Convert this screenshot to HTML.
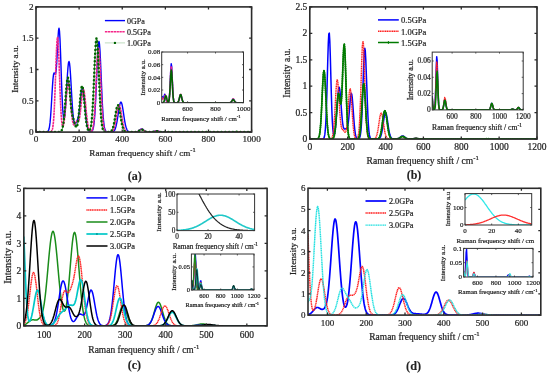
<!DOCTYPE html>
<html><head><meta charset="utf-8"><style>
html,body{margin:0;padding:0;background:#fff;}
svg{display:block;filter:blur(0.3px);}
svg text{font-family:"Liberation Serif", "Times New Roman", serif;stroke:#333;stroke-width:0.22px;paint-order:stroke;}
svg text[font-weight="bold"]{stroke-width:0.12px;}
</style></head><body>
<svg width="550" height="376" viewBox="0 0 550 376">
<rect width="550" height="376" fill="#fff"/>
<clipPath id="c1"><rect x="36.00" y="6.90" width="215.60" height="125.20"/></clipPath>
<g clip-path="url(#c1)">
<path d="M36.0 132.1 L36.5 132.1 L37.0 132.1 L37.5 132.1 L38.0 132.1 L38.5 132.1 L39.0 132.1 L39.5 132.1 L40.0 132.1 L40.5 132.1 L41.0 132.1 L41.5 132.1 L42.0 132.1 L42.5 132.1 L43.0 132.1 L43.5 132.1 L44.0 132.1 L44.5 132.1 L45.0 132.1 L45.5 132.1 L46.0 132.1 L46.5 132.0 L47.0 132.0 L47.5 131.8 L48.0 131.3 L48.5 130.5 L49.0 129.1 L49.5 126.6 L50.0 122.9 L50.5 117.6 L51.0 110.7 L51.5 102.5 L52.0 93.8 L52.5 85.6 L53.0 78.9 L53.5 74.7 L54.0 72.9 L54.5 73.2 L55.0 74.1 L55.5 74.1 L56.0 71.7 L56.5 66.1 L57.0 57.5 L57.5 47.4 L58.0 37.7 L58.5 30.7 L59.0 28.2 L59.5 31.2 L60.0 39.4 L60.5 51.7 L61.0 66.3 L61.5 81.2 L62.0 94.6 L62.5 105.4 L63.0 113.0 L63.5 117.4 L64.0 118.7 L64.5 117.2 L65.0 113.2 L65.5 107.2 L66.0 99.5 L66.5 90.9 L67.0 82.0 L67.5 73.7 L68.0 67.1 L68.5 62.7 L69.0 61.4 L69.5 63.1 L70.0 67.7 L70.5 74.6 L71.0 83.0 L71.5 91.9 L72.0 100.5 L72.5 108.1 L73.0 114.4 L73.5 119.0 L74.0 122.0 L74.5 123.6 L75.0 124.1 L75.5 123.8 L76.0 123.0 L76.5 122.0 L77.0 120.9 L77.5 119.6 L78.0 118.1 L78.5 116.0 L79.0 113.2 L79.5 109.5 L80.0 105.2 L80.5 100.4 L81.0 95.8 L81.5 91.8 L82.0 89.2 L82.5 88.2 L83.0 89.0 L83.5 91.6 L84.0 95.8 L84.5 100.9 L85.0 106.4 L85.5 111.9 L86.0 116.9 L86.5 121.2 L87.0 124.6 L87.5 127.2 L88.0 129.0 L88.5 130.2 L89.0 131.0 L89.5 131.5 L90.0 131.7 L90.5 131.9 L91.0 131.8 L91.5 131.6 L92.0 131.2 L92.5 130.5 L93.0 129.2 L93.5 127.0 L94.0 123.6 L94.5 118.7 L95.0 112.0 L95.5 103.3 L96.0 92.8 L96.5 81.0 L97.0 68.9 L97.5 57.7 L98.0 48.6 L98.5 42.9 L99.0 41.4 L99.5 44.2 L100.0 51.0 L100.5 60.8 L101.0 72.5 L101.5 84.6 L102.0 96.0 L102.5 106.0 L103.0 114.2 L103.5 120.3 L104.0 124.8 L104.5 127.7 L105.0 129.6 L105.5 130.8 L106.0 131.4 L106.5 131.8 L107.0 131.9 L107.5 132.0 L108.0 132.1 L108.5 132.1 L109.0 132.1 L109.5 132.1 L110.0 132.1 L110.5 132.1 L111.0 132.1 L111.5 132.0 L112.0 132.0 L112.5 131.9 L113.0 131.7 L113.5 131.4 L114.0 131.0 L114.5 130.3 L115.0 129.4 L115.5 128.1 L116.0 126.4 L116.5 124.2 L117.0 121.6 L117.5 118.6 L118.0 115.3 L118.5 111.9 L119.0 108.7 L119.5 105.9 L120.0 103.7 L120.5 102.4 L121.0 102.1 L121.5 102.8 L122.0 104.4 L122.5 106.9 L123.0 109.9 L123.5 113.2 L124.0 116.6 L124.5 119.8 L125.0 122.6 L125.5 125.1 L126.0 127.1 L126.5 128.6 L127.0 129.8 L127.5 130.6 L128.0 131.2 L128.5 131.5 L129.0 131.8 L129.5 131.9 L130.0 132.0 L130.5 132.0 L131.0 132.1 L131.5 132.1 L132.0 132.1 L132.5 132.1 L133.0 132.1 L133.5 132.1 L134.0 132.1 L134.5 132.1 L135.0 132.1 L135.5 132.0 L136.0 132.0 L136.5 131.9 L137.0 131.8 L137.5 131.6 L138.0 131.3 L138.5 131.0 L139.0 130.6 L139.5 130.1 L140.0 129.7 L140.5 129.3 L141.0 129.1 L141.5 129.0 L142.0 129.0 L142.5 129.2 L143.0 129.6 L143.5 130.0 L144.1 130.4 L144.6 130.8 L145.1 131.2 L145.6 131.5 L146.1 131.7 L146.6 131.9 L147.1 132.0 L147.6 132.0 L148.1 132.1 L148.6 132.1 L149.1 132.1 L149.6 132.1 L150.1 132.1 L150.6 132.1 L151.1 132.1 L151.6 132.0 L152.1 132.0 L152.6 131.9 L153.1 131.8 L153.6 131.7 L154.1 131.5 L154.6 131.3 L155.1 131.2 L155.6 131.0 L156.1 130.9 L156.6 130.9 L157.1 130.9 L157.6 130.9 L158.1 131.1 L158.6 131.2 L159.1 131.4 L159.6 131.6 L160.1 131.7 L160.6 131.8 L161.1 131.9 L161.6 132.0 L162.1 132.0 L162.6 132.1 L163.1 132.1 L163.6 132.1 L164.1 132.1 L164.6 132.1 L165.1 132.1 L165.6 132.1 L166.1 132.1 L166.6 132.1 L167.1 132.1 L167.6 132.1 L168.1 132.1 L168.6 132.1 L169.1 132.1 L169.6 132.1 L170.1 132.1 L170.6 132.1 L171.1 132.1 L171.6 132.1 L172.1 132.1 L172.6 132.1 L173.1 132.1 L173.6 132.1 L174.1 132.1 L174.6 132.1 L175.1 132.1 L175.6 132.1 L176.1 132.1 L176.6 132.1 L177.1 132.1 L177.6 132.1 L178.1 132.1 L178.6 132.1 L179.1 132.1 L179.6 132.1 L180.1 132.1 L180.6 132.1 L181.1 132.1 L181.6 132.1 L182.1 132.1 L182.6 132.1 L183.1 132.1 L183.6 132.1 L184.1 132.1 L184.6 132.1 L185.1 132.1 L185.6 132.1 L186.1 132.1 L186.6 132.1 L187.1 132.1 L187.6 132.1 L188.1 132.1 L188.6 132.1 L189.1 132.1 L189.6 132.1 L190.1 132.1 L190.6 132.1 L191.1 132.1 L191.6 132.1 L192.1 132.1 L192.6 132.1 L193.1 132.1 L193.6 132.1 L194.1 132.1 L194.6 132.1 L195.1 132.1 L195.6 132.1 L196.1 132.1 L196.6 132.1 L197.1 132.1 L197.6 132.1 L198.1 132.1 L198.6 132.1 L199.1 132.1 L199.6 132.1 L200.1 132.1 L200.6 132.1 L201.1 132.1 L201.6 132.1 L202.1 132.1 L202.6 132.1 L203.1 132.1 L203.6 132.1 L204.1 132.1 L204.6 132.1 L205.1 132.1 L205.6 132.1 L206.1 132.1 L206.6 132.1 L207.1 132.1 L207.6 132.1 L208.1 132.1 L208.6 132.1 L209.1 132.1 L209.6 132.1 L210.1 132.1 L210.6 132.1 L211.1 132.1 L211.6 132.1 L212.1 132.1 L212.6 132.1 L213.1 132.1 L213.6 132.1 L214.1 132.1 L214.6 132.1 L215.1 132.1 L215.6 132.1 L216.1 132.1 L216.6 132.1 L217.1 132.1 L217.6 132.1 L218.1 132.1 L218.6 132.1 L219.1 132.1 L219.6 132.1 L220.1 132.1 L220.6 132.1 L221.1 132.1 L221.6 132.1 L222.1 132.1 L222.6 132.1 L223.1 132.1 L223.6 132.1 L224.1 132.1 L224.6 132.1 L225.1 132.1 L225.6 132.1 L226.1 132.1 L226.6 132.1 L227.1 132.1 L227.6 132.1 L228.1 132.1 L228.6 132.1 L229.1 132.1 L229.6 132.1 L230.1 132.1 L230.6 132.1 L231.1 132.1 L231.6 132.1 L232.1 132.0 L232.6 132.0 L233.1 132.0 L233.6 131.9 L234.1 131.8 L234.6 131.8 L235.1 131.7 L235.6 131.6 L236.1 131.6 L236.6 131.6 L237.1 131.6 L237.6 131.7 L238.1 131.7 L238.6 131.8 L239.1 131.9 L239.6 131.9 L240.1 132.0 L240.6 132.0 L241.1 132.0 L241.6 132.1 L242.1 132.1 L242.6 132.1 L243.1 132.1 L243.6 132.1 L244.1 132.1 L244.6 132.1 L245.1 132.1 L245.6 132.1 L246.1 132.1 L246.6 132.1 L247.1 132.1 L247.6 132.1 L248.1 132.1 L248.6 132.1 L249.1 132.1 L249.6 132.1 L250.1 132.1 L250.6 132.1 L251.1 132.1 L251.6 132.1" fill="none" stroke="#0000ff" stroke-width="1.40" stroke-linejoin="round"/>
<path d="M36.0 132.1 L36.5 132.1 L37.0 132.1 L37.5 132.1 L38.0 132.1 L38.5 132.1 L39.0 132.1 L39.5 132.1 L40.0 132.1 L40.5 132.1 L41.0 132.1 L41.5 132.1 L42.0 132.1 L42.5 132.1 L43.0 132.1 L43.5 132.1 L44.0 132.1 L44.5 132.1 L45.0 132.1 L45.5 132.1 L46.0 132.1 L46.5 132.1 L47.0 132.1 L47.5 132.1 L48.0 132.1 L48.5 132.1 L49.0 132.1 L49.5 132.1 L50.0 132.1 L50.5 132.0 L51.0 131.8 L51.5 131.4 L52.0 130.5 L52.5 128.9 L53.0 126.0 L53.5 121.3 L54.0 114.3 L54.5 104.5 L55.0 92.0 L55.5 77.7 L56.0 63.0 L56.5 49.9 L57.0 40.7 L57.5 37.0 L58.0 39.5 L58.5 47.7 L59.0 60.1 L59.5 74.7 L60.0 89.2 L60.5 102.0 L61.0 112.1 L61.5 119.4 L62.0 123.9 L62.5 126.1 L63.0 126.3 L63.5 125.1 L64.0 122.5 L64.5 118.7 L65.0 113.8 L65.5 108.1 L66.0 101.9 L66.5 95.8 L67.0 90.3 L67.5 86.1 L68.0 83.7 L68.5 83.4 L69.0 85.2 L69.5 88.9 L70.0 94.0 L70.5 100.0 L71.0 106.1 L71.5 111.8 L72.0 116.8 L72.5 120.6 L73.0 123.2 L73.5 124.6 L74.0 125.0 L74.5 124.6 L75.0 123.7 L75.5 122.7 L76.0 121.8 L76.5 121.3 L77.0 121.2 L77.5 121.4 L78.0 121.5 L78.5 121.2 L79.0 120.2 L79.5 118.1 L80.0 115.0 L80.5 110.9 L81.0 106.0 L81.5 101.0 L82.0 96.3 L82.5 92.5 L83.0 90.1 L83.5 89.5 L84.0 90.8 L84.5 93.8 L85.0 98.1 L85.5 103.2 L86.0 108.7 L86.5 113.9 L87.0 118.6 L87.5 122.5 L88.0 125.6 L88.5 127.8 L89.0 129.4 L89.5 130.5 L90.0 131.1 L90.5 131.4 L91.0 131.5 L91.5 131.3 L92.0 130.7 L92.5 129.5 L93.0 127.7 L93.5 124.7 L94.0 120.3 L94.5 114.3 L95.0 106.5 L95.5 96.9 L96.0 86.1 L96.5 74.8 L97.0 64.2 L97.5 55.4 L98.0 49.6 L98.5 47.6 L99.0 49.7 L99.5 55.5 L100.0 64.4 L100.5 75.0 L101.0 86.3 L101.5 97.1 L102.0 106.6 L102.5 114.5 L103.0 120.5 L103.5 124.8 L104.0 127.7 L104.5 129.6 L105.0 130.7 L105.5 131.4 L106.0 131.8 L106.5 131.9 L107.0 132.0 L107.5 132.1 L108.0 132.1 L108.5 132.1 L109.0 132.1 L109.5 132.1 L110.0 132.1 L110.5 132.0 L111.0 131.9 L111.5 131.8 L112.0 131.5 L112.5 131.1 L113.0 130.6 L113.5 129.7 L114.0 128.5 L114.5 126.9 L115.0 124.8 L115.5 122.3 L116.0 119.5 L116.5 116.4 L117.0 113.3 L117.5 110.3 L118.0 107.9 L118.5 106.1 L119.0 105.2 L119.5 105.4 L120.0 106.5 L120.5 108.5 L121.0 111.1 L121.5 114.1 L122.0 117.2 L122.5 120.3 L123.0 123.0 L123.5 125.4 L124.0 127.4 L124.5 128.8 L125.0 130.0 L125.5 130.7 L126.0 131.3 L126.5 131.6 L127.0 131.8 L127.5 131.9 L128.0 132.0 L128.5 132.1 L129.0 132.1 L129.5 132.1 L130.0 132.1 L130.5 132.1 L131.0 132.1 L131.5 132.1 L132.0 132.1 L132.5 132.1 L133.0 132.1 L133.5 132.1 L134.0 132.1 L134.5 132.1 L135.0 132.1 L135.5 132.0 L136.0 132.0 L136.5 131.9 L137.0 131.8 L137.5 131.6 L138.0 131.4 L138.5 131.1 L139.0 130.7 L139.5 130.3 L140.0 130.0 L140.5 129.6 L141.0 129.4 L141.5 129.3 L142.0 129.3 L142.5 129.5 L143.0 129.8 L143.5 130.2 L144.1 130.6 L144.6 131.0 L145.1 131.3 L145.6 131.6 L146.1 131.8 L146.6 131.9 L147.1 132.0 L147.6 132.0 L148.1 132.1 L148.6 132.1 L149.1 132.1 L149.6 132.1 L150.1 132.1 L150.6 132.1 L151.1 132.1 L151.6 132.0 L152.1 132.0 L152.6 131.9 L153.1 131.8 L153.6 131.7 L154.1 131.6 L154.6 131.4 L155.1 131.3 L155.6 131.1 L156.1 131.0 L156.6 131.0 L157.1 131.0 L157.6 131.1 L158.1 131.2 L158.6 131.3 L159.1 131.5 L159.6 131.6 L160.1 131.8 L160.6 131.9 L161.1 131.9 L161.6 132.0 L162.1 132.0 L162.6 132.1 L163.1 132.1 L163.6 132.1 L164.1 132.1 L164.6 132.1 L165.1 132.1 L165.6 132.1 L166.1 132.1 L166.6 132.1 L167.1 132.1 L167.6 132.1 L168.1 132.1 L168.6 132.1 L169.1 132.1 L169.6 132.1 L170.1 132.1 L170.6 132.1 L171.1 132.1 L171.6 132.1 L172.1 132.1 L172.6 132.1 L173.1 132.1 L173.6 132.1 L174.1 132.1 L174.6 132.1 L175.1 132.1 L175.6 132.1 L176.1 132.1 L176.6 132.1 L177.1 132.1 L177.6 132.1 L178.1 132.1 L178.6 132.1 L179.1 132.1 L179.6 132.1 L180.1 132.1 L180.6 132.1 L181.1 132.1 L181.6 132.1 L182.1 132.1 L182.6 132.1 L183.1 132.1 L183.6 132.1 L184.1 132.1 L184.6 132.1 L185.1 132.1 L185.6 132.1 L186.1 132.1 L186.6 132.1 L187.1 132.1 L187.6 132.1 L188.1 132.1 L188.6 132.1 L189.1 132.1 L189.6 132.1 L190.1 132.1 L190.6 132.1 L191.1 132.1 L191.6 132.1 L192.1 132.1 L192.6 132.1 L193.1 132.1 L193.6 132.1 L194.1 132.1 L194.6 132.1 L195.1 132.1 L195.6 132.1 L196.1 132.1 L196.6 132.1 L197.1 132.1 L197.6 132.1 L198.1 132.1 L198.6 132.1 L199.1 132.1 L199.6 132.1 L200.1 132.1 L200.6 132.1 L201.1 132.1 L201.6 132.1 L202.1 132.1 L202.6 132.1 L203.1 132.1 L203.6 132.1 L204.1 132.1 L204.6 132.1 L205.1 132.1 L205.6 132.1 L206.1 132.1 L206.6 132.1 L207.1 132.1 L207.6 132.1 L208.1 132.1 L208.6 132.1 L209.1 132.1 L209.6 132.1 L210.1 132.1 L210.6 132.1 L211.1 132.1 L211.6 132.1 L212.1 132.1 L212.6 132.1 L213.1 132.1 L213.6 132.1 L214.1 132.1 L214.6 132.1 L215.1 132.1 L215.6 132.1 L216.1 132.1 L216.6 132.1 L217.1 132.1 L217.6 132.1 L218.1 132.1 L218.6 132.1 L219.1 132.1 L219.6 132.1 L220.1 132.1 L220.6 132.1 L221.1 132.1 L221.6 132.1 L222.1 132.1 L222.6 132.1 L223.1 132.1 L223.6 132.1 L224.1 132.1 L224.6 132.1 L225.1 132.1 L225.6 132.1 L226.1 132.1 L226.6 132.1 L227.1 132.1 L227.6 132.1 L228.1 132.1 L228.6 132.1 L229.1 132.1 L229.6 132.1 L230.1 132.1 L230.6 132.1 L231.1 132.1 L231.6 132.1 L232.1 132.0 L232.6 132.0 L233.1 132.0 L233.6 131.9 L234.1 131.9 L234.6 131.8 L235.1 131.7 L235.6 131.7 L236.1 131.7 L236.6 131.7 L237.1 131.7 L237.6 131.7 L238.1 131.8 L238.6 131.8 L239.1 131.9 L239.6 131.9 L240.1 132.0 L240.6 132.0 L241.1 132.1 L241.6 132.1 L242.1 132.1 L242.6 132.1 L243.1 132.1 L243.6 132.1 L244.1 132.1 L244.6 132.1 L245.1 132.1 L245.6 132.1 L246.1 132.1 L246.6 132.1 L247.1 132.1 L247.6 132.1 L248.1 132.1 L248.6 132.1 L249.1 132.1 L249.6 132.1 L250.1 132.1 L250.6 132.1 L251.1 132.1 L251.6 132.1" fill="none" stroke="#f5288a" stroke-width="1.60" stroke-dasharray="2.4 0.5"/>
<path d="M36.0 132.1 L36.5 132.1 L37.0 132.1 L37.5 132.1 L38.0 132.1 L38.5 132.1 L39.0 132.1 L39.5 132.1 L40.0 132.1 L40.5 132.1 L41.0 132.1 L41.5 132.1 L42.0 132.1 L42.5 132.1 L43.0 132.1 L43.5 132.1 L44.0 132.1 L44.5 132.1 L45.0 132.1 L45.5 132.1 L46.0 132.1 L46.5 132.1 L47.0 132.1 L47.5 132.1 L48.0 132.1 L48.5 132.1 L49.0 132.1 L49.5 132.1 L50.0 132.1 L50.5 132.1 L51.0 132.1 L51.5 132.1 L52.0 132.1 L52.5 132.1 L53.0 132.1 L53.5 132.1 L54.0 132.1 L54.5 132.1 L55.0 132.1 L55.5 132.1 L56.0 132.1 L56.5 132.1 L57.0 132.1 L57.5 132.1 L58.0 132.1 L58.5 132.1 L59.0 132.1 L59.5 132.0 L60.0 131.9 L60.5 131.7 L61.0 131.3 L61.5 130.7 L62.0 129.6 L62.5 128.0 L63.0 125.6 L63.5 122.3 L64.0 118.0 L64.5 112.6 L65.0 106.3 L65.5 99.4 L66.0 92.5 L66.5 86.3 L67.0 81.4 L67.5 78.4 L68.0 77.6 L68.5 79.2 L69.0 82.9 L69.5 88.2 L70.0 94.2 L70.5 100.3 L71.0 105.7 L71.5 110.2 L72.0 113.5 L72.5 115.9 L73.0 117.7 L73.5 119.3 L74.0 121.0 L74.5 122.8 L75.0 124.6 L75.5 126.1 L76.0 127.0 L76.5 127.2 L77.0 126.4 L77.5 124.5 L78.0 121.5 L78.5 117.5 L79.0 112.5 L79.5 106.9 L80.0 101.0 L80.5 95.4 L81.0 90.6 L81.5 87.3 L82.0 85.8 L82.5 86.4 L83.0 88.9 L83.5 93.0 L84.0 98.3 L84.5 104.2 L85.0 110.0 L85.5 115.4 L86.0 120.0 L86.5 123.7 L87.0 126.5 L87.5 128.5 L88.0 129.8 L88.5 130.6 L89.0 130.8 L89.5 130.6 L90.0 129.9 L90.5 128.4 L91.0 126.0 L91.5 122.4 L92.0 117.3 L92.5 110.4 L93.0 101.6 L93.5 91.2 L94.0 79.6 L94.5 67.6 L95.0 56.4 L95.5 47.1 L96.0 40.7 L96.5 38.2 L97.0 39.8 L97.5 45.4 L98.0 54.1 L98.5 65.0 L99.0 76.9 L99.5 88.7 L100.0 99.4 L100.5 108.6 L101.0 115.9 L101.5 121.4 L102.0 125.4 L102.5 128.1 L103.0 129.8 L103.5 130.8 L104.0 131.4 L104.5 131.8 L105.0 131.9 L105.5 132.0 L106.0 132.1 L106.5 132.1 L107.0 132.1 L107.5 132.1 L108.0 132.1 L108.5 132.1 L109.0 132.0 L109.5 132.0 L110.0 131.8 L110.5 131.6 L111.0 131.3 L111.5 130.8 L112.0 130.1 L112.5 129.0 L113.0 127.6 L113.5 125.7 L114.0 123.4 L114.5 120.7 L115.0 117.7 L115.5 114.5 L116.0 111.5 L116.5 108.8 L117.0 106.7 L117.5 105.5 L118.0 105.2 L118.5 105.9 L119.0 107.6 L119.5 109.9 L120.0 112.8 L120.5 115.9 L121.0 119.0 L121.5 121.9 L122.0 124.5 L122.5 126.6 L123.0 128.3 L123.5 129.5 L124.0 130.4 L124.5 131.1 L125.0 131.5 L125.5 131.7 L126.0 131.9 L126.5 132.0 L127.0 132.0 L127.5 132.1 L128.0 132.1 L128.5 132.1 L129.0 132.1 L129.5 132.1 L130.0 132.1 L130.5 132.1 L131.0 132.1 L131.5 132.1 L132.0 132.1 L132.5 132.1 L133.0 132.1 L133.5 132.1 L134.0 132.1 L134.5 132.1 L135.0 132.1 L135.5 132.1 L136.0 132.0 L136.5 131.9 L137.0 131.8 L137.5 131.7 L138.0 131.5 L138.5 131.2 L139.0 130.9 L139.5 130.5 L140.0 130.2 L140.5 129.9 L141.0 129.7 L141.5 129.6 L142.0 129.6 L142.5 129.8 L143.0 130.1 L143.5 130.4 L144.1 130.8 L144.6 131.1 L145.1 131.4 L145.6 131.6 L146.1 131.8 L146.6 131.9 L147.1 132.0 L147.6 132.0 L148.1 132.1 L148.6 132.1 L149.1 132.1 L149.6 132.1 L150.1 132.1 L150.6 132.1 L151.1 132.1 L151.6 132.0 L152.1 132.0 L152.6 132.0 L153.1 131.9 L153.6 131.8 L154.1 131.7 L154.6 131.5 L155.1 131.4 L155.6 131.3 L156.1 131.2 L156.6 131.2 L157.1 131.2 L157.6 131.2 L158.1 131.3 L158.6 131.4 L159.1 131.6 L159.6 131.7 L160.1 131.8 L160.6 131.9 L161.1 132.0 L161.6 132.0 L162.1 132.1 L162.6 132.1 L163.1 132.1 L163.6 132.1 L164.1 132.1 L164.6 132.1 L165.1 132.1 L165.6 132.1 L166.1 132.1 L166.6 132.1 L167.1 132.1 L167.6 132.1 L168.1 132.1 L168.6 132.1 L169.1 132.1 L169.6 132.1 L170.1 132.1 L170.6 132.1 L171.1 132.1 L171.6 132.1 L172.1 132.1 L172.6 132.1 L173.1 132.1 L173.6 132.1 L174.1 132.1 L174.6 132.1 L175.1 132.1 L175.6 132.1 L176.1 132.1 L176.6 132.1 L177.1 132.1 L177.6 132.1 L178.1 132.1 L178.6 132.1 L179.1 132.1 L179.6 132.1 L180.1 132.1 L180.6 132.1 L181.1 132.1 L181.6 132.1 L182.1 132.1 L182.6 132.1 L183.1 132.1 L183.6 132.1 L184.1 132.1 L184.6 132.1 L185.1 132.1 L185.6 132.1 L186.1 132.1 L186.6 132.1 L187.1 132.1 L187.6 132.1 L188.1 132.1 L188.6 132.1 L189.1 132.1 L189.6 132.1 L190.1 132.1 L190.6 132.1 L191.1 132.1 L191.6 132.1 L192.1 132.1 L192.6 132.1 L193.1 132.1 L193.6 132.1 L194.1 132.1 L194.6 132.1 L195.1 132.1 L195.6 132.1 L196.1 132.1 L196.6 132.1 L197.1 132.1 L197.6 132.1 L198.1 132.1 L198.6 132.1 L199.1 132.1 L199.6 132.1 L200.1 132.1 L200.6 132.1 L201.1 132.1 L201.6 132.1 L202.1 132.1 L202.6 132.1 L203.1 132.1 L203.6 132.1 L204.1 132.1 L204.6 132.1 L205.1 132.1 L205.6 132.1 L206.1 132.1 L206.6 132.1 L207.1 132.1 L207.6 132.1 L208.1 132.1 L208.6 132.1 L209.1 132.1 L209.6 132.1 L210.1 132.1 L210.6 132.1 L211.1 132.1 L211.6 132.1 L212.1 132.1 L212.6 132.1 L213.1 132.1 L213.6 132.1 L214.1 132.1 L214.6 132.1 L215.1 132.1 L215.6 132.1 L216.1 132.1 L216.6 132.1 L217.1 132.1 L217.6 132.1 L218.1 132.1 L218.6 132.1 L219.1 132.1 L219.6 132.1 L220.1 132.1 L220.6 132.1 L221.1 132.1 L221.6 132.1 L222.1 132.1 L222.6 132.1 L223.1 132.1 L223.6 132.1 L224.1 132.1 L224.6 132.1 L225.1 132.1 L225.6 132.1 L226.1 132.1 L226.6 132.1 L227.1 132.1 L227.6 132.1 L228.1 132.1 L228.6 132.1 L229.1 132.1 L229.6 132.1 L230.1 132.1 L230.6 132.1 L231.1 132.1 L231.6 132.1 L232.1 132.1 L232.6 132.0 L233.1 132.0 L233.6 131.9 L234.1 131.9 L234.6 131.8 L235.1 131.8 L235.6 131.8 L236.1 131.7 L236.6 131.7 L237.1 131.7 L237.6 131.8 L238.1 131.8 L238.6 131.9 L239.1 131.9 L239.6 132.0 L240.1 132.0 L240.6 132.0 L241.1 132.1 L241.6 132.1 L242.1 132.1 L242.6 132.1 L243.1 132.1 L243.6 132.1 L244.1 132.1 L244.6 132.1 L245.1 132.1 L245.6 132.1 L246.1 132.1 L246.6 132.1 L247.1 132.1 L247.6 132.1 L248.1 132.1 L248.6 132.1 L249.1 132.1 L249.6 132.1 L250.1 132.1 L250.6 132.1 L251.1 132.1 L251.6 132.1" fill="none" stroke="#007000" stroke-width="0.70" stroke-linejoin="round"/>
<path d="M36.0 132.1 L36.5 132.1 L37.0 132.1 L37.5 132.1 L38.0 132.1 L38.5 132.1 L39.0 132.1 L39.5 132.1 L40.0 132.1 L40.5 132.1 L41.0 132.1 L41.5 132.1 L42.0 132.1 L42.5 132.1 L43.0 132.1 L43.5 132.1 L44.0 132.1 L44.5 132.1 L45.0 132.1 L45.5 132.1 L46.0 132.1 L46.5 132.1 L47.0 132.1 L47.5 132.1 L48.0 132.1 L48.5 132.1 L49.0 132.1 L49.5 132.1 L50.0 132.1 L50.5 132.1 L51.0 132.1 L51.5 132.1 L52.0 132.1 L52.5 132.1 L53.0 132.1 L53.5 132.1 L54.0 132.1 L54.5 132.1 L55.0 132.1 L55.5 132.1 L56.0 132.1 L56.5 132.1 L57.0 132.1 L57.5 132.1 L58.0 132.1 L58.5 132.1 L59.0 132.1 L59.5 132.0 L60.0 131.9 L60.5 131.7 L61.0 131.3 L61.5 130.7 L62.0 129.6 L62.5 128.0 L63.0 125.6 L63.5 122.3 L64.0 118.0 L64.5 112.6 L65.0 106.3 L65.5 99.4 L66.0 92.5 L66.5 86.3 L67.0 81.4 L67.5 78.4 L68.0 77.6 L68.5 79.2 L69.0 82.9 L69.5 88.2 L70.0 94.2 L70.5 100.3 L71.0 105.7 L71.5 110.2 L72.0 113.5 L72.5 115.9 L73.0 117.7 L73.5 119.3 L74.0 121.0 L74.5 122.8 L75.0 124.6 L75.5 126.1 L76.0 127.0 L76.5 127.2 L77.0 126.4 L77.5 124.5 L78.0 121.5 L78.5 117.5 L79.0 112.5 L79.5 106.9 L80.0 101.0 L80.5 95.4 L81.0 90.6 L81.5 87.3 L82.0 85.8 L82.5 86.4 L83.0 88.9 L83.5 93.0 L84.0 98.3 L84.5 104.2 L85.0 110.0 L85.5 115.4 L86.0 120.0 L86.5 123.7 L87.0 126.5 L87.5 128.5 L88.0 129.8 L88.5 130.6 L89.0 130.8 L89.5 130.6 L90.0 129.9 L90.5 128.4 L91.0 126.0 L91.5 122.4 L92.0 117.3 L92.5 110.4 L93.0 101.6 L93.5 91.2 L94.0 79.6 L94.5 67.6 L95.0 56.4 L95.5 47.1 L96.0 40.7 L96.5 38.2 L97.0 39.8 L97.5 45.4 L98.0 54.1 L98.5 65.0 L99.0 76.9 L99.5 88.7 L100.0 99.4 L100.5 108.6 L101.0 115.9 L101.5 121.4 L102.0 125.4 L102.5 128.1 L103.0 129.8 L103.5 130.8 L104.0 131.4 L104.5 131.8 L105.0 131.9 L105.5 132.0 L106.0 132.1 L106.5 132.1 L107.0 132.1 L107.5 132.1 L108.0 132.1 L108.5 132.1 L109.0 132.0 L109.5 132.0 L110.0 131.8 L110.5 131.6 L111.0 131.3 L111.5 130.8 L112.0 130.1 L112.5 129.0 L113.0 127.6 L113.5 125.7 L114.0 123.4 L114.5 120.7 L115.0 117.7 L115.5 114.5 L116.0 111.5 L116.5 108.8 L117.0 106.7 L117.5 105.5 L118.0 105.2 L118.5 105.9 L119.0 107.6 L119.5 109.9 L120.0 112.8 L120.5 115.9 L121.0 119.0 L121.5 121.9 L122.0 124.5 L122.5 126.6 L123.0 128.3 L123.5 129.5 L124.0 130.4 L124.5 131.1 L125.0 131.5 L125.5 131.7 L126.0 131.9 L126.5 132.0 L127.0 132.0 L127.5 132.1 L128.0 132.1 L128.5 132.1 L129.0 132.1 L129.5 132.1 L130.0 132.1 L130.5 132.1 L131.0 132.1 L131.5 132.1 L132.0 132.1 L132.5 132.1 L133.0 132.1 L133.5 132.1 L134.0 132.1 L134.5 132.1 L135.0 132.1 L135.5 132.1 L136.0 132.0 L136.5 131.9 L137.0 131.8 L137.5 131.7 L138.0 131.5 L138.5 131.2 L139.0 130.9 L139.5 130.5 L140.0 130.2 L140.5 129.9 L141.0 129.7 L141.5 129.6 L142.0 129.6 L142.5 129.8 L143.0 130.1 L143.5 130.4 L144.1 130.8 L144.6 131.1 L145.1 131.4 L145.6 131.6 L146.1 131.8 L146.6 131.9 L147.1 132.0 L147.6 132.0 L148.1 132.1 L148.6 132.1 L149.1 132.1 L149.6 132.1 L150.1 132.1 L150.6 132.1 L151.1 132.1 L151.6 132.0 L152.1 132.0 L152.6 132.0 L153.1 131.9 L153.6 131.8 L154.1 131.7 L154.6 131.5 L155.1 131.4 L155.6 131.3 L156.1 131.2 L156.6 131.2 L157.1 131.2 L157.6 131.2 L158.1 131.3 L158.6 131.4 L159.1 131.6 L159.6 131.7 L160.1 131.8 L160.6 131.9 L161.1 132.0 L161.6 132.0 L162.1 132.1 L162.6 132.1 L163.1 132.1 L163.6 132.1 L164.1 132.1 L164.6 132.1 L165.1 132.1 L165.6 132.1 L166.1 132.1 L166.6 132.1 L167.1 132.1 L167.6 132.1 L168.1 132.1 L168.6 132.1 L169.1 132.1 L169.6 132.1 L170.1 132.1 L170.6 132.1 L171.1 132.1 L171.6 132.1 L172.1 132.1 L172.6 132.1 L173.1 132.1 L173.6 132.1 L174.1 132.1 L174.6 132.1 L175.1 132.1 L175.6 132.1 L176.1 132.1 L176.6 132.1 L177.1 132.1 L177.6 132.1 L178.1 132.1 L178.6 132.1 L179.1 132.1 L179.6 132.1 L180.1 132.1 L180.6 132.1 L181.1 132.1 L181.6 132.1 L182.1 132.1 L182.6 132.1 L183.1 132.1 L183.6 132.1 L184.1 132.1 L184.6 132.1 L185.1 132.1 L185.6 132.1 L186.1 132.1 L186.6 132.1 L187.1 132.1 L187.6 132.1 L188.1 132.1 L188.6 132.1 L189.1 132.1 L189.6 132.1 L190.1 132.1 L190.6 132.1 L191.1 132.1 L191.6 132.1 L192.1 132.1 L192.6 132.1 L193.1 132.1 L193.6 132.1 L194.1 132.1 L194.6 132.1 L195.1 132.1 L195.6 132.1 L196.1 132.1 L196.6 132.1 L197.1 132.1 L197.6 132.1 L198.1 132.1 L198.6 132.1 L199.1 132.1 L199.6 132.1 L200.1 132.1 L200.6 132.1 L201.1 132.1 L201.6 132.1 L202.1 132.1 L202.6 132.1 L203.1 132.1 L203.6 132.1 L204.1 132.1 L204.6 132.1 L205.1 132.1 L205.6 132.1 L206.1 132.1 L206.6 132.1 L207.1 132.1 L207.6 132.1 L208.1 132.1 L208.6 132.1 L209.1 132.1 L209.6 132.1 L210.1 132.1 L210.6 132.1 L211.1 132.1 L211.6 132.1 L212.1 132.1 L212.6 132.1 L213.1 132.1 L213.6 132.1 L214.1 132.1 L214.6 132.1 L215.1 132.1 L215.6 132.1 L216.1 132.1 L216.6 132.1 L217.1 132.1 L217.6 132.1 L218.1 132.1 L218.6 132.1 L219.1 132.1 L219.6 132.1 L220.1 132.1 L220.6 132.1 L221.1 132.1 L221.6 132.1 L222.1 132.1 L222.6 132.1 L223.1 132.1 L223.6 132.1 L224.1 132.1 L224.6 132.1 L225.1 132.1 L225.6 132.1 L226.1 132.1 L226.6 132.1 L227.1 132.1 L227.6 132.1 L228.1 132.1 L228.6 132.1 L229.1 132.1 L229.6 132.1 L230.1 132.1 L230.6 132.1 L231.1 132.1 L231.6 132.1 L232.1 132.1 L232.6 132.0 L233.1 132.0 L233.6 131.9 L234.1 131.9 L234.6 131.8 L235.1 131.8 L235.6 131.8 L236.1 131.7 L236.6 131.7 L237.1 131.7 L237.6 131.8 L238.1 131.8 L238.6 131.9 L239.1 131.9 L239.6 132.0 L240.1 132.0 L240.6 132.0 L241.1 132.1 L241.6 132.1 L242.1 132.1 L242.6 132.1 L243.1 132.1 L243.6 132.1 L244.1 132.1 L244.6 132.1 L245.1 132.1 L245.6 132.1 L246.1 132.1 L246.6 132.1 L247.1 132.1 L247.6 132.1 L248.1 132.1 L248.6 132.1 L249.1 132.1 L249.6 132.1 L250.1 132.1 L250.6 132.1 L251.1 132.1 L251.6 132.1" fill="none" stroke="#006400" stroke-width="2.50" stroke-linecap="round" stroke-dasharray="0 3.8"/>
</g>
<rect x="36.00" y="6.90" width="215.60" height="125.20" fill="none" stroke="#2b2b2b" stroke-width="1.60"/>
<path d="M36.00 132.10 V129.60 M36.00 6.90 V9.40 M79.12 132.10 V129.60 M79.12 6.90 V9.40 M122.24 132.10 V129.60 M122.24 6.90 V9.40 M165.36 132.10 V129.60 M165.36 6.90 V9.40 M208.48 132.10 V129.60 M208.48 6.90 V9.40 M251.60 132.10 V129.60 M251.60 6.90 V9.40 M36.00 132.10 H38.50 M251.60 132.10 H249.10 M36.00 100.80 H38.50 M251.60 100.80 H249.10 M36.00 69.50 H38.50 M251.60 69.50 H249.10 M36.00 38.20 H38.50 M251.60 38.20 H249.10 M36.00 6.90 H38.50 M251.60 6.90 H249.10" stroke="#2b2b2b" stroke-width="1.28" fill="none"/>
<text x="36.00" y="142.30" font-size="9.20" text-anchor="middle" font-weight="normal" fill="#222">0</text>
<text x="79.12" y="142.30" font-size="9.20" text-anchor="middle" font-weight="normal" fill="#222">200</text>
<text x="122.24" y="142.30" font-size="9.20" text-anchor="middle" font-weight="normal" fill="#222">400</text>
<text x="165.36" y="142.30" font-size="9.20" text-anchor="middle" font-weight="normal" fill="#222">600</text>
<text x="208.48" y="142.30" font-size="9.20" text-anchor="middle" font-weight="normal" fill="#222">800</text>
<text x="251.60" y="142.30" font-size="9.20" text-anchor="middle" font-weight="normal" fill="#222">1000</text>
<text x="33.50" y="135.14" font-size="9.20" text-anchor="end" font-weight="normal" fill="#222">0</text>
<text x="33.50" y="103.84" font-size="9.20" text-anchor="end" font-weight="normal" fill="#222">0.5</text>
<text x="33.50" y="72.54" font-size="9.20" text-anchor="end" font-weight="normal" fill="#222">1</text>
<text x="33.50" y="41.24" font-size="9.20" text-anchor="end" font-weight="normal" fill="#222">1.5</text>
<text x="33.50" y="9.94" font-size="9.20" text-anchor="end" font-weight="normal" fill="#222">2</text>
<path d="M104.90 20.60 H125.00" stroke="#0000ff" stroke-width="1.40"/>
<text x="127.00" y="23.72" font-size="8.00" text-anchor="start" font-weight="normal" fill="#222">0GPa</text>
<path d="M104.90 31.80 H125.00" stroke="#f5288a" stroke-width="1.60" stroke-dasharray="2.4 0.5"/>
<text x="127.00" y="34.92" font-size="8.00" text-anchor="start" font-weight="normal" fill="#222">0.5GPa</text>
<path d="M104.90 42.90 H125.00" stroke="#b8d8b8" stroke-width="0.90"/>
<circle cx="114.95" cy="42.90" r="1.2" fill="#006400"/>
<text x="127.00" y="46.02" font-size="8.00" text-anchor="start" font-weight="normal" fill="#222">1.0GPa</text>
<rect x="161.70" y="52.00" width="81.80" height="50.70" fill="#fff"/>
<clipPath id="c2"><rect x="161.70" y="52.00" width="81.80" height="50.70"/></clipPath>
<g clip-path="url(#c2)">
<path d="M161.7 96.4 L162.2 96.7 L162.7 97.5 L163.2 98.1 L163.7 97.5 L164.2 95.7 L164.7 94.1 L165.2 94.7 L165.7 97.4 L166.2 100.2 L166.7 101.9 L167.2 102.5 L167.7 102.6 L168.2 102.5 L168.7 101.6 L169.2 98.9 L169.7 92.7 L170.2 82.2 L170.7 70.4 L171.2 63.7 L171.7 66.4 L172.2 76.7 L172.7 88.4 L173.2 96.7 L173.7 100.7 L174.2 102.2 L174.7 102.6 L175.2 102.7 L175.8 102.7 L176.3 102.7 L176.8 102.7 L177.3 102.6 L177.8 102.4 L178.3 101.7 L178.8 100.5 L179.3 98.6 L179.8 96.4 L180.3 94.8 L180.8 94.6 L181.3 95.9 L181.8 98.1 L182.3 100.1 L182.8 101.5 L183.3 102.3 L183.8 102.6 L184.3 102.7 L184.8 102.7 L185.3 102.7 L185.8 102.7 L186.3 102.7 L186.8 102.7 L187.3 102.7 L187.8 102.7 L188.3 102.7 L188.8 102.7 L189.3 102.7 L189.8 102.7 L190.3 102.7 L190.8 102.7 L191.3 102.7 L191.8 102.7 L192.3 102.7 L192.8 102.7 L193.3 102.7 L193.8 102.7 L194.3 102.7 L194.8 102.7 L195.3 102.7 L195.8 102.7 L196.3 102.7 L196.8 102.7 L197.3 102.7 L197.8 102.7 L198.3 102.7 L198.8 102.7 L199.3 102.7 L199.8 102.7 L200.3 102.7 L200.8 102.7 L201.3 102.7 L201.8 102.7 L202.3 102.7 L202.9 102.7 L203.4 102.7 L203.9 102.7 L204.4 102.7 L204.9 102.7 L205.4 102.7 L205.9 102.7 L206.4 102.7 L206.9 102.7 L207.4 102.7 L207.9 102.7 L208.4 102.7 L208.9 102.7 L209.4 102.7 L209.9 102.7 L210.4 102.7 L210.9 102.7 L211.4 102.7 L211.9 102.7 L212.4 102.7 L212.9 102.7 L213.4 102.7 L213.9 102.7 L214.4 102.7 L214.9 102.7 L215.4 102.7 L215.9 102.7 L216.4 102.7 L216.9 102.7 L217.4 102.7 L217.9 102.7 L218.4 102.7 L218.9 102.7 L219.4 102.7 L219.9 102.7 L220.4 102.7 L220.9 102.7 L221.4 102.7 L221.9 102.7 L222.4 102.7 L222.9 102.7 L223.4 102.7 L223.9 102.7 L224.4 102.7 L224.9 102.7 L225.4 102.7 L225.9 102.7 L226.4 102.7 L226.9 102.7 L227.4 102.7 L227.9 102.7 L228.4 102.7 L228.9 102.7 L229.4 102.7 L230.0 102.6 L230.5 102.5 L231.0 102.1 L231.5 101.5 L232.0 100.6 L232.5 99.6 L233.0 99.0 L233.5 99.0 L234.0 99.8 L234.5 100.8 L235.0 101.7 L235.5 102.3 L236.0 102.5 L236.5 102.7 L237.0 102.7 L237.5 102.7 L238.0 102.7 L238.5 102.7 L239.0 102.7 L239.5 102.7 L240.0 102.7 L240.5 102.7 L241.0 102.7 L241.5 102.7 L242.0 102.7 L242.5 102.7 L243.0 102.7 L243.5 102.7" fill="none" stroke="#0000ff" stroke-width="1.40" stroke-linejoin="round"/>
<path d="M161.7 97.6 L162.2 97.9 L162.7 98.7 L163.2 99.4 L163.7 99.4 L164.2 98.2 L164.7 96.3 L165.2 95.5 L165.7 96.9 L166.2 99.3 L166.7 101.3 L167.2 102.3 L167.7 102.6 L168.2 102.5 L168.7 101.7 L169.2 99.2 L169.7 93.3 L170.2 83.5 L170.7 72.5 L171.2 66.2 L171.7 68.7 L172.2 78.4 L172.7 89.3 L173.2 97.0 L173.7 100.9 L174.2 102.2 L174.7 102.6 L175.2 102.7 L175.8 102.7 L176.3 102.7 L176.8 102.7 L177.3 102.6 L177.8 102.4 L178.3 101.7 L178.8 100.5 L179.3 98.6 L179.8 96.4 L180.3 94.8 L180.8 94.6 L181.3 95.9 L181.8 98.1 L182.3 100.1 L182.8 101.5 L183.3 102.3 L183.8 102.6 L184.3 102.7 L184.8 102.7 L185.3 102.7 L185.8 102.7 L186.3 102.7 L186.8 102.7 L187.3 102.7 L187.8 102.7 L188.3 102.7 L188.8 102.7 L189.3 102.7 L189.8 102.7 L190.3 102.7 L190.8 102.7 L191.3 102.7 L191.8 102.7 L192.3 102.7 L192.8 102.7 L193.3 102.7 L193.8 102.7 L194.3 102.7 L194.8 102.7 L195.3 102.7 L195.8 102.7 L196.3 102.7 L196.8 102.7 L197.3 102.7 L197.8 102.7 L198.3 102.7 L198.8 102.7 L199.3 102.7 L199.8 102.7 L200.3 102.7 L200.8 102.7 L201.3 102.7 L201.8 102.7 L202.3 102.7 L202.9 102.7 L203.4 102.7 L203.9 102.7 L204.4 102.7 L204.9 102.7 L205.4 102.7 L205.9 102.7 L206.4 102.7 L206.9 102.7 L207.4 102.7 L207.9 102.7 L208.4 102.7 L208.9 102.7 L209.4 102.7 L209.9 102.7 L210.4 102.7 L210.9 102.7 L211.4 102.7 L211.9 102.7 L212.4 102.7 L212.9 102.7 L213.4 102.7 L213.9 102.7 L214.4 102.7 L214.9 102.7 L215.4 102.7 L215.9 102.7 L216.4 102.7 L216.9 102.7 L217.4 102.7 L217.9 102.7 L218.4 102.7 L218.9 102.7 L219.4 102.7 L219.9 102.7 L220.4 102.7 L220.9 102.7 L221.4 102.7 L221.9 102.7 L222.4 102.7 L222.9 102.7 L223.4 102.7 L223.9 102.7 L224.4 102.7 L224.9 102.7 L225.4 102.7 L225.9 102.7 L226.4 102.7 L226.9 102.7 L227.4 102.7 L227.9 102.7 L228.4 102.7 L228.9 102.7 L229.4 102.7 L230.0 102.6 L230.5 102.5 L231.0 102.1 L231.5 101.5 L232.0 100.6 L232.5 99.6 L233.0 99.0 L233.5 99.0 L234.0 99.8 L234.5 100.8 L235.0 101.7 L235.5 102.3 L236.0 102.5 L236.5 102.7 L237.0 102.7 L237.5 102.7 L238.0 102.7 L238.5 102.7 L239.0 102.7 L239.5 102.7 L240.0 102.7 L240.5 102.7 L241.0 102.7 L241.5 102.7 L242.0 102.7 L242.5 102.7 L243.0 102.7 L243.5 102.7" fill="none" stroke="#f5288a" stroke-width="1.60" stroke-dasharray="2.4 0.5"/>
<path d="M161.7 102.7 L162.2 102.7 L162.7 102.7 L163.2 102.5 L163.7 102.1 L164.2 101.1 L164.7 99.3 L165.2 97.2 L165.7 95.8 L166.2 96.1 L166.7 97.8 L167.2 99.9 L167.7 101.4 L168.2 102.1 L168.7 101.7 L169.2 99.5 L169.7 94.3 L170.2 85.5 L170.7 75.6 L171.2 70.0 L171.7 72.2 L172.2 80.9 L172.7 90.7 L173.2 97.6 L173.7 101.1 L174.2 102.3 L174.7 102.6 L175.2 102.7 L175.8 102.7 L176.3 102.7 L176.8 102.7 L177.3 102.6 L177.8 102.4 L178.3 101.7 L178.8 100.5 L179.3 98.6 L179.8 96.4 L180.3 94.8 L180.8 94.6 L181.3 95.9 L181.8 98.1 L182.3 100.1 L182.8 101.5 L183.3 102.3 L183.8 102.6 L184.3 102.7 L184.8 102.7 L185.3 102.7 L185.8 102.7 L186.3 102.7 L186.8 102.7 L187.3 102.7 L187.8 102.7 L188.3 102.7 L188.8 102.7 L189.3 102.7 L189.8 102.7 L190.3 102.7 L190.8 102.7 L191.3 102.7 L191.8 102.7 L192.3 102.7 L192.8 102.7 L193.3 102.7 L193.8 102.7 L194.3 102.7 L194.8 102.7 L195.3 102.7 L195.8 102.7 L196.3 102.7 L196.8 102.7 L197.3 102.7 L197.8 102.7 L198.3 102.7 L198.8 102.7 L199.3 102.7 L199.8 102.7 L200.3 102.7 L200.8 102.7 L201.3 102.7 L201.8 102.7 L202.3 102.7 L202.9 102.7 L203.4 102.7 L203.9 102.7 L204.4 102.7 L204.9 102.7 L205.4 102.7 L205.9 102.7 L206.4 102.7 L206.9 102.7 L207.4 102.7 L207.9 102.7 L208.4 102.7 L208.9 102.7 L209.4 102.7 L209.9 102.7 L210.4 102.7 L210.9 102.7 L211.4 102.7 L211.9 102.7 L212.4 102.7 L212.9 102.7 L213.4 102.7 L213.9 102.7 L214.4 102.7 L214.9 102.7 L215.4 102.7 L215.9 102.7 L216.4 102.7 L216.9 102.7 L217.4 102.7 L217.9 102.7 L218.4 102.7 L218.9 102.7 L219.4 102.7 L219.9 102.7 L220.4 102.7 L220.9 102.7 L221.4 102.7 L221.9 102.7 L222.4 102.7 L222.9 102.7 L223.4 102.7 L223.9 102.7 L224.4 102.7 L224.9 102.7 L225.4 102.7 L225.9 102.7 L226.4 102.7 L226.9 102.7 L227.4 102.7 L227.9 102.7 L228.4 102.7 L228.9 102.7 L229.4 102.7 L230.0 102.6 L230.5 102.5 L231.0 102.2 L231.5 101.7 L232.0 100.9 L232.5 100.1 L233.0 99.6 L233.5 99.7 L234.0 100.3 L234.5 101.1 L235.0 101.9 L235.5 102.3 L236.0 102.6 L236.5 102.7 L237.0 102.7 L237.5 102.7 L238.0 102.7 L238.5 102.7 L239.0 102.7 L239.5 102.7 L240.0 102.7 L240.5 102.7 L241.0 102.7 L241.5 102.7 L242.0 102.7 L242.5 102.7 L243.0 102.7 L243.5 102.7" fill="none" stroke="#006400" stroke-width="1.60" stroke-linejoin="round"/>
</g>
<rect x="161.70" y="52.00" width="81.80" height="50.70" fill="none" stroke="#333" stroke-width="1.00"/>
<path d="M187.57 102.70 V101.20 M187.57 52.00 V53.50 M215.53 102.70 V101.20 M215.53 52.00 V53.50 M243.50 102.70 V101.20 M243.50 52.00 V53.50 M161.70 102.70 H163.20 M243.50 102.70 H242.00 M161.70 90.03 H163.20 M243.50 90.03 H242.00 M161.70 77.35 H163.20 M243.50 77.35 H242.00 M161.70 64.67 H163.20 M243.50 64.67 H242.00 M161.70 52.00 H163.20 M243.50 52.00 H242.00" stroke="#333" stroke-width="0.80" fill="none"/>
<text x="187.57" y="110.90" font-size="7.00" text-anchor="middle" font-weight="normal" fill="#222">600</text>
<text x="215.53" y="110.90" font-size="7.00" text-anchor="middle" font-weight="normal" fill="#222">800</text>
<text x="243.50" y="110.90" font-size="7.00" text-anchor="middle" font-weight="normal" fill="#222">1000</text>
<text x="160.20" y="105.01" font-size="7.00" text-anchor="end" font-weight="normal" fill="#222">0</text>
<text x="160.20" y="92.34" font-size="7.00" text-anchor="end" font-weight="normal" fill="#222">0.02</text>
<text x="160.20" y="79.66" font-size="7.00" text-anchor="end" font-weight="normal" fill="#222">0.04</text>
<text x="160.20" y="66.98" font-size="7.00" text-anchor="end" font-weight="normal" fill="#222">0.06</text>
<text x="160.20" y="54.31" font-size="7.00" text-anchor="end" font-weight="normal" fill="#222">0.08</text>
<text x="201.00" y="120.90" font-size="6.80" text-anchor="middle" fill="#222">Raman frequency shift / cm<tspan font-size="4.76" dy="-2.72">-1</tspan></text>
<text x="144.70" y="77.30" font-size="7.00" text-anchor="middle" font-weight="normal" fill="#222" transform="rotate(-90 144.70 77.30)">Intensity a.u.</text>
<text x="142.50" y="156.00" font-size="9.10" text-anchor="middle" fill="#222">Raman frequency shift / cm<tspan font-size="6.37" dy="-3.64">-1</tspan></text>
<text x="17.60" y="69.00" font-size="9.20" text-anchor="middle" font-weight="normal" fill="#222" transform="rotate(-90 17.60 69.00)">Intensity a.u.</text>
<text x="134.70" y="179.80" font-size="12.00" text-anchor="middle" font-weight="bold" fill="#222">(a)</text>
<clipPath id="c3"><rect x="309.80" y="6.90" width="227.20" height="132.20"/></clipPath>
<g clip-path="url(#c3)">
<path d="M309.8 139.1 L310.3 139.1 L310.8 139.1 L311.3 139.1 L311.8 139.1 L312.3 139.1 L312.8 139.1 L313.3 139.1 L313.8 139.1 L314.3 139.1 L314.8 139.1 L315.3 139.1 L315.8 139.1 L316.3 139.1 L316.8 139.1 L317.3 139.1 L317.8 139.1 L318.3 139.1 L318.8 139.1 L319.3 139.1 L319.8 139.1 L320.3 139.1 L320.8 139.1 L321.3 139.1 L321.8 139.1 L322.3 139.1 L322.8 139.0 L323.3 138.8 L323.8 138.3 L324.3 137.1 L324.8 134.7 L325.3 130.2 L325.8 122.7 L326.3 111.3 L326.8 96.0 L327.3 77.8 L327.8 59.1 L328.3 43.3 L328.8 33.9 L329.3 33.1 L329.8 41.1 L330.3 55.9 L330.8 74.4 L331.3 92.9 L331.8 108.8 L332.3 120.7 L332.8 128.6 L333.3 133.0 L333.8 134.8 L334.3 134.6 L334.8 132.7 L335.3 129.4 L335.8 124.6 L336.3 118.4 L336.8 111.3 L337.3 103.8 L337.8 96.7 L338.3 91.1 L338.8 87.8 L339.3 87.3 L339.8 89.7 L340.3 94.4 L340.8 100.8 L341.3 107.7 L341.8 114.4 L342.3 120.0 L342.8 124.1 L343.3 126.9 L343.8 128.3 L344.3 128.9 L344.8 129.0 L345.3 128.9 L345.8 128.7 L346.3 128.6 L346.8 128.2 L347.3 127.3 L347.8 125.5 L348.3 122.3 L348.8 117.8 L349.3 112.0 L349.8 105.6 L350.3 99.6 L350.8 95.2 L351.3 93.2 L351.8 94.3 L352.3 98.2 L352.8 104.2 L353.3 111.4 L353.8 118.5 L354.3 124.9 L354.8 129.9 L355.3 133.6 L355.8 136.0 L356.3 137.5 L356.8 138.3 L357.3 138.7 L357.8 138.9 L358.3 138.9 L358.8 138.8 L359.3 138.3 L359.8 137.3 L360.3 135.4 L360.8 131.9 L361.3 126.1 L361.8 117.5 L362.3 105.8 L362.8 91.6 L363.3 76.3 L363.8 62.4 L364.3 52.3 L364.8 48.2 L365.3 51.0 L365.8 60.1 L366.3 73.5 L366.9 88.7 L367.4 103.3 L367.9 115.5 L368.4 124.7 L368.9 131.0 L369.4 134.9 L369.9 137.1 L370.4 138.2 L370.9 138.7 L371.4 139.0 L371.9 139.0 L372.4 139.1 L372.9 139.1 L373.4 139.1 L373.9 139.1 L374.4 139.1 L374.9 139.1 L375.4 139.1 L375.9 139.1 L376.4 139.1 L376.9 139.1 L377.4 139.1 L377.9 139.0 L378.4 138.9 L378.9 138.7 L379.4 138.4 L379.9 137.9 L380.4 137.1 L380.9 135.9 L381.4 134.2 L381.9 131.9 L382.4 129.1 L382.9 125.8 L383.4 122.3 L383.9 118.9 L384.4 115.9 L384.9 113.8 L385.4 112.7 L385.9 112.9 L386.4 114.4 L386.9 116.8 L387.4 120.0 L387.9 123.5 L388.4 127.0 L388.9 130.1 L389.4 132.7 L389.9 134.8 L390.4 136.4 L390.9 137.4 L391.4 138.1 L391.9 138.6 L392.4 138.8 L392.9 139.0 L393.4 139.0 L393.9 139.1 L394.4 139.1 L394.9 139.1 L395.4 139.1 L395.9 139.1 L396.4 139.0 L396.9 139.0 L397.4 138.9 L397.9 138.7 L398.4 138.5 L398.9 138.3 L399.4 137.9 L399.9 137.5 L400.4 137.1 L400.9 136.7 L401.4 136.3 L401.9 136.1 L402.4 135.9 L402.9 136.0 L403.4 136.1 L403.9 136.4 L404.4 136.8 L404.9 137.2 L405.4 137.6 L405.9 138.0 L406.4 138.3 L406.9 138.6 L407.4 138.8 L407.9 138.9 L408.4 139.0 L408.9 139.0 L409.4 139.1 L409.9 139.1 L410.4 139.1 L410.9 139.1 L411.4 139.0 L411.9 139.0 L412.4 138.9 L412.9 138.9 L413.4 138.8 L413.9 138.6 L414.4 138.5 L414.9 138.4 L415.4 138.3 L415.9 138.3 L416.4 138.3 L416.9 138.4 L417.4 138.5 L417.9 138.7 L418.4 138.8 L418.9 138.9 L419.4 139.0 L419.9 139.0 L420.4 139.1 L420.9 139.1 L421.4 139.1 L421.9 139.1 L422.4 139.1 L422.9 139.1 L423.4 139.1 L423.9 139.1 L424.4 139.1 L424.9 139.1 L425.4 139.1 L425.9 139.1 L426.4 139.1 L426.9 139.1 L427.4 139.1 L427.9 139.1 L428.4 139.1 L428.9 139.1 L429.4 139.1 L429.9 139.1 L430.4 139.1 L430.9 139.1 L431.4 139.1 L431.9 139.1 L432.4 139.1 L432.9 139.1 L433.4 139.1 L433.9 139.1 L434.4 139.1 L434.9 139.1 L435.4 139.1 L435.9 139.1 L436.4 139.1 L436.9 139.1 L437.4 139.1 L437.9 139.1 L438.4 139.1 L438.9 139.1 L439.4 139.1 L439.9 139.1 L440.4 139.1 L440.9 139.1 L441.4 139.1 L441.9 139.1 L442.4 139.1 L442.9 139.1 L443.4 139.1 L443.9 139.1 L444.4 139.1 L444.9 139.1 L445.4 139.1 L445.9 139.1 L446.4 139.1 L446.9 139.1 L447.4 139.1 L447.9 139.1 L448.4 139.1 L448.9 139.1 L449.4 139.1 L449.9 139.1 L450.4 139.1 L450.9 139.1 L451.4 139.1 L451.9 139.1 L452.4 139.1 L452.9 139.1 L453.4 139.1 L453.9 139.1 L454.4 139.1 L454.9 139.1 L455.4 139.1 L455.9 139.1 L456.4 139.1 L456.9 139.1 L457.4 139.1 L457.9 139.1 L458.4 139.1 L458.9 139.1 L459.4 139.1 L459.9 139.1 L460.4 139.1 L460.9 139.1 L461.4 139.1 L461.9 139.1 L462.4 139.1 L462.9 139.1 L463.4 139.1 L463.9 139.1 L464.4 139.1 L464.9 139.1 L465.4 139.1 L465.9 139.1 L466.4 139.1 L466.9 139.1 L467.4 139.1 L467.9 139.1 L468.4 139.1 L468.9 139.1 L469.4 139.1 L469.9 139.1 L470.4 139.1 L470.9 139.1 L471.4 139.1 L471.9 139.1 L472.4 139.1 L472.9 139.1 L473.4 139.1 L473.9 139.1 L474.4 139.1 L474.9 139.1 L475.4 139.1 L475.9 139.1 L476.4 139.1 L476.9 139.1 L477.4 139.1 L477.9 139.1 L478.4 139.1 L478.9 139.1 L479.4 139.1 L479.9 139.1 L480.5 139.1 L481.0 139.1 L481.5 139.1 L482.0 139.1 L482.5 139.1 L483.0 139.0 L483.5 139.0 L484.0 139.0 L484.5 138.9 L485.0 138.8 L485.5 138.8 L486.0 138.7 L486.5 138.7 L487.0 138.7 L487.5 138.7 L488.0 138.7 L488.5 138.8 L489.0 138.9 L489.5 138.9 L490.0 139.0 L490.5 139.0 L491.0 139.1 L491.5 139.1 L492.0 139.1 L492.5 139.1 L493.0 139.1 L493.5 139.1 L494.0 139.1 L494.5 139.1 L495.0 139.1 L495.5 139.1 L496.0 139.1 L496.5 139.1 L497.0 139.1 L497.5 139.1 L498.0 139.1 L498.5 139.1 L499.0 139.1 L499.5 139.1 L500.0 139.1 L500.5 139.1 L501.0 139.1 L501.5 139.1 L502.0 139.1 L502.5 139.1 L503.0 139.1 L503.5 139.1 L504.0 139.1 L504.5 139.1 L505.0 139.1 L505.5 139.1 L506.0 139.1 L506.5 139.1 L507.0 139.1 L507.5 139.1 L508.0 139.1 L508.5 139.1 L509.0 139.1 L509.5 139.1 L510.0 139.1 L510.5 139.1 L511.0 139.1 L511.5 139.1 L512.0 139.1 L512.5 139.1 L513.0 139.1 L513.5 139.1 L514.0 139.1 L514.5 139.1 L515.0 139.1 L515.5 139.1 L516.0 139.1 L516.5 139.1 L517.0 139.1 L517.5 139.1 L518.0 139.1 L518.5 139.1 L519.0 139.1 L519.5 139.1 L520.0 139.1 L520.5 139.1 L521.0 139.1 L521.5 139.1 L522.0 139.1 L522.5 139.1 L523.0 139.1 L523.5 139.1 L524.0 139.1 L524.5 139.1 L525.0 139.1 L525.5 139.1 L526.0 139.1 L526.5 139.1 L527.0 139.1 L527.5 139.1 L528.0 139.1 L528.5 139.1 L529.0 139.1 L529.5 139.1 L530.0 139.1 L530.5 139.1 L531.0 139.1 L531.5 139.1 L532.0 139.1 L532.5 139.1 L533.0 139.1 L533.5 139.1 L534.0 139.1 L534.5 139.1 L535.0 139.1 L535.5 139.1 L536.0 139.1 L536.5 139.1 L537.0 139.1" fill="none" stroke="#0000ff" stroke-width="1.50" stroke-linejoin="round"/>
<path d="M309.8 139.1 L310.3 139.1 L310.8 139.1 L311.3 139.1 L311.8 139.1 L312.3 139.1 L312.8 139.1 L313.3 139.1 L313.8 139.1 L314.3 139.1 L314.8 139.1 L315.3 139.1 L315.8 139.1 L316.3 139.1 L316.8 139.1 L317.3 139.1 L317.8 139.1 L318.3 139.1 L318.8 139.1 L319.3 139.1 L319.8 139.1 L320.3 139.1 L320.8 139.1 L321.3 139.1 L321.8 139.1 L322.3 139.1 L322.8 139.1 L323.3 139.1 L323.8 139.1 L324.3 139.1 L324.8 139.1 L325.3 139.1 L325.8 139.1 L326.3 139.1 L326.8 139.1 L327.3 139.1 L327.8 139.1 L328.3 139.1 L328.8 139.1 L329.3 139.1 L329.8 139.1 L330.3 139.0 L330.8 138.9 L331.3 138.7 L331.8 138.1 L332.3 137.1 L332.8 135.3 L333.3 132.2 L333.8 127.6 L334.3 121.2 L334.8 113.1 L335.3 103.9 L335.8 94.5 L336.3 86.5 L336.8 81.2 L337.3 79.5 L337.8 81.8 L338.3 87.6 L338.8 95.5 L339.3 104.2 L339.8 112.3 L340.3 118.9 L340.8 123.6 L341.3 126.7 L341.8 128.4 L342.3 129.3 L342.8 129.8 L343.3 130.3 L343.8 130.9 L344.3 131.6 L344.8 132.1 L345.3 132.2 L345.8 131.5 L346.3 129.6 L346.8 126.1 L347.3 120.9 L347.8 114.2 L348.3 106.5 L348.8 99.0 L349.3 92.9 L349.8 89.4 L350.3 89.1 L350.8 92.2 L351.3 98.1 L351.8 105.7 L352.3 113.7 L352.8 121.1 L353.3 127.2 L353.8 131.7 L354.3 134.9 L354.8 136.8 L355.3 138.0 L355.8 138.5 L356.3 138.8 L356.8 138.7 L357.3 138.4 L357.8 137.5 L358.3 135.7 L358.8 132.3 L359.3 126.7 L359.8 118.1 L360.3 106.1 L360.8 91.2 L361.3 74.8 L361.8 59.1 L362.3 47.1 L362.8 41.1 L363.3 42.5 L363.8 51.0 L364.3 64.7 L364.8 81.0 L365.3 97.1 L365.8 111.0 L366.3 121.7 L366.9 129.1 L367.4 133.8 L367.9 136.5 L368.4 137.9 L368.9 138.6 L369.4 138.9 L369.9 139.0 L370.4 139.1 L370.9 139.1 L371.4 139.1 L371.9 139.1 L372.4 139.1 L372.9 139.1 L373.4 139.0 L373.9 139.0 L374.4 138.8 L374.9 138.6 L375.4 138.1 L375.9 137.4 L376.4 136.4 L376.9 134.8 L377.4 132.8 L377.9 130.2 L378.4 127.1 L378.9 123.7 L379.4 120.3 L379.9 117.2 L380.4 114.8 L380.9 113.4 L381.4 113.3 L381.9 114.3 L382.4 116.5 L382.9 119.4 L383.4 122.8 L383.9 126.2 L384.4 129.4 L384.9 132.2 L385.4 134.4 L385.9 136.0 L386.4 137.2 L386.9 138.0 L387.4 138.5 L387.9 138.8 L388.4 138.9 L388.9 139.0 L389.4 139.1 L389.9 139.1 L390.4 139.1 L390.9 139.1 L391.4 139.1 L391.9 139.1 L392.4 139.1 L392.9 139.1 L393.4 139.1 L393.9 139.1 L394.4 139.1 L394.9 139.1 L395.4 139.1 L395.9 139.1 L396.4 139.0 L396.9 139.0 L397.4 138.9 L397.9 138.8 L398.4 138.6 L398.9 138.4 L399.4 138.1 L399.9 137.8 L400.4 137.4 L400.9 137.1 L401.4 136.8 L401.9 136.6 L402.4 136.5 L402.9 136.5 L403.4 136.6 L403.9 136.9 L404.4 137.2 L404.9 137.5 L405.4 137.9 L405.9 138.2 L406.4 138.5 L406.9 138.7 L407.4 138.8 L407.9 138.9 L408.4 139.0 L408.9 139.0 L409.4 139.1 L409.9 139.1 L410.4 139.1 L410.9 139.1 L411.4 139.0 L411.9 139.0 L412.4 138.9 L412.9 138.9 L413.4 138.8 L413.9 138.6 L414.4 138.5 L414.9 138.4 L415.4 138.3 L415.9 138.3 L416.4 138.3 L416.9 138.4 L417.4 138.5 L417.9 138.7 L418.4 138.8 L418.9 138.9 L419.4 139.0 L419.9 139.0 L420.4 139.1 L420.9 139.1 L421.4 139.1 L421.9 139.1 L422.4 139.1 L422.9 139.1 L423.4 139.1 L423.9 139.1 L424.4 139.1 L424.9 139.1 L425.4 139.1 L425.9 139.1 L426.4 139.1 L426.9 139.1 L427.4 139.1 L427.9 139.1 L428.4 139.1 L428.9 139.1 L429.4 139.1 L429.9 139.1 L430.4 139.1 L430.9 139.1 L431.4 139.1 L431.9 139.1 L432.4 139.1 L432.9 139.1 L433.4 139.1 L433.9 139.1 L434.4 139.1 L434.9 139.1 L435.4 139.1 L435.9 139.1 L436.4 139.1 L436.9 139.1 L437.4 139.1 L437.9 139.1 L438.4 139.1 L438.9 139.1 L439.4 139.1 L439.9 139.1 L440.4 139.1 L440.9 139.1 L441.4 139.1 L441.9 139.1 L442.4 139.1 L442.9 139.1 L443.4 139.1 L443.9 139.1 L444.4 139.1 L444.9 139.1 L445.4 139.1 L445.9 139.1 L446.4 139.1 L446.9 139.1 L447.4 139.1 L447.9 139.1 L448.4 139.1 L448.9 139.1 L449.4 139.1 L449.9 139.1 L450.4 139.1 L450.9 139.1 L451.4 139.1 L451.9 139.1 L452.4 139.1 L452.9 139.1 L453.4 139.1 L453.9 139.1 L454.4 139.1 L454.9 139.1 L455.4 139.1 L455.9 139.1 L456.4 139.1 L456.9 139.1 L457.4 139.1 L457.9 139.1 L458.4 139.1 L458.9 139.1 L459.4 139.1 L459.9 139.1 L460.4 139.1 L460.9 139.1 L461.4 139.1 L461.9 139.1 L462.4 139.1 L462.9 139.1 L463.4 139.1 L463.9 139.1 L464.4 139.1 L464.9 139.1 L465.4 139.1 L465.9 139.1 L466.4 139.1 L466.9 139.1 L467.4 139.1 L467.9 139.1 L468.4 139.1 L468.9 139.1 L469.4 139.1 L469.9 139.1 L470.4 139.1 L470.9 139.1 L471.4 139.1 L471.9 139.1 L472.4 139.1 L472.9 139.1 L473.4 139.1 L473.9 139.1 L474.4 139.1 L474.9 139.1 L475.4 139.1 L475.9 139.1 L476.4 139.1 L476.9 139.1 L477.4 139.1 L477.9 139.1 L478.4 139.1 L478.9 139.1 L479.4 139.1 L479.9 139.1 L480.5 139.1 L481.0 139.1 L481.5 139.1 L482.0 139.1 L482.5 139.1 L483.0 139.0 L483.5 139.0 L484.0 139.0 L484.5 138.9 L485.0 138.8 L485.5 138.8 L486.0 138.7 L486.5 138.7 L487.0 138.7 L487.5 138.7 L488.0 138.7 L488.5 138.8 L489.0 138.9 L489.5 138.9 L490.0 139.0 L490.5 139.0 L491.0 139.1 L491.5 139.1 L492.0 139.1 L492.5 139.1 L493.0 139.1 L493.5 139.1 L494.0 139.1 L494.5 139.1 L495.0 139.1 L495.5 139.1 L496.0 139.1 L496.5 139.1 L497.0 139.1 L497.5 139.1 L498.0 139.1 L498.5 139.1 L499.0 139.1 L499.5 139.1 L500.0 139.1 L500.5 139.1 L501.0 139.1 L501.5 139.1 L502.0 139.1 L502.5 139.1 L503.0 139.1 L503.5 139.1 L504.0 139.1 L504.5 139.1 L505.0 139.1 L505.5 139.1 L506.0 139.1 L506.5 139.1 L507.0 139.1 L507.5 139.1 L508.0 139.1 L508.5 139.1 L509.0 139.1 L509.5 139.1 L510.0 139.1 L510.5 139.1 L511.0 139.1 L511.5 139.1 L512.0 139.1 L512.5 139.1 L513.0 139.1 L513.5 139.1 L514.0 139.1 L514.5 139.1 L515.0 139.1 L515.5 139.1 L516.0 139.1 L516.5 139.1 L517.0 139.1 L517.5 139.1 L518.0 139.1 L518.5 139.1 L519.0 139.1 L519.5 139.1 L520.0 139.1 L520.5 139.1 L521.0 139.1 L521.5 139.1 L522.0 139.1 L522.5 139.1 L523.0 139.1 L523.5 139.1 L524.0 139.1 L524.5 139.1 L525.0 139.1 L525.5 139.1 L526.0 139.1 L526.5 139.1 L527.0 139.1 L527.5 139.1 L528.0 139.1 L528.5 139.1 L529.0 139.1 L529.5 139.1 L530.0 139.1 L530.5 139.1 L531.0 139.1 L531.5 139.1 L532.0 139.1 L532.5 139.1 L533.0 139.1 L533.5 139.1 L534.0 139.1 L534.5 139.1 L535.0 139.1 L535.5 139.1 L536.0 139.1 L536.5 139.1 L537.0 139.1" fill="none" stroke="#ff2020" stroke-width="1.45" stroke-dasharray="1.3 0.45"/>
<path d="M309.8 139.1 L310.3 139.1 L310.8 139.1 L311.3 139.1 L311.8 139.1 L312.3 139.1 L312.8 139.1 L313.3 139.1 L313.8 139.1 L314.3 139.1 L314.8 139.1 L315.3 139.1 L315.8 139.1 L316.3 139.1 L316.8 139.0 L317.3 139.0 L317.8 138.8 L318.3 138.4 L318.8 137.5 L319.3 135.9 L319.8 133.2 L320.3 128.8 L320.8 122.5 L321.3 114.0 L321.8 103.9 L322.3 92.9 L322.8 82.7 L323.3 74.7 L323.8 70.7 L324.3 71.3 L324.8 76.4 L325.3 85.1 L325.8 95.7 L326.3 106.5 L326.8 116.3 L327.3 124.3 L327.8 130.1 L328.3 134.0 L328.8 136.4 L329.3 137.8 L329.8 138.5 L330.3 138.8 L330.8 139.0 L331.3 139.0 L331.8 139.0 L332.3 138.9 L332.8 138.7 L333.3 138.1 L333.8 137.2 L334.3 135.5 L334.8 132.7 L335.3 128.7 L335.8 123.3 L336.3 116.7 L336.8 109.5 L337.3 102.6 L337.8 97.0 L338.3 93.8 L338.8 93.4 L339.3 95.6 L339.8 99.3 L340.3 102.8 L340.8 104.2 L341.3 101.7 L341.8 94.4 L342.3 82.9 L342.8 68.9 L343.3 55.6 L343.8 46.4 L344.3 44.1 L344.8 49.4 L345.3 61.4 L345.8 77.3 L346.3 93.9 L346.8 108.8 L347.3 120.5 L347.8 128.6 L348.3 133.7 L348.8 136.5 L349.3 138.0 L349.8 138.7 L350.3 138.9 L350.8 139.0 L351.3 139.1 L351.8 139.1 L352.3 139.1 L352.8 139.1 L353.3 139.1 L353.8 139.1 L354.3 139.1 L354.8 139.1 L355.3 139.1 L355.8 139.1 L356.3 139.1 L356.8 139.1 L357.3 139.0 L357.8 138.9 L358.3 138.5 L358.8 137.8 L359.3 136.4 L359.8 133.9 L360.3 129.9 L360.8 124.2 L361.3 116.6 L361.8 107.6 L362.3 98.3 L362.8 90.3 L363.3 85.0 L363.8 83.6 L364.3 86.5 L364.8 92.9 L365.3 101.5 L365.8 110.8 L366.3 119.4 L366.9 126.4 L367.4 131.5 L367.9 134.9 L368.4 137.0 L368.9 138.1 L369.4 138.7 L369.9 138.9 L370.4 139.0 L370.9 139.1 L371.4 139.1 L371.9 139.1 L372.4 139.1 L372.9 139.1 L373.4 139.1 L373.9 139.1 L374.4 139.1 L374.9 139.1 L375.4 139.1 L375.9 139.1 L376.4 139.1 L376.9 139.0 L377.4 139.0 L377.9 138.8 L378.4 138.6 L378.9 138.1 L379.4 137.4 L379.9 136.3 L380.4 134.8 L380.9 132.6 L381.4 129.9 L381.9 126.5 L382.4 122.8 L382.9 119.1 L383.4 115.6 L383.9 112.7 L384.4 111.0 L384.9 110.6 L385.4 111.5 L385.9 113.7 L386.4 116.8 L386.9 120.4 L387.4 124.2 L387.9 127.8 L388.4 130.9 L388.9 133.5 L389.4 135.4 L389.9 136.8 L390.4 137.7 L390.9 138.3 L391.4 138.7 L391.9 138.9 L392.4 139.0 L392.9 139.0 L393.4 139.1 L393.9 139.1 L394.4 139.1 L394.9 139.1 L395.4 139.1 L395.9 139.1 L396.4 139.0 L396.9 139.0 L397.4 138.9 L397.9 138.8 L398.4 138.6 L398.9 138.4 L399.4 138.1 L399.9 137.8 L400.4 137.4 L400.9 137.1 L401.4 136.8 L401.9 136.6 L402.4 136.5 L402.9 136.5 L403.4 136.6 L403.9 136.9 L404.4 137.2 L404.9 137.5 L405.4 137.9 L405.9 138.2 L406.4 138.5 L406.9 138.7 L407.4 138.8 L407.9 138.9 L408.4 139.0 L408.9 139.0 L409.4 139.1 L409.9 139.1 L410.4 139.1 L410.9 139.1 L411.4 139.1 L411.9 139.0 L412.4 139.0 L412.9 138.9 L413.4 138.8 L413.9 138.7 L414.4 138.6 L414.9 138.5 L415.4 138.4 L415.9 138.4 L416.4 138.4 L416.9 138.5 L417.4 138.6 L417.9 138.7 L418.4 138.8 L418.9 138.9 L419.4 139.0 L419.9 139.0 L420.4 139.1 L420.9 139.1 L421.4 139.1 L421.9 139.1 L422.4 139.1 L422.9 139.1 L423.4 139.1 L423.9 139.1 L424.4 139.1 L424.9 139.1 L425.4 139.1 L425.9 139.1 L426.4 139.1 L426.9 139.1 L427.4 139.1 L427.9 139.1 L428.4 139.1 L428.9 139.1 L429.4 139.1 L429.9 139.1 L430.4 139.1 L430.9 139.1 L431.4 139.1 L431.9 139.1 L432.4 139.1 L432.9 139.1 L433.4 139.1 L433.9 139.1 L434.4 139.1 L434.9 139.1 L435.4 139.1 L435.9 139.1 L436.4 139.1 L436.9 139.1 L437.4 139.1 L437.9 139.1 L438.4 139.1 L438.9 139.1 L439.4 139.1 L439.9 139.1 L440.4 139.1 L440.9 139.1 L441.4 139.1 L441.9 139.1 L442.4 139.1 L442.9 139.1 L443.4 139.1 L443.9 139.1 L444.4 139.1 L444.9 139.1 L445.4 139.1 L445.9 139.1 L446.4 139.1 L446.9 139.1 L447.4 139.1 L447.9 139.1 L448.4 139.1 L448.9 139.1 L449.4 139.1 L449.9 139.1 L450.4 139.1 L450.9 139.1 L451.4 139.1 L451.9 139.1 L452.4 139.1 L452.9 139.1 L453.4 139.1 L453.9 139.1 L454.4 139.1 L454.9 139.1 L455.4 139.1 L455.9 139.1 L456.4 139.1 L456.9 139.1 L457.4 139.1 L457.9 139.1 L458.4 139.1 L458.9 139.1 L459.4 139.1 L459.9 139.1 L460.4 139.1 L460.9 139.1 L461.4 139.1 L461.9 139.1 L462.4 139.1 L462.9 139.1 L463.4 139.1 L463.9 139.1 L464.4 139.1 L464.9 139.1 L465.4 139.1 L465.9 139.1 L466.4 139.1 L466.9 139.1 L467.4 139.1 L467.9 139.1 L468.4 139.1 L468.9 139.1 L469.4 139.1 L469.9 139.1 L470.4 139.1 L470.9 139.1 L471.4 139.1 L471.9 139.1 L472.4 139.1 L472.9 139.1 L473.4 139.1 L473.9 139.1 L474.4 139.1 L474.9 139.1 L475.4 139.1 L475.9 139.1 L476.4 139.1 L476.9 139.1 L477.4 139.1 L477.9 139.1 L478.4 139.1 L478.9 139.1 L479.4 139.1 L479.9 139.1 L480.5 139.1 L481.0 139.1 L481.5 139.1 L482.0 139.1 L482.5 139.1 L483.0 139.0 L483.5 139.0 L484.0 139.0 L484.5 138.9 L485.0 138.8 L485.5 138.8 L486.0 138.7 L486.5 138.7 L487.0 138.7 L487.5 138.7 L488.0 138.7 L488.5 138.8 L489.0 138.9 L489.5 138.9 L490.0 139.0 L490.5 139.0 L491.0 139.1 L491.5 139.1 L492.0 139.1 L492.5 139.1 L493.0 139.1 L493.5 139.1 L494.0 139.1 L494.5 139.1 L495.0 139.1 L495.5 139.1 L496.0 139.1 L496.5 139.1 L497.0 139.1 L497.5 139.1 L498.0 139.1 L498.5 139.1 L499.0 139.1 L499.5 139.1 L500.0 139.1 L500.5 139.1 L501.0 139.1 L501.5 139.1 L502.0 139.1 L502.5 139.1 L503.0 139.1 L503.5 139.1 L504.0 139.1 L504.5 139.1 L505.0 139.1 L505.5 139.1 L506.0 139.1 L506.5 139.1 L507.0 139.1 L507.5 139.1 L508.0 139.1 L508.5 139.1 L509.0 139.1 L509.5 139.1 L510.0 139.1 L510.5 139.1 L511.0 139.1 L511.5 139.1 L512.0 139.1 L512.5 139.1 L513.0 139.1 L513.5 139.1 L514.0 139.1 L514.5 139.1 L515.0 139.1 L515.5 139.1 L516.0 139.1 L516.5 139.1 L517.0 139.1 L517.5 139.1 L518.0 139.1 L518.5 139.1 L519.0 139.1 L519.5 139.1 L520.0 139.1 L520.5 139.1 L521.0 139.1 L521.5 139.1 L522.0 139.1 L522.5 139.1 L523.0 139.1 L523.5 139.1 L524.0 139.1 L524.5 139.1 L525.0 139.1 L525.5 139.1 L526.0 139.1 L526.5 139.1 L527.0 139.1 L527.5 139.1 L528.0 139.1 L528.5 139.1 L529.0 139.1 L529.5 139.1 L530.0 139.1 L530.5 139.1 L531.0 139.1 L531.5 139.1 L532.0 139.1 L532.5 139.1 L533.0 139.1 L533.5 139.1 L534.0 139.1 L534.5 139.1 L535.0 139.1 L535.5 139.1 L536.0 139.1 L536.5 139.1 L537.0 139.1" fill="none" stroke="#007a00" stroke-width="1.50" stroke-linejoin="round"/>
<path d="M309.8 139.1 L310.3 139.1 L310.8 139.1 L311.3 139.1 L311.8 139.1 L312.3 139.1 L312.8 139.1 L313.3 139.1 L313.8 139.1 L314.3 139.1 L314.8 139.1 L315.3 139.1 L315.8 139.1 L316.3 139.1 L316.8 139.0 L317.3 139.0 L317.8 138.8 L318.3 138.4 L318.8 137.5 L319.3 135.9 L319.8 133.2 L320.3 128.8 L320.8 122.5 L321.3 114.0 L321.8 103.9 L322.3 92.9 L322.8 82.7 L323.3 74.7 L323.8 70.7 L324.3 71.3 L324.8 76.4 L325.3 85.1 L325.8 95.7 L326.3 106.5 L326.8 116.3 L327.3 124.3 L327.8 130.1 L328.3 134.0 L328.8 136.4 L329.3 137.8 L329.8 138.5 L330.3 138.8 L330.8 139.0 L331.3 139.0 L331.8 139.0 L332.3 138.9 L332.8 138.7 L333.3 138.1 L333.8 137.2 L334.3 135.5 L334.8 132.7 L335.3 128.7 L335.8 123.3 L336.3 116.7 L336.8 109.5 L337.3 102.6 L337.8 97.0 L338.3 93.8 L338.8 93.4 L339.3 95.6 L339.8 99.3 L340.3 102.8 L340.8 104.2 L341.3 101.7 L341.8 94.4 L342.3 82.9 L342.8 68.9 L343.3 55.6 L343.8 46.4 L344.3 44.1 L344.8 49.4 L345.3 61.4 L345.8 77.3 L346.3 93.9 L346.8 108.8 L347.3 120.5 L347.8 128.6 L348.3 133.7 L348.8 136.5 L349.3 138.0 L349.8 138.7 L350.3 138.9 L350.8 139.0 L351.3 139.1 L351.8 139.1 L352.3 139.1 L352.8 139.1 L353.3 139.1 L353.8 139.1 L354.3 139.1 L354.8 139.1 L355.3 139.1 L355.8 139.1 L356.3 139.1 L356.8 139.1 L357.3 139.0 L357.8 138.9 L358.3 138.5 L358.8 137.8 L359.3 136.4 L359.8 133.9 L360.3 129.9 L360.8 124.2 L361.3 116.6 L361.8 107.6 L362.3 98.3 L362.8 90.3 L363.3 85.0 L363.8 83.6 L364.3 86.5 L364.8 92.9 L365.3 101.5 L365.8 110.8 L366.3 119.4 L366.9 126.4 L367.4 131.5 L367.9 134.9 L368.4 137.0 L368.9 138.1 L369.4 138.7 L369.9 138.9 L370.4 139.0 L370.9 139.1 L371.4 139.1 L371.9 139.1 L372.4 139.1 L372.9 139.1 L373.4 139.1 L373.9 139.1 L374.4 139.1 L374.9 139.1 L375.4 139.1 L375.9 139.1 L376.4 139.1 L376.9 139.0 L377.4 139.0 L377.9 138.8 L378.4 138.6 L378.9 138.1 L379.4 137.4 L379.9 136.3 L380.4 134.8 L380.9 132.6 L381.4 129.9 L381.9 126.5 L382.4 122.8 L382.9 119.1 L383.4 115.6 L383.9 112.7 L384.4 111.0 L384.9 110.6 L385.4 111.5 L385.9 113.7 L386.4 116.8 L386.9 120.4 L387.4 124.2 L387.9 127.8 L388.4 130.9 L388.9 133.5 L389.4 135.4 L389.9 136.8 L390.4 137.7 L390.9 138.3 L391.4 138.7 L391.9 138.9 L392.4 139.0 L392.9 139.0 L393.4 139.1 L393.9 139.1 L394.4 139.1 L394.9 139.1 L395.4 139.1 L395.9 139.1 L396.4 139.0 L396.9 139.0 L397.4 138.9 L397.9 138.8 L398.4 138.6 L398.9 138.4 L399.4 138.1 L399.9 137.8 L400.4 137.4 L400.9 137.1 L401.4 136.8 L401.9 136.6 L402.4 136.5 L402.9 136.5 L403.4 136.6 L403.9 136.9 L404.4 137.2 L404.9 137.5 L405.4 137.9 L405.9 138.2 L406.4 138.5 L406.9 138.7 L407.4 138.8 L407.9 138.9 L408.4 139.0 L408.9 139.0 L409.4 139.1 L409.9 139.1 L410.4 139.1 L410.9 139.1 L411.4 139.1 L411.9 139.0 L412.4 139.0 L412.9 138.9 L413.4 138.8 L413.9 138.7 L414.4 138.6 L414.9 138.5 L415.4 138.4 L415.9 138.4 L416.4 138.4 L416.9 138.5 L417.4 138.6 L417.9 138.7 L418.4 138.8 L418.9 138.9 L419.4 139.0 L419.9 139.0 L420.4 139.1 L420.9 139.1 L421.4 139.1 L421.9 139.1 L422.4 139.1 L422.9 139.1 L423.4 139.1 L423.9 139.1 L424.4 139.1 L424.9 139.1 L425.4 139.1 L425.9 139.1 L426.4 139.1 L426.9 139.1 L427.4 139.1 L427.9 139.1 L428.4 139.1 L428.9 139.1 L429.4 139.1 L429.9 139.1 L430.4 139.1 L430.9 139.1 L431.4 139.1 L431.9 139.1 L432.4 139.1 L432.9 139.1 L433.4 139.1 L433.9 139.1 L434.4 139.1 L434.9 139.1 L435.4 139.1 L435.9 139.1 L436.4 139.1 L436.9 139.1 L437.4 139.1 L437.9 139.1 L438.4 139.1 L438.9 139.1 L439.4 139.1 L439.9 139.1 L440.4 139.1 L440.9 139.1 L441.4 139.1 L441.9 139.1 L442.4 139.1 L442.9 139.1 L443.4 139.1 L443.9 139.1 L444.4 139.1 L444.9 139.1 L445.4 139.1 L445.9 139.1 L446.4 139.1 L446.9 139.1 L447.4 139.1 L447.9 139.1 L448.4 139.1 L448.9 139.1 L449.4 139.1 L449.9 139.1 L450.4 139.1 L450.9 139.1 L451.4 139.1 L451.9 139.1 L452.4 139.1 L452.9 139.1 L453.4 139.1 L453.9 139.1 L454.4 139.1 L454.9 139.1 L455.4 139.1 L455.9 139.1 L456.4 139.1 L456.9 139.1 L457.4 139.1 L457.9 139.1 L458.4 139.1 L458.9 139.1 L459.4 139.1 L459.9 139.1 L460.4 139.1 L460.9 139.1 L461.4 139.1 L461.9 139.1 L462.4 139.1 L462.9 139.1 L463.4 139.1 L463.9 139.1 L464.4 139.1 L464.9 139.1 L465.4 139.1 L465.9 139.1 L466.4 139.1 L466.9 139.1 L467.4 139.1 L467.9 139.1 L468.4 139.1 L468.9 139.1 L469.4 139.1 L469.9 139.1 L470.4 139.1 L470.9 139.1 L471.4 139.1 L471.9 139.1 L472.4 139.1 L472.9 139.1 L473.4 139.1 L473.9 139.1 L474.4 139.1 L474.9 139.1 L475.4 139.1 L475.9 139.1 L476.4 139.1 L476.9 139.1 L477.4 139.1 L477.9 139.1 L478.4 139.1 L478.9 139.1 L479.4 139.1 L479.9 139.1 L480.5 139.1 L481.0 139.1 L481.5 139.1 L482.0 139.1 L482.5 139.1 L483.0 139.0 L483.5 139.0 L484.0 139.0 L484.5 138.9 L485.0 138.8 L485.5 138.8 L486.0 138.7 L486.5 138.7 L487.0 138.7 L487.5 138.7 L488.0 138.7 L488.5 138.8 L489.0 138.9 L489.5 138.9 L490.0 139.0 L490.5 139.0 L491.0 139.1 L491.5 139.1 L492.0 139.1 L492.5 139.1 L493.0 139.1 L493.5 139.1 L494.0 139.1 L494.5 139.1 L495.0 139.1 L495.5 139.1 L496.0 139.1 L496.5 139.1 L497.0 139.1 L497.5 139.1 L498.0 139.1 L498.5 139.1 L499.0 139.1 L499.5 139.1 L500.0 139.1 L500.5 139.1 L501.0 139.1 L501.5 139.1 L502.0 139.1 L502.5 139.1 L503.0 139.1 L503.5 139.1 L504.0 139.1 L504.5 139.1 L505.0 139.1 L505.5 139.1 L506.0 139.1 L506.5 139.1 L507.0 139.1 L507.5 139.1 L508.0 139.1 L508.5 139.1 L509.0 139.1 L509.5 139.1 L510.0 139.1 L510.5 139.1 L511.0 139.1 L511.5 139.1 L512.0 139.1 L512.5 139.1 L513.0 139.1 L513.5 139.1 L514.0 139.1 L514.5 139.1 L515.0 139.1 L515.5 139.1 L516.0 139.1 L516.5 139.1 L517.0 139.1 L517.5 139.1 L518.0 139.1 L518.5 139.1 L519.0 139.1 L519.5 139.1 L520.0 139.1 L520.5 139.1 L521.0 139.1 L521.5 139.1 L522.0 139.1 L522.5 139.1 L523.0 139.1 L523.5 139.1 L524.0 139.1 L524.5 139.1 L525.0 139.1 L525.5 139.1 L526.0 139.1 L526.5 139.1 L527.0 139.1 L527.5 139.1 L528.0 139.1 L528.5 139.1 L529.0 139.1 L529.5 139.1 L530.0 139.1 L530.5 139.1 L531.0 139.1 L531.5 139.1 L532.0 139.1 L532.5 139.1 L533.0 139.1 L533.5 139.1 L534.0 139.1 L534.5 139.1 L535.0 139.1 L535.5 139.1 L536.0 139.1 L536.5 139.1 L537.0 139.1" fill="none" stroke="#007a00" stroke-width="2.00" stroke-linecap="round" stroke-dasharray="0 2.2"/>
</g>
<rect x="309.80" y="6.90" width="227.20" height="132.20" fill="none" stroke="#2b2b2b" stroke-width="1.60"/>
<path d="M309.80 139.10 V136.60 M309.80 6.90 V9.40 M347.67 139.10 V136.60 M347.67 6.90 V9.40 M385.53 139.10 V136.60 M385.53 6.90 V9.40 M423.40 139.10 V136.60 M423.40 6.90 V9.40 M461.27 139.10 V136.60 M461.27 6.90 V9.40 M499.13 139.10 V136.60 M499.13 6.90 V9.40 M537.00 139.10 V136.60 M537.00 6.90 V9.40 M309.80 139.10 H312.30 M537.00 139.10 H534.50 M309.80 112.66 H312.30 M537.00 112.66 H534.50 M309.80 86.22 H312.30 M537.00 86.22 H534.50 M309.80 59.78 H312.30 M537.00 59.78 H534.50 M309.80 33.34 H312.30 M537.00 33.34 H534.50 M309.80 6.90 H312.30 M537.00 6.90 H534.50" stroke="#2b2b2b" stroke-width="1.28" fill="none"/>
<text x="309.80" y="149.50" font-size="9.50" text-anchor="middle" font-weight="normal" fill="#222">0</text>
<text x="347.67" y="149.50" font-size="9.50" text-anchor="middle" font-weight="normal" fill="#222">200</text>
<text x="385.53" y="149.50" font-size="9.50" text-anchor="middle" font-weight="normal" fill="#222">400</text>
<text x="423.40" y="149.50" font-size="9.50" text-anchor="middle" font-weight="normal" fill="#222">600</text>
<text x="461.27" y="149.50" font-size="9.50" text-anchor="middle" font-weight="normal" fill="#222">800</text>
<text x="499.13" y="149.50" font-size="9.50" text-anchor="middle" font-weight="normal" fill="#222">1000</text>
<text x="537.00" y="149.50" font-size="9.50" text-anchor="middle" font-weight="normal" fill="#222">1200</text>
<text x="307.30" y="142.23" font-size="9.50" text-anchor="end" font-weight="normal" fill="#222">0</text>
<text x="307.30" y="115.80" font-size="9.50" text-anchor="end" font-weight="normal" fill="#222">0.5</text>
<text x="307.30" y="89.36" font-size="9.50" text-anchor="end" font-weight="normal" fill="#222">1</text>
<text x="307.30" y="62.91" font-size="9.50" text-anchor="end" font-weight="normal" fill="#222">1.5</text>
<text x="307.30" y="36.48" font-size="9.50" text-anchor="end" font-weight="normal" fill="#222">2</text>
<text x="307.30" y="10.04" font-size="9.50" text-anchor="end" font-weight="normal" fill="#222">2.5</text>
<path d="M378.00 19.90 H398.80" stroke="#0000ff" stroke-width="1.50"/>
<text x="401.00" y="23.21" font-size="8.50" text-anchor="start" font-weight="normal" fill="#222">0.5GPa</text>
<path d="M378.00 31.20 H398.80" stroke="#ff2020" stroke-width="1.45" stroke-dasharray="1.3 0.45"/>
<text x="401.00" y="34.52" font-size="8.50" text-anchor="start" font-weight="normal" fill="#222">1.0GPa</text>
<path d="M378.00 42.50 H398.80" stroke="#007a00" stroke-width="1.50"/>
<path d="M388.40 41.00 V44.00" stroke="#007a00" stroke-width="0.9"/>
<text x="401.00" y="45.81" font-size="8.50" text-anchor="start" font-weight="normal" fill="#222">1.5GPa</text>
<rect x="432.20" y="52.10" width="91.00" height="57.80" fill="#fff"/>
<clipPath id="c4"><rect x="432.20" y="52.10" width="91.00" height="57.80"/></clipPath>
<g clip-path="url(#c4)">
<path d="M432.2 96.1 L432.7 103.9 L433.2 108.3 L433.7 109.6 L434.2 109.5 L434.7 107.9 L435.2 101.9 L435.7 88.3 L436.2 69.2 L436.7 56.7 L437.2 61.4 L437.7 79.2 L438.2 96.4 L438.7 105.8 L439.2 109.0 L439.7 109.8 L440.2 109.9 L440.7 109.9 L441.2 109.9 L441.7 109.9 L442.2 109.7 L442.7 109.1 L443.2 107.7 L443.7 105.0 L444.2 101.7 L444.7 99.5 L445.2 99.9 L445.7 102.6 L446.2 105.9 L446.7 108.2 L447.2 109.4 L447.7 109.8 L448.2 109.9 L448.7 109.9 L449.2 109.9 L449.7 109.9 L450.2 109.9 L450.7 109.9 L451.2 109.9 L451.7 109.9 L452.2 109.9 L452.7 109.9 L453.2 109.9 L453.7 109.9 L454.2 109.9 L454.7 109.9 L455.2 109.9 L455.7 109.9 L456.2 109.9 L456.7 109.9 L457.2 109.9 L457.7 109.9 L458.2 109.9 L458.7 109.9 L459.2 109.9 L459.7 109.9 L460.2 109.9 L460.7 109.9 L461.2 109.9 L461.7 109.9 L462.2 109.9 L462.7 109.9 L463.2 109.9 L463.7 109.9 L464.2 109.9 L464.7 109.9 L465.2 109.9 L465.7 109.9 L466.2 109.9 L466.7 109.9 L467.2 109.9 L467.7 109.9 L468.2 109.9 L468.7 109.9 L469.2 109.9 L469.7 109.9 L470.2 109.9 L470.7 109.9 L471.2 109.9 L471.7 109.9 L472.2 109.9 L472.7 109.9 L473.2 109.9 L473.7 109.9 L474.2 109.9 L474.7 109.9 L475.2 109.9 L475.7 109.9 L476.2 109.9 L476.7 109.9 L477.2 109.9 L477.7 109.9 L478.2 109.9 L478.7 109.9 L479.2 109.9 L479.7 109.9 L480.2 109.9 L480.7 109.9 L481.2 109.9 L481.7 109.9 L482.2 109.9 L482.7 109.9 L483.2 109.9 L483.7 109.9 L484.2 109.9 L484.7 109.9 L485.2 109.9 L485.7 109.9 L486.2 109.9 L486.7 109.9 L487.2 109.9 L487.7 109.9 L488.2 109.9 L488.7 109.9 L489.2 109.7 L489.7 109.3 L490.2 108.3 L490.7 106.6 L491.2 104.6 L491.7 103.4 L492.2 103.9 L492.7 105.7 L493.2 107.7 L493.7 109.0 L494.2 109.6 L494.7 109.8 L495.2 109.9 L495.7 109.9 L496.2 109.9 L496.7 109.9 L497.2 109.9 L497.7 109.9 L498.2 109.9 L498.7 109.9 L499.2 109.9 L499.7 109.9 L500.2 109.9 L500.7 109.9 L501.2 109.9 L501.7 109.9 L502.2 109.9 L502.7 109.9 L503.2 109.9 L503.7 109.9 L504.2 109.9 L504.7 109.9 L505.2 109.9 L505.7 109.9 L506.2 109.9 L506.7 109.9 L507.2 109.9 L507.7 109.9 L508.2 109.9 L508.7 109.9 L509.2 109.9 L509.7 109.9 L510.2 109.9 L510.7 109.8 L511.2 109.6 L511.7 109.3 L512.2 109.1 L512.7 109.1 L513.2 109.3 L513.7 109.5 L514.2 109.7 L514.7 109.8 L515.2 109.9 L515.7 109.9 L516.2 109.8 L516.7 109.5 L517.2 108.9 L517.7 108.1 L518.2 107.5 L518.7 107.5 L519.2 108.1 L519.7 108.9 L520.2 109.4 L520.7 109.7 L521.2 109.9 L521.7 109.9 L522.2 109.9 L522.7 109.9 L523.2 109.9" fill="none" stroke="#0000ff" stroke-width="1.50" stroke-linejoin="round"/>
<path d="M432.2 97.2 L432.7 104.4 L433.2 108.4 L433.7 109.6 L434.2 109.5 L434.7 108.0 L435.2 102.7 L435.7 90.3 L436.2 72.9 L436.7 61.5 L437.2 65.8 L437.7 82.0 L438.2 97.6 L438.7 106.1 L439.2 109.1 L439.7 109.8 L440.2 109.9 L440.7 109.9 L441.2 109.9 L441.7 109.9 L442.2 109.7 L442.7 109.0 L443.2 107.3 L443.7 104.3 L444.2 100.4 L444.7 97.9 L445.2 98.4 L445.7 101.5 L446.2 105.3 L446.7 108.0 L447.2 109.3 L447.7 109.8 L448.2 109.9 L448.7 109.9 L449.2 109.9 L449.7 109.9 L450.2 109.9 L450.7 109.9 L451.2 109.9 L451.7 109.9 L452.2 109.9 L452.7 109.9 L453.2 109.9 L453.7 109.9 L454.2 109.9 L454.7 109.9 L455.2 109.9 L455.7 109.9 L456.2 109.9 L456.7 109.9 L457.2 109.9 L457.7 109.9 L458.2 109.9 L458.7 109.9 L459.2 109.9 L459.7 109.9 L460.2 109.9 L460.7 109.9 L461.2 109.9 L461.7 109.9 L462.2 109.9 L462.7 109.9 L463.2 109.9 L463.7 109.9 L464.2 109.9 L464.7 109.9 L465.2 109.9 L465.7 109.9 L466.2 109.9 L466.7 109.9 L467.2 109.9 L467.7 109.9 L468.2 109.9 L468.7 109.9 L469.2 109.9 L469.7 109.9 L470.2 109.9 L470.7 109.9 L471.2 109.9 L471.7 109.9 L472.2 109.9 L472.7 109.9 L473.2 109.9 L473.7 109.9 L474.2 109.9 L474.7 109.9 L475.2 109.9 L475.7 109.9 L476.2 109.9 L476.7 109.9 L477.2 109.9 L477.7 109.9 L478.2 109.9 L478.7 109.9 L479.2 109.9 L479.7 109.9 L480.2 109.9 L480.7 109.9 L481.2 109.9 L481.7 109.9 L482.2 109.9 L482.7 109.9 L483.2 109.9 L483.7 109.9 L484.2 109.9 L484.7 109.9 L485.2 109.9 L485.7 109.9 L486.2 109.9 L486.7 109.9 L487.2 109.9 L487.7 109.9 L488.2 109.9 L488.7 109.9 L489.2 109.7 L489.7 109.3 L490.2 108.3 L490.7 106.6 L491.2 104.6 L491.7 103.4 L492.2 103.9 L492.7 105.7 L493.2 107.7 L493.7 109.0 L494.2 109.6 L494.7 109.8 L495.2 109.9 L495.7 109.9 L496.2 109.9 L496.7 109.9 L497.2 109.9 L497.7 109.9 L498.2 109.9 L498.7 109.9 L499.2 109.9 L499.7 109.9 L500.2 109.9 L500.7 109.9 L501.2 109.9 L501.7 109.9 L502.2 109.9 L502.7 109.9 L503.2 109.9 L503.7 109.9 L504.2 109.9 L504.7 109.9 L505.2 109.9 L505.7 109.9 L506.2 109.9 L506.7 109.9 L507.2 109.9 L507.7 109.9 L508.2 109.9 L508.7 109.9 L509.2 109.9 L509.7 109.9 L510.2 109.9 L510.7 109.8 L511.2 109.6 L511.7 109.3 L512.2 109.1 L512.7 109.1 L513.2 109.3 L513.7 109.5 L514.2 109.7 L514.7 109.8 L515.2 109.9 L515.7 109.9 L516.2 109.8 L516.7 109.5 L517.2 108.9 L517.7 108.1 L518.2 107.5 L518.7 107.5 L519.2 108.1 L519.7 108.9 L520.2 109.4 L520.7 109.7 L521.2 109.9 L521.7 109.9 L522.2 109.9 L522.7 109.9 L523.2 109.9" fill="none" stroke="#ff2020" stroke-width="1.45" stroke-dasharray="1.3 0.45"/>
<path d="M432.2 97.8 L432.7 104.6 L433.2 108.5 L433.7 109.7 L434.2 109.8 L434.7 109.2 L435.2 106.7 L435.7 99.7 L436.2 87.0 L436.7 74.3 L437.2 71.3 L437.7 80.9 L438.2 94.7 L438.7 104.4 L439.2 108.5 L439.7 109.7 L440.2 109.9 L440.7 109.9 L441.2 109.9 L441.7 109.9 L442.2 109.7 L442.7 109.2 L443.2 107.9 L443.7 105.4 L444.2 102.3 L444.7 100.3 L445.2 100.7 L445.7 103.2 L446.2 106.2 L446.7 108.4 L447.2 109.4 L447.7 109.8 L448.2 109.9 L448.7 109.9 L449.2 109.9 L449.7 109.9 L450.2 109.9 L450.7 109.9 L451.2 109.9 L451.7 109.9 L452.2 109.9 L452.7 109.9 L453.2 109.9 L453.7 109.9 L454.2 109.9 L454.7 109.9 L455.2 109.9 L455.7 109.9 L456.2 109.9 L456.7 109.9 L457.2 109.9 L457.7 109.9 L458.2 109.9 L458.7 109.9 L459.2 109.9 L459.7 109.9 L460.2 109.9 L460.7 109.9 L461.2 109.9 L461.7 109.9 L462.2 109.9 L462.7 109.9 L463.2 109.9 L463.7 109.9 L464.2 109.9 L464.7 109.9 L465.2 109.9 L465.7 109.9 L466.2 109.9 L466.7 109.9 L467.2 109.9 L467.7 109.9 L468.2 109.9 L468.7 109.9 L469.2 109.9 L469.7 109.9 L470.2 109.9 L470.7 109.9 L471.2 109.9 L471.7 109.9 L472.2 109.9 L472.7 109.9 L473.2 109.9 L473.7 109.9 L474.2 109.9 L474.7 109.9 L475.2 109.9 L475.7 109.9 L476.2 109.9 L476.7 109.9 L477.2 109.9 L477.7 109.9 L478.2 109.9 L478.7 109.9 L479.2 109.9 L479.7 109.9 L480.2 109.9 L480.7 109.9 L481.2 109.9 L481.7 109.9 L482.2 109.9 L482.7 109.9 L483.2 109.9 L483.7 109.9 L484.2 109.9 L484.7 109.9 L485.2 109.9 L485.7 109.9 L486.2 109.9 L486.7 109.9 L487.2 109.9 L487.7 109.9 L488.2 109.9 L488.7 109.9 L489.2 109.7 L489.7 109.3 L490.2 108.3 L490.7 106.6 L491.2 104.6 L491.7 103.4 L492.2 103.9 L492.7 105.7 L493.2 107.7 L493.7 109.0 L494.2 109.6 L494.7 109.8 L495.2 109.9 L495.7 109.9 L496.2 109.9 L496.7 109.9 L497.2 109.9 L497.7 109.9 L498.2 109.9 L498.7 109.9 L499.2 109.9 L499.7 109.9 L500.2 109.9 L500.7 109.9 L501.2 109.9 L501.7 109.9 L502.2 109.9 L502.7 109.9 L503.2 109.9 L503.7 109.9 L504.2 109.9 L504.7 109.9 L505.2 109.9 L505.7 109.9 L506.2 109.9 L506.7 109.9 L507.2 109.9 L507.7 109.9 L508.2 109.9 L508.7 109.9 L509.2 109.9 L509.7 109.9 L510.2 109.9 L510.7 109.8 L511.2 109.6 L511.7 109.3 L512.2 109.1 L512.7 109.1 L513.2 109.3 L513.7 109.5 L514.2 109.7 L514.7 109.8 L515.2 109.9 L515.7 109.9 L516.2 109.8 L516.7 109.5 L517.2 108.9 L517.7 108.1 L518.2 107.5 L518.7 107.5 L519.2 108.1 L519.7 108.9 L520.2 109.4 L520.7 109.7 L521.2 109.9 L521.7 109.9 L522.2 109.9 L522.7 109.9 L523.2 109.9" fill="none" stroke="#007a00" stroke-width="1.60" stroke-linejoin="round"/>
</g>
<rect x="432.20" y="52.10" width="91.00" height="57.80" fill="none" stroke="#333" stroke-width="1.00"/>
<path d="M452.11 109.90 V108.40 M452.11 52.10 V53.60 M475.80 109.90 V108.40 M475.80 52.10 V53.60 M499.50 109.90 V108.40 M499.50 52.10 V53.60 M523.20 109.90 V108.40 M523.20 52.10 V53.60 M432.20 109.90 H433.70 M523.20 109.90 H521.70 M432.20 93.60 H433.70 M523.20 93.60 H521.70 M432.20 77.29 H433.70 M523.20 77.29 H521.70 M432.20 60.99 H433.70 M523.20 60.99 H521.70" stroke="#333" stroke-width="0.80" fill="none"/>
<text x="452.11" y="118.90" font-size="7.50" text-anchor="middle" font-weight="normal" fill="#222">600</text>
<text x="475.80" y="118.90" font-size="7.50" text-anchor="middle" font-weight="normal" fill="#222">800</text>
<text x="499.50" y="118.90" font-size="7.50" text-anchor="middle" font-weight="normal" fill="#222">1000</text>
<text x="523.20" y="118.90" font-size="7.50" text-anchor="middle" font-weight="normal" fill="#222">1200</text>
<text x="430.70" y="112.38" font-size="7.50" text-anchor="end" font-weight="normal" fill="#222">0</text>
<text x="430.70" y="96.07" font-size="7.50" text-anchor="end" font-weight="normal" fill="#222">0.02</text>
<text x="430.70" y="79.77" font-size="7.50" text-anchor="end" font-weight="normal" fill="#222">0.04</text>
<text x="430.70" y="63.46" font-size="7.50" text-anchor="end" font-weight="normal" fill="#222">0.06</text>
<text x="477.00" y="129.80" font-size="7.70" text-anchor="middle" fill="#222">Raman frequency shift / cm<tspan font-size="5.39" dy="-3.08">-1</tspan></text>
<text x="412.60" y="79.80" font-size="7.90" text-anchor="middle" font-weight="normal" fill="#222" transform="rotate(-90 412.60 79.80)">Intensity a.u.</text>
<text x="422.70" y="163.90" font-size="9.60" text-anchor="middle" fill="#222">Raman frequency shift / cm<tspan font-size="6.72" dy="-3.84">-1</tspan></text>
<text x="290.30" y="73.00" font-size="9.50" text-anchor="middle" font-weight="normal" fill="#222" transform="rotate(-90 290.30 73.00)">Intensity a.u.</text>
<text x="414.00" y="179.10" font-size="12.00" text-anchor="middle" font-weight="bold" fill="#222">(b)</text>
<clipPath id="c5"><rect x="23.80" y="188.40" width="243.30" height="137.50"/></clipPath>
<g clip-path="url(#c5)">
<path d="M23.8 325.1 L24.3 324.9 L24.8 324.6 L25.3 324.4 L25.8 324.1 L26.3 323.8 L26.8 323.4 L27.3 323.0 L27.8 322.6 L28.3 322.2 L28.8 321.8 L29.3 321.4 L29.8 321.0 L30.3 320.7 L30.8 320.4 L31.3 320.1 L31.8 319.9 L32.3 319.8 L32.8 319.8 L33.3 319.8 L33.8 319.8 L34.3 319.9 L34.8 320.0 L35.3 320.1 L35.8 320.1 L36.3 320.1 L36.8 320.0 L37.3 319.8 L37.8 319.5 L38.3 319.1 L38.8 318.7 L39.3 318.2 L39.8 317.7 L40.3 317.1 L40.8 316.3 L41.3 315.4 L41.8 314.3 L42.3 312.9 L42.8 311.1 L43.3 308.9 L43.8 306.2 L44.3 303.1 L44.8 299.5 L45.3 295.4 L45.8 290.8 L46.3 285.9 L46.8 280.7 L47.3 275.2 L47.8 269.6 L48.3 263.9 L48.8 258.4 L49.3 253.0 L49.8 248.0 L50.3 243.5 L50.8 239.5 L51.3 236.3 L51.8 233.8 L52.3 232.1 L52.8 231.3 L53.3 231.5 L53.8 232.6 L54.3 234.6 L54.8 237.3 L55.3 240.9 L55.8 245.1 L56.3 249.8 L56.8 254.9 L57.3 260.3 L57.8 265.9 L58.3 271.5 L58.8 277.1 L59.3 282.4 L59.8 287.5 L60.3 292.2 L60.8 296.5 L61.3 300.3 L61.8 303.6 L62.3 306.3 L62.8 308.5 L63.3 310.0 L63.8 310.9 L64.3 311.1 L64.9 310.7 L65.4 309.6 L65.9 307.8 L66.4 305.2 L66.9 302.0 L67.4 298.2 L67.9 293.7 L68.4 288.6 L68.9 283.1 L69.4 277.1 L69.9 271.0 L70.4 264.7 L70.9 258.6 L71.4 252.7 L71.9 247.2 L72.4 242.4 L72.9 238.4 L73.4 235.3 L73.9 233.3 L74.4 232.4 L74.9 232.7 L75.4 234.2 L75.9 236.7 L76.4 240.3 L76.9 244.8 L77.4 250.0 L77.9 255.7 L78.4 261.8 L78.9 268.2 L79.4 274.5 L79.9 280.7 L80.4 286.7 L80.9 292.3 L81.4 297.5 L81.9 302.1 L82.4 306.3 L82.9 309.9 L83.4 313.0 L83.9 315.7 L84.4 317.9 L84.9 319.7 L85.4 321.1 L85.9 322.3 L86.4 323.2 L86.9 323.9 L87.4 324.5 L87.9 324.9 L88.4 325.2 L88.9 325.4 L89.4 325.5 L89.9 325.7 L90.4 325.7 L90.9 325.8 L91.4 325.8 L91.9 325.9 L92.4 325.9 L92.9 325.9 L93.4 325.9 L93.9 325.9 L94.4 325.9 L94.9 325.9 L95.4 325.9 L95.9 325.9 L96.4 325.9 L96.9 325.9 L97.4 325.9 L97.9 325.9 L98.4 325.9 L98.9 325.9 L99.4 325.9 L99.9 325.9 L100.4 325.9 L100.9 325.9 L101.4 325.9 L101.9 325.9 L102.4 325.9 L102.9 325.9 L103.4 325.9 L103.9 325.9 L104.4 325.9 L104.9 325.9 L105.4 325.9 L105.9 325.9 L106.4 325.9 L106.9 325.9 L107.4 325.9 L107.9 325.9 L108.4 325.9 L108.9 325.9 L109.4 325.9 L109.9 325.9 L110.4 325.9 L110.9 325.8 L111.4 325.8 L111.9 325.7 L112.4 325.6 L112.9 325.5 L113.4 325.3 L113.9 325.1 L114.4 324.7 L114.9 324.3 L115.4 323.7 L115.9 323.0 L116.4 322.2 L116.9 321.2 L117.4 320.0 L117.9 318.6 L118.4 317.1 L118.9 315.5 L119.4 313.8 L119.9 312.1 L120.4 310.5 L120.9 309.0 L121.4 307.7 L121.9 306.7 L122.4 305.9 L122.9 305.6 L123.4 305.6 L123.9 306.0 L124.4 306.8 L124.9 307.8 L125.4 309.2 L125.9 310.7 L126.4 312.3 L126.9 314.0 L127.4 315.7 L127.9 317.3 L128.4 318.8 L128.9 320.1 L129.4 321.3 L129.9 322.3 L130.4 323.1 L130.9 323.8 L131.4 324.4 L131.9 324.8 L132.4 325.1 L132.9 325.3 L133.4 325.5 L133.9 325.6 L134.4 325.7 L134.9 325.8 L135.4 325.8 L135.9 325.9 L136.4 325.9 L136.9 325.9 L137.4 325.9 L137.9 325.9 L138.4 325.9 L138.9 325.9 L139.4 325.9 L139.9 325.9 L140.4 325.9 L140.9 325.9 L141.4 325.9 L141.9 325.9 L142.4 325.9 L142.9 325.9 L143.4 325.9 L143.9 325.9 L144.4 325.8 L144.9 325.8 L145.5 325.8 L146.0 325.7 L146.5 325.6 L147.0 325.5 L147.5 325.3 L148.0 325.1 L148.5 324.8 L149.0 324.4 L149.5 323.9 L150.0 323.2 L150.5 322.5 L151.0 321.6 L151.5 320.5 L152.0 319.3 L152.5 317.9 L153.0 316.4 L153.5 314.7 L154.0 313.0 L154.5 311.2 L155.0 309.5 L155.5 307.8 L156.0 306.2 L156.5 304.9 L157.0 303.7 L157.5 302.9 L158.0 302.4 L158.5 302.3 L159.0 302.5 L159.5 303.0 L160.0 303.9 L160.5 305.1 L161.0 306.5 L161.5 308.1 L162.0 309.8 L162.5 311.5 L163.0 313.3 L163.5 315.0 L164.0 316.6 L164.5 318.1 L165.0 319.5 L165.5 320.7 L166.0 321.7 L166.5 322.6 L167.0 323.3 L167.5 323.9 L168.0 324.4 L168.5 324.8 L169.0 325.1 L169.5 325.3 L170.0 325.5 L170.5 325.6 L171.0 325.7 L171.5 325.8 L172.0 325.8 L172.5 325.8 L173.0 325.9 L173.5 325.9 L174.0 325.9 L174.5 325.9 L175.0 325.9 L175.5 325.9 L176.0 325.9 L176.5 325.9 L177.0 325.9 L177.5 325.9 L178.0 325.9 L178.5 325.9 L179.0 325.9 L179.5 325.9 L180.0 325.9 L180.5 325.9 L181.0 325.9 L181.5 325.9 L182.0 325.9 L182.5 325.9 L183.0 325.9 L183.5 325.9 L184.0 325.9 L184.5 325.9 L185.0 325.9 L185.5 325.9 L186.0 325.9 L186.5 325.9 L187.0 325.9 L187.5 325.9 L188.0 325.9 L188.5 325.9 L189.0 325.9 L189.5 325.8 L190.0 325.8 L190.5 325.8 L191.0 325.8 L191.5 325.7 L192.0 325.7 L192.5 325.6 L193.0 325.6 L193.5 325.5 L194.0 325.4 L194.5 325.4 L195.0 325.3 L195.5 325.2 L196.0 325.0 L196.5 324.9 L197.0 324.8 L197.5 324.7 L198.0 324.6 L198.5 324.5 L199.0 324.4 L199.5 324.3 L200.0 324.2 L200.5 324.1 L201.0 324.0 L201.5 324.0 L202.0 324.0 L202.5 324.0 L203.0 324.0 L203.5 324.0 L204.0 324.1 L204.5 324.2 L205.0 324.3 L205.5 324.4 L206.0 324.5 L206.5 324.6 L207.0 324.7 L207.5 324.8 L208.0 325.0 L208.5 325.1 L209.0 325.2 L209.5 325.3 L210.0 325.4 L210.5 325.5 L211.0 325.5 L211.5 325.6 L212.0 325.6 L212.5 325.7 L213.0 325.7 L213.5 325.8 L214.0 325.8 L214.5 325.8 L215.0 325.8 L215.5 325.9 L216.0 325.9 L216.5 325.9 L217.0 325.9 L217.5 325.9 L218.0 325.9 L218.5 325.9 L219.0 325.9 L219.5 325.9 L220.0 325.9 L220.5 325.9 L221.0 325.9 L221.5 325.9 L222.0 325.9 L222.5 325.9 L223.0 325.9 L223.5 325.9 L224.0 325.9 L224.5 325.9 L225.0 325.9 L225.5 325.9 L226.0 325.9 L226.6 325.9 L227.1 325.9 L227.6 325.9 L228.1 325.9 L228.6 325.9 L229.1 325.9 L229.6 325.9 L230.1 325.9 L230.6 325.9 L231.1 325.9 L231.6 325.9 L232.1 325.9 L232.6 325.9 L233.1 325.9 L233.6 325.9 L234.1 325.9 L234.6 325.9 L235.1 325.9 L235.6 325.9 L236.1 325.9 L236.6 325.9 L237.1 325.9 L237.6 325.9 L238.1 325.9 L238.6 325.9 L239.1 325.9 L239.6 325.9 L240.1 325.9 L240.6 325.9 L241.1 325.9 L241.6 325.9 L242.1 325.9 L242.6 325.9 L243.1 325.9 L243.6 325.9 L244.1 325.9 L244.6 325.9 L245.1 325.9 L245.6 325.9 L246.1 325.9 L246.6 325.9 L247.1 325.9 L247.6 325.9 L248.1 325.9 L248.6 325.9 L249.1 325.9 L249.6 325.9 L250.1 325.9 L250.6 325.9 L251.1 325.9 L251.6 325.9 L252.1 325.9 L252.6 325.9 L253.1 325.9 L253.6 325.9 L254.1 325.9 L254.6 325.9 L255.1 325.9 L255.6 325.9 L256.1 325.9 L256.6 325.9 L257.1 325.9 L257.6 325.9 L258.1 325.9 L258.6 325.9 L259.1 325.9 L259.6 325.9 L260.1 325.9 L260.6 325.9 L261.1 325.9 L261.6 325.9 L262.1 325.9 L262.6 325.9 L263.1 325.9 L263.6 325.9 L264.1 325.9 L264.6 325.9 L265.1 325.9 L265.6 325.9 L266.1 325.9 L266.6 325.9 L267.1 325.9" fill="none" stroke="#1a8c1a" stroke-width="1.50" stroke-linejoin="round"/>
<path d="M23.8 325.9 L24.3 325.9 L24.8 325.9 L25.3 325.9 L25.8 325.9 L26.3 325.9 L26.8 325.9 L27.3 325.9 L27.8 325.9 L28.3 325.9 L28.8 325.9 L29.3 325.9 L29.8 325.9 L30.3 325.9 L30.8 325.9 L31.3 325.9 L31.8 325.9 L32.3 325.9 L32.8 325.9 L33.3 325.9 L33.8 325.9 L34.3 325.9 L34.8 325.9 L35.3 325.9 L35.8 325.9 L36.3 325.9 L36.8 325.9 L37.3 325.9 L37.8 325.9 L38.3 325.9 L38.8 325.9 L39.3 325.9 L39.8 325.9 L40.3 325.9 L40.8 325.9 L41.3 325.9 L41.8 325.9 L42.3 325.9 L42.8 325.9 L43.3 325.9 L43.8 325.9 L44.3 325.9 L44.8 325.9 L45.3 325.9 L45.8 325.9 L46.3 325.9 L46.8 325.9 L47.3 325.9 L47.8 325.9 L48.3 325.8 L48.8 325.8 L49.3 325.8 L49.8 325.7 L50.3 325.6 L50.8 325.4 L51.3 325.2 L51.8 325.0 L52.3 324.6 L52.8 324.1 L53.3 323.5 L53.8 322.6 L54.3 321.6 L54.8 320.3 L55.3 318.8 L55.8 317.0 L56.3 314.8 L56.8 312.4 L57.3 309.6 L57.8 306.7 L58.3 303.5 L58.8 300.1 L59.3 296.8 L59.8 293.4 L60.3 290.3 L60.8 287.4 L61.3 285.0 L61.8 283.0 L62.3 281.6 L62.8 280.9 L63.3 280.9 L63.8 281.5 L64.3 282.8 L64.9 284.7 L65.4 287.1 L65.9 289.9 L66.4 293.0 L66.9 296.3 L67.4 299.6 L67.9 302.9 L68.4 306.1 L68.9 309.1 L69.4 311.8 L69.9 314.2 L70.4 316.3 L70.9 318.0 L71.4 319.3 L71.9 320.3 L72.4 321.0 L72.9 321.4 L73.4 321.5 L73.9 321.4 L74.4 321.1 L74.9 320.5 L75.4 319.8 L75.9 319.0 L76.4 318.2 L76.9 317.3 L77.4 316.5 L77.9 315.7 L78.4 315.0 L78.9 314.5 L79.4 314.2 L79.9 314.0 L80.4 314.0 L80.9 314.2 L81.4 314.4 L81.9 314.7 L82.4 314.9 L82.9 315.1 L83.4 315.1 L83.9 314.8 L84.4 314.2 L84.9 313.3 L85.4 312.0 L85.9 310.3 L86.4 308.3 L86.9 305.9 L87.4 303.4 L87.9 300.8 L88.4 298.2 L88.9 295.7 L89.4 293.6 L89.9 291.9 L90.4 290.7 L90.9 290.1 L91.4 290.2 L91.9 290.9 L92.4 292.2 L92.9 294.1 L93.4 296.4 L93.9 299.1 L94.4 302.0 L94.9 305.0 L95.4 307.9 L95.9 310.7 L96.4 313.3 L96.9 315.7 L97.4 317.8 L97.9 319.5 L98.4 321.0 L98.9 322.2 L99.4 323.2 L99.9 323.9 L100.4 324.5 L100.9 324.9 L101.4 325.2 L101.9 325.4 L102.4 325.6 L102.9 325.7 L103.4 325.7 L103.9 325.7 L104.4 325.7 L104.9 325.7 L105.4 325.6 L105.9 325.4 L106.4 325.2 L106.9 324.8 L107.4 324.4 L107.9 323.7 L108.4 322.9 L108.9 321.7 L109.4 320.3 L109.9 318.4 L110.4 316.1 L110.9 313.3 L111.4 310.0 L111.9 306.2 L112.4 301.8 L112.9 296.9 L113.4 291.7 L113.9 286.2 L114.4 280.6 L114.9 275.1 L115.4 269.8 L115.9 265.1 L116.4 261.0 L116.9 257.9 L117.4 255.7 L117.9 254.7 L118.4 254.9 L118.9 256.3 L119.4 258.9 L119.9 262.4 L120.4 266.7 L120.9 271.6 L121.4 277.0 L121.9 282.6 L122.4 288.2 L122.9 293.6 L123.4 298.7 L123.9 303.4 L124.4 307.6 L124.9 311.2 L125.4 314.3 L125.9 317.0 L126.4 319.1 L126.9 320.8 L127.4 322.2 L127.9 323.2 L128.4 324.0 L128.9 324.6 L129.4 325.0 L129.9 325.3 L130.4 325.5 L130.9 325.6 L131.4 325.7 L131.9 325.8 L132.4 325.8 L132.9 325.9 L133.4 325.9 L133.9 325.9 L134.4 325.9 L134.9 325.9 L135.4 325.9 L135.9 325.9 L136.4 325.9 L136.9 325.9 L137.4 325.9 L137.9 325.9 L138.4 325.9 L138.9 325.9 L139.4 325.9 L139.9 325.9 L140.4 325.9 L140.9 325.9 L141.4 325.9 L141.9 325.9 L142.4 325.9 L142.9 325.9 L143.4 325.9 L143.9 325.9 L144.4 325.8 L144.9 325.8 L145.5 325.7 L146.0 325.7 L146.5 325.6 L147.0 325.4 L147.5 325.2 L148.0 325.0 L148.5 324.7 L149.0 324.3 L149.5 323.8 L150.0 323.2 L150.5 322.5 L151.0 321.6 L151.5 320.6 L152.0 319.5 L152.5 318.3 L153.0 316.9 L153.5 315.5 L154.0 314.1 L154.5 312.6 L155.0 311.2 L155.5 309.9 L156.0 308.7 L156.5 307.8 L157.0 307.0 L157.5 306.6 L158.0 306.4 L158.5 306.5 L159.0 306.9 L159.5 307.6 L160.0 308.5 L160.5 309.6 L161.0 310.9 L161.5 312.3 L162.0 313.8 L162.5 315.2 L163.0 316.6 L163.5 318.0 L164.0 319.3 L164.5 320.4 L165.0 321.4 L165.5 322.3 L166.0 323.0 L166.5 323.7 L167.0 324.2 L167.5 324.6 L168.0 324.9 L168.5 325.2 L169.0 325.4 L169.5 325.5 L170.0 325.6 L170.5 325.7 L171.0 325.8 L171.5 325.8 L172.0 325.8 L172.5 325.9 L173.0 325.9 L173.5 325.9 L174.0 325.9 L174.5 325.9 L175.0 325.9 L175.5 325.9 L176.0 325.9 L176.5 325.9 L177.0 325.9 L177.5 325.9 L178.0 325.9 L178.5 325.9 L179.0 325.9 L179.5 325.9 L180.0 325.9 L180.5 325.9 L181.0 325.9 L181.5 325.9 L182.0 325.9 L182.5 325.9 L183.0 325.9 L183.5 325.9 L184.0 325.9 L184.5 325.9 L185.0 325.9 L185.5 325.9 L186.0 325.9 L186.5 325.9 L187.0 325.9 L187.5 325.9 L188.0 325.9 L188.5 325.9 L189.0 325.9 L189.5 325.9 L190.0 325.9 L190.5 325.8 L191.0 325.8 L191.5 325.8 L192.0 325.8 L192.5 325.7 L193.0 325.7 L193.5 325.7 L194.0 325.6 L194.5 325.6 L195.0 325.5 L195.5 325.5 L196.0 325.4 L196.5 325.3 L197.0 325.3 L197.5 325.2 L198.0 325.1 L198.5 325.1 L199.0 325.0 L199.5 325.0 L200.0 324.9 L200.5 324.9 L201.0 324.8 L201.5 324.8 L202.0 324.8 L202.5 324.8 L203.0 324.8 L203.5 324.8 L204.0 324.9 L204.5 324.9 L205.0 325.0 L205.5 325.0 L206.0 325.1 L206.5 325.2 L207.0 325.2 L207.5 325.3 L208.0 325.4 L208.5 325.4 L209.0 325.5 L209.5 325.5 L210.0 325.6 L210.5 325.6 L211.0 325.7 L211.5 325.7 L212.0 325.8 L212.5 325.8 L213.0 325.8 L213.5 325.8 L214.0 325.8 L214.5 325.9 L215.0 325.9 L215.5 325.9 L216.0 325.9 L216.5 325.9 L217.0 325.9 L217.5 325.9 L218.0 325.9 L218.5 325.9 L219.0 325.9 L219.5 325.9 L220.0 325.9 L220.5 325.9 L221.0 325.9 L221.5 325.9 L222.0 325.9 L222.5 325.9 L223.0 325.9 L223.5 325.9 L224.0 325.9 L224.5 325.9 L225.0 325.9 L225.5 325.9 L226.0 325.9 L226.6 325.9 L227.1 325.9 L227.6 325.9 L228.1 325.9 L228.6 325.9 L229.1 325.9 L229.6 325.9 L230.1 325.9 L230.6 325.9 L231.1 325.9 L231.6 325.9 L232.1 325.9 L232.6 325.9 L233.1 325.9 L233.6 325.9 L234.1 325.9 L234.6 325.9 L235.1 325.9 L235.6 325.9 L236.1 325.9 L236.6 325.9 L237.1 325.9 L237.6 325.9 L238.1 325.9 L238.6 325.9 L239.1 325.9 L239.6 325.9 L240.1 325.9 L240.6 325.9 L241.1 325.9 L241.6 325.9 L242.1 325.9 L242.6 325.9 L243.1 325.9 L243.6 325.9 L244.1 325.9 L244.6 325.9 L245.1 325.9 L245.6 325.9 L246.1 325.9 L246.6 325.9 L247.1 325.9 L247.6 325.9 L248.1 325.9 L248.6 325.9 L249.1 325.9 L249.6 325.9 L250.1 325.9 L250.6 325.9 L251.1 325.9 L251.6 325.9 L252.1 325.9 L252.6 325.9 L253.1 325.9 L253.6 325.9 L254.1 325.9 L254.6 325.9 L255.1 325.9 L255.6 325.9 L256.1 325.9 L256.6 325.9 L257.1 325.9 L257.6 325.9 L258.1 325.9 L258.6 325.9 L259.1 325.9 L259.6 325.9 L260.1 325.9 L260.6 325.9 L261.1 325.9 L261.6 325.9 L262.1 325.9 L262.6 325.9 L263.1 325.9 L263.6 325.9 L264.1 325.9 L264.6 325.9 L265.1 325.9 L265.6 325.9 L266.1 325.9 L266.6 325.9 L267.1 325.9" fill="none" stroke="#0000ff" stroke-width="1.50" stroke-linejoin="round"/>
<path d="M23.8 324.4 L24.3 323.7 L24.8 322.8 L25.3 321.7 L25.8 320.2 L26.3 318.4 L26.8 316.1 L27.3 313.5 L27.8 310.3 L28.3 306.8 L28.8 302.8 L29.3 298.6 L29.8 294.2 L30.3 289.8 L30.8 285.5 L31.3 281.6 L31.8 278.2 L32.3 275.5 L32.8 273.6 L33.3 272.6 L33.8 272.7 L34.3 273.8 L34.8 275.7 L35.3 278.5 L35.8 282.0 L36.3 286.0 L36.8 290.3 L37.3 294.7 L37.8 299.1 L38.3 303.3 L38.8 307.2 L39.3 310.7 L39.8 313.8 L40.3 316.4 L40.8 318.6 L41.3 320.4 L41.8 321.9 L42.3 323.0 L42.8 323.8 L43.3 324.4 L43.8 324.9 L44.3 325.2 L44.8 325.5 L45.3 325.6 L45.8 325.7 L46.3 325.8 L46.8 325.8 L47.3 325.9 L47.8 325.9 L48.3 325.9 L48.8 325.9 L49.3 325.9 L49.8 325.9 L50.3 325.9 L50.8 325.9 L51.3 325.9 L51.8 325.9 L52.3 325.9 L52.8 325.8 L53.3 325.8 L53.8 325.7 L54.3 325.6 L54.8 325.5 L55.3 325.2 L55.8 324.8 L56.3 324.3 L56.8 323.6 L57.3 322.7 L57.8 321.5 L58.3 320.0 L58.8 318.1 L59.3 315.9 L59.8 313.3 L60.3 310.5 L60.8 307.4 L61.3 304.3 L61.8 301.2 L62.3 298.3 L62.8 295.8 L63.3 293.7 L63.8 292.1 L64.3 291.1 L64.9 290.7 L65.4 290.7 L65.9 291.0 L66.4 291.6 L66.9 292.1 L67.4 292.5 L67.9 292.7 L68.4 292.5 L68.9 292.1 L69.4 291.3 L69.9 290.4 L70.4 289.2 L70.9 288.0 L71.4 286.6 L71.9 285.2 L72.4 283.6 L72.9 281.8 L73.4 279.8 L73.9 277.4 L74.4 274.7 L74.9 271.8 L75.4 268.7 L75.9 265.5 L76.4 262.6 L76.9 260.0 L77.4 257.9 L77.9 256.5 L78.4 256.0 L78.9 256.4 L79.4 257.8 L79.9 260.1 L80.4 263.2 L80.9 267.1 L81.4 271.5 L81.9 276.4 L82.4 281.5 L82.9 286.7 L83.4 291.8 L83.9 296.7 L84.4 301.3 L84.9 305.4 L85.4 309.1 L85.9 312.4 L86.4 315.2 L86.9 317.5 L87.4 319.4 L87.9 321.0 L88.4 322.2 L88.9 323.2 L89.4 324.0 L89.9 324.5 L90.4 324.9 L90.9 325.2 L91.4 325.4 L91.9 325.6 L92.4 325.7 L92.9 325.8 L93.4 325.8 L93.9 325.8 L94.4 325.9 L94.9 325.9 L95.4 325.9 L95.9 325.9 L96.4 325.9 L96.9 325.9 L97.4 325.9 L97.9 325.9 L98.4 325.9 L98.9 325.9 L99.4 325.9 L99.9 325.9 L100.4 325.9 L100.9 325.9 L101.4 325.9 L101.9 325.9 L102.4 325.9 L102.9 325.9 L103.4 325.9 L103.9 325.8 L104.4 325.8 L104.9 325.7 L105.4 325.7 L105.9 325.5 L106.4 325.3 L106.9 325.1 L107.4 324.7 L107.9 324.2 L108.4 323.5 L108.9 322.6 L109.4 321.5 L109.9 320.0 L110.4 318.3 L110.9 316.2 L111.4 313.8 L111.9 311.1 L112.4 308.1 L112.9 304.9 L113.4 301.6 L113.9 298.3 L114.4 295.1 L114.9 292.2 L115.4 289.7 L115.9 287.7 L116.4 286.4 L116.9 285.8 L117.4 285.9 L117.9 286.8 L118.4 288.4 L118.9 290.6 L119.4 293.3 L119.9 296.3 L120.4 299.6 L120.9 302.9 L121.4 306.2 L121.9 309.3 L122.4 312.2 L122.9 314.8 L123.4 317.1 L123.9 319.0 L124.4 320.6 L124.9 322.0 L125.4 323.0 L125.9 323.8 L126.4 324.4 L126.9 324.9 L127.4 325.2 L127.9 325.4 L128.4 325.6 L128.9 325.7 L129.4 325.8 L129.9 325.8 L130.4 325.9 L130.9 325.9 L131.4 325.9 L131.9 325.9 L132.4 325.9 L132.9 325.9 L133.4 325.9 L133.9 325.9 L134.4 325.9 L134.9 325.9 L135.4 325.9 L135.9 325.9 L136.4 325.9 L136.9 325.9 L137.4 325.9 L137.9 325.9 L138.4 325.9 L138.9 325.9 L139.4 325.9 L139.9 325.9 L140.4 325.9 L140.9 325.9 L141.4 325.9 L141.9 325.9 L142.4 325.9 L142.9 325.9 L143.4 325.9 L143.9 325.9 L144.4 325.9 L144.9 325.9 L145.5 325.9 L146.0 325.9 L146.5 325.9 L147.0 325.9 L147.5 325.9 L148.0 325.9 L148.5 325.9 L149.0 325.9 L149.5 325.9 L150.0 325.9 L150.5 325.9 L151.0 325.8 L151.5 325.8 L152.0 325.8 L152.5 325.7 L153.0 325.6 L153.5 325.5 L154.0 325.4 L154.5 325.2 L155.0 324.9 L155.5 324.6 L156.0 324.1 L156.5 323.6 L157.0 323.0 L157.5 322.2 L158.0 321.3 L158.5 320.2 L159.0 319.1 L159.5 317.8 L160.0 316.4 L160.5 314.9 L161.0 313.4 L161.5 311.9 L162.0 310.5 L162.5 309.2 L163.0 308.0 L163.5 307.1 L164.0 306.4 L164.5 305.9 L165.0 305.8 L165.5 306.0 L166.0 306.5 L166.5 307.3 L167.0 308.3 L167.5 309.5 L168.0 310.8 L168.5 312.3 L169.0 313.8 L169.5 315.2 L170.0 316.7 L170.5 318.1 L171.0 319.3 L171.5 320.5 L172.0 321.5 L172.5 322.4 L173.0 323.1 L173.5 323.7 L174.0 324.3 L174.5 324.7 L175.0 325.0 L175.5 325.2 L176.0 325.4 L176.5 325.6 L177.0 325.7 L177.5 325.7 L178.0 325.8 L178.5 325.8 L179.0 325.9 L179.5 325.9 L180.0 325.9 L180.5 325.9 L181.0 325.9 L181.5 325.9 L182.0 325.9 L182.5 325.9 L183.0 325.9 L183.5 325.9 L184.0 325.9 L184.5 325.9 L185.0 325.9 L185.5 325.9 L186.0 325.9 L186.5 325.9 L187.0 325.9 L187.5 325.9 L188.0 325.9 L188.5 325.9 L189.0 325.9 L189.5 325.9 L190.0 325.9 L190.5 325.9 L191.0 325.9 L191.5 325.9 L192.0 325.9 L192.5 325.8 L193.0 325.8 L193.5 325.8 L194.0 325.8 L194.5 325.8 L195.0 325.7 L195.5 325.7 L196.0 325.6 L196.5 325.6 L197.0 325.5 L197.5 325.5 L198.0 325.4 L198.5 325.4 L199.0 325.3 L199.5 325.2 L200.0 325.1 L200.5 325.1 L201.0 325.0 L201.5 325.0 L202.0 324.9 L202.5 324.9 L203.0 324.8 L203.5 324.8 L204.0 324.8 L204.5 324.8 L205.0 324.8 L205.5 324.8 L206.0 324.9 L206.5 324.9 L207.0 325.0 L207.5 325.0 L208.0 325.1 L208.5 325.2 L209.0 325.2 L209.5 325.3 L210.0 325.4 L210.5 325.4 L211.0 325.5 L211.5 325.5 L212.0 325.6 L212.5 325.6 L213.0 325.7 L213.5 325.7 L214.0 325.8 L214.5 325.8 L215.0 325.8 L215.5 325.8 L216.0 325.8 L216.5 325.9 L217.0 325.9 L217.5 325.9 L218.0 325.9 L218.5 325.9 L219.0 325.9 L219.5 325.9 L220.0 325.9 L220.5 325.9 L221.0 325.9 L221.5 325.9 L222.0 325.9 L222.5 325.9 L223.0 325.9 L223.5 325.9 L224.0 325.9 L224.5 325.9 L225.0 325.9 L225.5 325.9 L226.0 325.9 L226.6 325.9 L227.1 325.9 L227.6 325.9 L228.1 325.9 L228.6 325.9 L229.1 325.9 L229.6 325.9 L230.1 325.9 L230.6 325.9 L231.1 325.9 L231.6 325.9 L232.1 325.9 L232.6 325.9 L233.1 325.9 L233.6 325.9 L234.1 325.9 L234.6 325.9 L235.1 325.9 L235.6 325.9 L236.1 325.9 L236.6 325.9 L237.1 325.9 L237.6 325.9 L238.1 325.9 L238.6 325.9 L239.1 325.9 L239.6 325.9 L240.1 325.9 L240.6 325.9 L241.1 325.9 L241.6 325.9 L242.1 325.9 L242.6 325.9 L243.1 325.9 L243.6 325.9 L244.1 325.9 L244.6 325.9 L245.1 325.9 L245.6 325.9 L246.1 325.9 L246.6 325.9 L247.1 325.9 L247.6 325.9 L248.1 325.9 L248.6 325.9 L249.1 325.9 L249.6 325.9 L250.1 325.9 L250.6 325.9 L251.1 325.9 L251.6 325.9 L252.1 325.9 L252.6 325.9 L253.1 325.9 L253.6 325.9 L254.1 325.9 L254.6 325.9 L255.1 325.9 L255.6 325.9 L256.1 325.9 L256.6 325.9 L257.1 325.9 L257.6 325.9 L258.1 325.9 L258.6 325.9 L259.1 325.9 L259.6 325.9 L260.1 325.9 L260.6 325.9 L261.1 325.9 L261.6 325.9 L262.1 325.9 L262.6 325.9 L263.1 325.9 L263.6 325.9 L264.1 325.9 L264.6 325.9 L265.1 325.9 L265.6 325.9 L266.1 325.9 L266.6 325.9 L267.1 325.9" fill="none" stroke="#ff2020" stroke-width="1.45" stroke-dasharray="1.3 0.45"/>
<path d="M23.8 236.5 L24.3 248.8 L24.8 262.0 L25.3 274.9 L25.8 286.8 L26.3 297.0 L26.8 305.2 L27.3 311.5 L27.8 315.9 L28.3 318.8 L28.8 320.5 L29.3 321.2 L29.8 321.1 L30.3 320.4 L30.8 319.2 L31.3 317.6 L31.8 315.6 L32.3 313.3 L32.8 310.7 L33.3 307.9 L33.8 305.0 L34.3 302.0 L34.8 299.1 L35.3 296.5 L35.8 294.1 L36.3 292.3 L36.8 290.9 L37.3 290.2 L37.8 290.2 L38.3 290.9 L38.8 292.1 L39.3 294.0 L39.8 296.3 L40.3 298.9 L40.8 301.8 L41.3 304.7 L41.8 307.7 L42.3 310.5 L42.8 313.1 L43.3 315.5 L43.8 317.6 L44.3 319.4 L44.8 320.9 L45.3 322.1 L45.8 323.1 L46.3 323.8 L46.8 324.4 L47.3 324.8 L47.8 325.1 L48.3 325.3 L48.8 325.4 L49.3 325.4 L49.8 325.4 L50.3 325.3 L50.8 325.2 L51.3 325.0 L51.8 324.8 L52.3 324.5 L52.8 324.1 L53.3 323.6 L53.8 323.1 L54.3 322.5 L54.8 321.9 L55.3 321.1 L55.8 320.4 L56.3 319.5 L56.8 318.7 L57.3 317.9 L57.8 317.0 L58.3 316.2 L58.8 315.5 L59.3 314.8 L59.8 314.1 L60.3 313.5 L60.8 313.0 L61.3 312.6 L61.8 312.1 L62.3 311.7 L62.8 311.3 L63.3 310.9 L63.8 310.5 L64.3 310.0 L64.9 309.5 L65.4 309.0 L65.9 308.4 L66.4 307.8 L66.9 307.3 L67.4 306.7 L67.9 306.2 L68.4 305.8 L68.9 305.4 L69.4 305.2 L69.9 305.1 L70.4 305.1 L70.9 305.1 L71.4 305.2 L71.9 305.3 L72.4 305.4 L72.9 305.3 L73.4 305.1 L73.9 304.7 L74.4 303.9 L74.9 302.8 L75.4 301.4 L75.9 299.5 L76.4 297.4 L76.9 294.9 L77.4 292.2 L77.9 289.5 L78.4 286.8 L78.9 284.4 L79.4 282.3 L79.9 280.8 L80.4 279.9 L80.9 279.7 L81.4 280.3 L81.9 281.6 L82.4 283.7 L82.9 286.4 L83.4 289.5 L83.9 293.1 L84.4 296.8 L84.9 300.5 L85.4 304.2 L85.9 307.7 L86.4 310.9 L86.9 313.8 L87.4 316.3 L87.9 318.4 L88.4 320.2 L88.9 321.6 L89.4 322.8 L89.9 323.6 L90.4 324.3 L90.9 324.8 L91.4 325.1 L91.9 325.4 L92.4 325.6 L92.9 325.7 L93.4 325.8 L93.9 325.8 L94.4 325.8 L94.9 325.9 L95.4 325.9 L95.9 325.9 L96.4 325.9 L96.9 325.9 L97.4 325.9 L97.9 325.9 L98.4 325.9 L98.9 325.9 L99.4 325.9 L99.9 325.9 L100.4 325.9 L100.9 325.9 L101.4 325.9 L101.9 325.9 L102.4 325.9 L102.9 325.9 L103.4 325.9 L103.9 325.9 L104.4 325.9 L104.9 325.9 L105.4 325.9 L105.9 325.9 L106.4 325.9 L106.9 325.9 L107.4 325.8 L107.9 325.8 L108.4 325.7 L108.9 325.6 L109.4 325.5 L109.9 325.2 L110.4 325.0 L110.9 324.6 L111.4 324.1 L111.9 323.4 L112.4 322.5 L112.9 321.5 L113.4 320.2 L113.9 318.7 L114.4 316.9 L114.9 315.0 L115.4 312.9 L115.9 310.6 L116.4 308.3 L116.9 306.0 L117.4 303.9 L117.9 302.0 L118.4 300.3 L118.9 299.1 L119.4 298.4 L119.9 298.1 L120.4 298.4 L120.9 299.2 L121.4 300.4 L121.9 302.1 L122.4 304.0 L122.9 306.2 L123.4 308.5 L123.9 310.8 L124.4 313.0 L124.9 315.1 L125.4 317.1 L125.9 318.8 L126.4 320.3 L126.9 321.5 L127.4 322.6 L127.9 323.4 L128.4 324.1 L128.9 324.6 L129.4 325.0 L129.9 325.3 L130.4 325.5 L130.9 325.6 L131.4 325.7 L131.9 325.8 L132.4 325.8 L132.9 325.9 L133.4 325.9 L133.9 325.9 L134.4 325.9 L134.9 325.9 L135.4 325.9 L135.9 325.9 L136.4 325.9 L136.9 325.9 L137.4 325.9 L137.9 325.9 L138.4 325.9 L138.9 325.9 L139.4 325.9 L139.9 325.9 L140.4 325.9 L140.9 325.9 L141.4 325.9 L141.9 325.9 L142.4 325.9 L142.9 325.9 L143.4 325.9 L143.9 325.9 L144.4 325.9 L144.9 325.9 L145.5 325.9 L146.0 325.9 L146.5 325.9 L147.0 325.9 L147.5 325.9 L148.0 325.9 L148.5 325.9 L149.0 325.9 L149.5 325.9 L150.0 325.9 L150.5 325.9 L151.0 325.9 L151.5 325.9 L152.0 325.9 L152.5 325.9 L153.0 325.9 L153.5 325.9 L154.0 325.9 L154.5 325.9 L155.0 325.9 L155.5 325.9 L156.0 325.9 L156.5 325.9 L157.0 325.9 L157.5 325.9 L158.0 325.9 L158.5 325.9 L159.0 325.8 L159.5 325.8 L160.0 325.8 L160.5 325.7 L161.0 325.6 L161.5 325.5 L162.0 325.3 L162.5 325.1 L163.0 324.9 L163.5 324.6 L164.0 324.2 L164.5 323.7 L165.0 323.1 L165.5 322.4 L166.0 321.7 L166.5 320.8 L167.0 319.9 L167.5 318.9 L168.0 317.9 L168.5 316.9 L169.0 315.9 L169.5 314.9 L170.0 314.1 L170.5 313.3 L171.0 312.8 L171.5 312.4 L172.0 312.2 L172.5 312.2 L173.0 312.4 L173.5 312.8 L174.0 313.4 L174.5 314.1 L175.0 315.0 L175.5 316.0 L176.0 317.0 L176.5 318.0 L177.0 319.0 L177.5 320.0 L178.0 320.9 L178.5 321.8 L179.0 322.5 L179.5 323.2 L180.0 323.7 L180.5 324.2 L181.0 324.6 L181.5 324.9 L182.0 325.2 L182.5 325.3 L183.0 325.5 L183.5 325.6 L184.0 325.7 L184.5 325.8 L185.0 325.8 L185.5 325.8 L186.0 325.9 L186.5 325.9 L187.0 325.9 L187.5 325.9 L188.0 325.9 L188.5 325.9 L189.0 325.9 L189.5 325.9 L190.0 325.9 L190.5 325.9 L191.0 325.9 L191.5 325.9 L192.0 325.9 L192.5 325.9 L193.0 325.9 L193.5 325.9 L194.0 325.9 L194.5 325.8 L195.0 325.8 L195.5 325.8 L196.0 325.8 L196.5 325.8 L197.0 325.7 L197.5 325.7 L198.0 325.6 L198.5 325.6 L199.0 325.5 L199.5 325.5 L200.0 325.4 L200.5 325.4 L201.0 325.3 L201.5 325.2 L202.0 325.1 L202.5 325.1 L203.0 325.0 L203.5 325.0 L204.0 324.9 L204.5 324.9 L205.0 324.8 L205.5 324.8 L206.0 324.8 L206.5 324.8 L207.0 324.8 L207.5 324.8 L208.0 324.9 L208.5 324.9 L209.0 325.0 L209.5 325.0 L210.0 325.1 L210.5 325.1 L211.0 325.2 L211.5 325.3 L212.0 325.4 L212.5 325.4 L213.0 325.5 L213.5 325.5 L214.0 325.6 L214.5 325.6 L215.0 325.7 L215.5 325.7 L216.0 325.8 L216.5 325.8 L217.0 325.8 L217.5 325.8 L218.0 325.8 L218.5 325.9 L219.0 325.9 L219.5 325.9 L220.0 325.9 L220.5 325.9 L221.0 325.9 L221.5 325.9 L222.0 325.9 L222.5 325.9 L223.0 325.9 L223.5 325.9 L224.0 325.9 L224.5 325.9 L225.0 325.9 L225.5 325.9 L226.0 325.9 L226.6 325.9 L227.1 325.9 L227.6 325.9 L228.1 325.9 L228.6 325.9 L229.1 325.9 L229.6 325.9 L230.1 325.9 L230.6 325.9 L231.1 325.9 L231.6 325.9 L232.1 325.9 L232.6 325.9 L233.1 325.9 L233.6 325.9 L234.1 325.9 L234.6 325.9 L235.1 325.9 L235.6 325.9 L236.1 325.9 L236.6 325.9 L237.1 325.9 L237.6 325.9 L238.1 325.9 L238.6 325.9 L239.1 325.9 L239.6 325.9 L240.1 325.9 L240.6 325.9 L241.1 325.9 L241.6 325.9 L242.1 325.9 L242.6 325.9 L243.1 325.9 L243.6 325.9 L244.1 325.9 L244.6 325.9 L245.1 325.9 L245.6 325.9 L246.1 325.9 L246.6 325.9 L247.1 325.9 L247.6 325.9 L248.1 325.9 L248.6 325.9 L249.1 325.9 L249.6 325.9 L250.1 325.9 L250.6 325.9 L251.1 325.9 L251.6 325.9 L252.1 325.9 L252.6 325.9 L253.1 325.9 L253.6 325.9 L254.1 325.9 L254.6 325.9 L255.1 325.9 L255.6 325.9 L256.1 325.9 L256.6 325.9 L257.1 325.9 L257.6 325.9 L258.1 325.9 L258.6 325.9 L259.1 325.9 L259.6 325.9 L260.1 325.9 L260.6 325.9 L261.1 325.9 L261.6 325.9 L262.1 325.9 L262.6 325.9 L263.1 325.9 L263.6 325.9 L264.1 325.9 L264.6 325.9 L265.1 325.9 L265.6 325.9 L266.1 325.9 L266.6 325.9 L267.1 325.9" fill="none" stroke="#00c8c8" stroke-width="1.70" stroke-linejoin="round"/>
<path d="M23.8 322.6 L24.3 321.3 L24.8 319.6 L25.3 317.3 L25.8 314.5 L26.3 311.1 L26.8 306.9 L27.3 301.9 L27.8 296.2 L28.3 289.6 L28.8 282.4 L29.3 274.6 L29.8 266.5 L30.3 258.2 L30.8 250.0 L31.3 242.2 L31.8 235.2 L32.3 229.3 L32.8 224.7 L33.3 221.7 L33.8 220.4 L34.3 220.8 L34.8 223.0 L35.3 226.8 L35.8 232.1 L36.3 238.6 L36.8 246.0 L37.3 254.0 L37.8 262.3 L38.3 270.6 L38.8 278.6 L39.3 286.1 L39.8 293.0 L40.3 299.1 L40.8 304.5 L41.3 309.1 L41.8 312.9 L42.3 316.0 L42.8 318.5 L43.3 320.5 L43.8 322.0 L44.3 323.1 L44.8 323.9 L45.3 324.5 L45.8 324.9 L46.3 325.2 L46.8 325.3 L47.3 325.4 L47.8 325.3 L48.3 325.2 L48.8 325.0 L49.3 324.7 L49.8 324.3 L50.3 323.8 L50.8 323.2 L51.3 322.4 L51.8 321.5 L52.3 320.4 L52.8 319.1 L53.3 317.6 L53.8 316.0 L54.3 314.2 L54.8 312.3 L55.3 310.4 L55.8 308.4 L56.3 306.5 L56.8 304.7 L57.3 303.1 L57.8 301.7 L58.3 300.6 L58.8 299.8 L59.3 299.4 L59.8 299.2 L60.3 299.5 L60.8 300.0 L61.3 300.7 L61.8 301.6 L62.3 302.6 L62.8 303.7 L63.3 304.6 L63.8 305.5 L64.3 306.2 L64.9 306.7 L65.4 307.0 L65.9 307.1 L66.4 307.1 L66.9 307.0 L67.4 306.9 L67.9 306.8 L68.4 306.8 L68.9 306.9 L69.4 307.2 L69.9 307.7 L70.4 308.4 L70.9 309.2 L71.4 310.2 L71.9 311.2 L72.4 312.2 L72.9 313.2 L73.4 314.1 L73.9 315.0 L74.4 315.6 L74.9 316.1 L75.4 316.5 L75.9 316.6 L76.4 316.6 L76.9 316.4 L77.4 316.0 L77.9 315.4 L78.4 314.5 L78.9 313.3 L79.4 311.8 L79.9 309.9 L80.4 307.7 L80.9 305.2 L81.4 302.3 L81.9 299.1 L82.4 295.9 L82.9 292.6 L83.4 289.5 L83.9 286.7 L84.4 284.3 L84.9 282.5 L85.4 281.5 L85.9 281.2 L86.4 281.7 L86.9 283.0 L87.4 285.1 L87.9 287.8 L88.4 290.9 L88.9 294.4 L89.4 298.1 L89.9 301.8 L90.4 305.4 L90.9 308.7 L91.4 311.8 L91.9 314.6 L92.4 317.0 L92.9 319.0 L93.4 320.6 L93.9 322.0 L94.4 323.0 L94.9 323.8 L95.4 324.4 L95.9 324.9 L96.4 325.2 L96.9 325.4 L97.4 325.6 L97.9 325.7 L98.4 325.8 L98.9 325.8 L99.4 325.9 L99.9 325.9 L100.4 325.9 L100.9 325.9 L101.4 325.9 L101.9 325.9 L102.4 325.9 L102.9 325.9 L103.4 325.9 L103.9 325.9 L104.4 325.9 L104.9 325.9 L105.4 325.9 L105.9 325.9 L106.4 325.9 L106.9 325.9 L107.4 325.9 L107.9 325.9 L108.4 325.9 L108.9 325.9 L109.4 325.9 L109.9 325.9 L110.4 325.9 L110.9 325.9 L111.4 325.8 L111.9 325.8 L112.4 325.8 L112.9 325.7 L113.4 325.6 L113.9 325.4 L114.4 325.2 L114.9 324.9 L115.4 324.6 L115.9 324.1 L116.4 323.4 L116.9 322.7 L117.4 321.7 L117.9 320.6 L118.4 319.3 L118.9 317.8 L119.4 316.3 L119.9 314.6 L120.4 312.8 L120.9 311.1 L121.4 309.5 L121.9 308.0 L122.4 306.8 L122.9 305.8 L123.4 305.2 L123.9 305.0 L124.4 305.2 L124.9 305.7 L125.4 306.6 L125.9 307.8 L126.4 309.3 L126.9 310.9 L127.4 312.6 L127.9 314.3 L128.4 316.0 L128.9 317.6 L129.4 319.1 L129.9 320.4 L130.4 321.6 L130.9 322.5 L131.4 323.3 L131.9 324.0 L132.4 324.5 L132.9 324.9 L133.4 325.2 L133.9 325.4 L134.4 325.6 L134.9 325.7 L135.4 325.8 L135.9 325.8 L136.4 325.8 L136.9 325.9 L137.4 325.9 L137.9 325.9 L138.4 325.9 L138.9 325.9 L139.4 325.9 L139.9 325.9 L140.4 325.9 L140.9 325.9 L141.4 325.9 L141.9 325.9 L142.4 325.9 L142.9 325.9 L143.4 325.9 L143.9 325.9 L144.4 325.9 L144.9 325.9 L145.5 325.9 L146.0 325.9 L146.5 325.9 L147.0 325.9 L147.5 325.9 L148.0 325.9 L148.5 325.9 L149.0 325.9 L149.5 325.9 L150.0 325.9 L150.5 325.9 L151.0 325.9 L151.5 325.9 L152.0 325.9 L152.5 325.9 L153.0 325.9 L153.5 325.9 L154.0 325.9 L154.5 325.9 L155.0 325.9 L155.5 325.9 L156.0 325.9 L156.5 325.9 L157.0 325.9 L157.5 325.9 L158.0 325.9 L158.5 325.9 L159.0 325.8 L159.5 325.8 L160.0 325.7 L160.5 325.7 L161.0 325.6 L161.5 325.4 L162.0 325.3 L162.5 325.1 L163.0 324.8 L163.5 324.4 L164.0 324.0 L164.5 323.5 L165.0 322.8 L165.5 322.1 L166.0 321.3 L166.5 320.3 L167.0 319.3 L167.5 318.3 L168.0 317.1 L168.5 316.0 L169.0 314.9 L169.5 313.8 L170.0 312.9 L170.5 312.1 L171.0 311.5 L171.5 311.0 L172.0 310.8 L172.5 310.8 L173.0 311.0 L173.5 311.5 L174.0 312.2 L174.5 313.0 L175.0 313.9 L175.5 315.0 L176.0 316.1 L176.5 317.2 L177.0 318.3 L177.5 319.4 L178.0 320.4 L178.5 321.3 L179.0 322.2 L179.5 322.9 L180.0 323.5 L180.5 324.0 L181.0 324.4 L181.5 324.8 L182.0 325.1 L182.5 325.3 L183.0 325.5 L183.5 325.6 L184.0 325.7 L184.5 325.7 L185.0 325.8 L185.5 325.8 L186.0 325.9 L186.5 325.9 L187.0 325.9 L187.5 325.9 L188.0 325.9 L188.5 325.9 L189.0 325.9 L189.5 325.9 L190.0 325.9 L190.5 325.9 L191.0 325.9 L191.5 325.9 L192.0 325.9 L192.5 325.9 L193.0 325.9 L193.5 325.9 L194.0 325.8 L194.5 325.8 L195.0 325.8 L195.5 325.8 L196.0 325.8 L196.5 325.7 L197.0 325.7 L197.5 325.7 L198.0 325.6 L198.5 325.6 L199.0 325.5 L199.5 325.5 L200.0 325.4 L200.5 325.4 L201.0 325.3 L201.5 325.2 L202.0 325.2 L202.5 325.1 L203.0 325.0 L203.5 324.9 L204.0 324.9 L204.5 324.8 L205.0 324.7 L205.5 324.7 L206.0 324.6 L206.5 324.6 L207.0 324.6 L207.5 324.5 L208.0 324.5 L208.5 324.5 L209.0 324.5 L209.5 324.6 L210.0 324.6 L210.5 324.6 L211.0 324.7 L211.5 324.7 L212.0 324.8 L212.5 324.9 L213.0 324.9 L213.5 325.0 L214.0 325.1 L214.5 325.1 L215.0 325.2 L215.5 325.3 L216.0 325.4 L216.5 325.4 L217.0 325.5 L217.5 325.5 L218.0 325.6 L218.5 325.6 L219.0 325.7 L219.5 325.7 L220.0 325.7 L220.5 325.8 L221.0 325.8 L221.5 325.8 L222.0 325.8 L222.5 325.8 L223.0 325.9 L223.5 325.9 L224.0 325.9 L224.5 325.9 L225.0 325.9 L225.5 325.9 L226.0 325.9 L226.6 325.9 L227.1 325.9 L227.6 325.9 L228.1 325.9 L228.6 325.9 L229.1 325.9 L229.6 325.9 L230.1 325.9 L230.6 325.9 L231.1 325.9 L231.6 325.9 L232.1 325.9 L232.6 325.9 L233.1 325.9 L233.6 325.9 L234.1 325.9 L234.6 325.9 L235.1 325.9 L235.6 325.9 L236.1 325.9 L236.6 325.9 L237.1 325.9 L237.6 325.9 L238.1 325.9 L238.6 325.9 L239.1 325.9 L239.6 325.9 L240.1 325.9 L240.6 325.9 L241.1 325.9 L241.6 325.9 L242.1 325.9 L242.6 325.9 L243.1 325.9 L243.6 325.9 L244.1 325.9 L244.6 325.9 L245.1 325.9 L245.6 325.9 L246.1 325.9 L246.6 325.9 L247.1 325.9 L247.6 325.9 L248.1 325.9 L248.6 325.9 L249.1 325.9 L249.6 325.9 L250.1 325.9 L250.6 325.9 L251.1 325.9 L251.6 325.9 L252.1 325.9 L252.6 325.9 L253.1 325.9 L253.6 325.9 L254.1 325.9 L254.6 325.9 L255.1 325.9 L255.6 325.9 L256.1 325.9 L256.6 325.9 L257.1 325.9 L257.6 325.9 L258.1 325.9 L258.6 325.9 L259.1 325.9 L259.6 325.9 L260.1 325.9 L260.6 325.9 L261.1 325.9 L261.6 325.9 L262.1 325.9 L262.6 325.9 L263.1 325.9 L263.6 325.9 L264.1 325.9 L264.6 325.9 L265.1 325.9 L265.6 325.9 L266.1 325.9 L266.6 325.9 L267.1 325.9" fill="none" stroke="#000000" stroke-width="1.50" stroke-linejoin="round"/>
</g>
<rect x="23.80" y="188.40" width="243.30" height="137.50" fill="none" stroke="#2b2b2b" stroke-width="1.60"/>
<path d="M44.08 325.90 V323.40 M44.08 188.40 V190.90 M84.62 325.90 V323.40 M84.62 188.40 V190.90 M125.17 325.90 V323.40 M125.17 188.40 V190.90 M165.73 325.90 V323.40 M165.73 188.40 V190.90 M206.28 325.90 V323.40 M206.28 188.40 V190.90 M246.83 325.90 V323.40 M246.83 188.40 V190.90 M23.80 325.90 H26.30 M267.10 325.90 H264.60 M23.80 298.40 H26.30 M267.10 298.40 H264.60 M23.80 270.90 H26.30 M267.10 270.90 H264.60 M23.80 243.40 H26.30 M267.10 243.40 H264.60 M23.80 215.90 H26.30 M267.10 215.90 H264.60 M23.80 188.40 H26.30 M267.10 188.40 H264.60" stroke="#2b2b2b" stroke-width="1.28" fill="none"/>
<text x="44.08" y="337.50" font-size="9.50" text-anchor="middle" font-weight="normal" fill="#222" transform="translate(44.08 334.37) scale(1 1.070) translate(-44.08 -334.37)">100</text>
<text x="84.62" y="337.50" font-size="9.50" text-anchor="middle" font-weight="normal" fill="#222" transform="translate(84.62 334.37) scale(1 1.070) translate(-84.62 -334.37)">200</text>
<text x="125.17" y="337.50" font-size="9.50" text-anchor="middle" font-weight="normal" fill="#222" transform="translate(125.17 334.37) scale(1 1.070) translate(-125.17 -334.37)">300</text>
<text x="165.73" y="337.50" font-size="9.50" text-anchor="middle" font-weight="normal" fill="#222" transform="translate(165.73 334.37) scale(1 1.070) translate(-165.73 -334.37)">400</text>
<text x="206.28" y="337.50" font-size="9.50" text-anchor="middle" font-weight="normal" fill="#222" transform="translate(206.28 334.37) scale(1 1.070) translate(-206.28 -334.37)">500</text>
<text x="246.83" y="337.50" font-size="9.50" text-anchor="middle" font-weight="normal" fill="#222" transform="translate(246.83 334.37) scale(1 1.070) translate(-246.83 -334.37)">600</text>
<text x="21.30" y="329.03" font-size="9.50" text-anchor="end" font-weight="normal" fill="#222" transform="translate(21.30 325.90) scale(1 1.070) translate(-21.30 -325.90)">0</text>
<text x="21.30" y="301.53" font-size="9.50" text-anchor="end" font-weight="normal" fill="#222" transform="translate(21.30 298.40) scale(1 1.070) translate(-21.30 -298.40)">1</text>
<text x="21.30" y="274.03" font-size="9.50" text-anchor="end" font-weight="normal" fill="#222" transform="translate(21.30 270.90) scale(1 1.070) translate(-21.30 -270.90)">2</text>
<text x="21.30" y="246.53" font-size="9.50" text-anchor="end" font-weight="normal" fill="#222" transform="translate(21.30 243.40) scale(1 1.070) translate(-21.30 -243.40)">3</text>
<text x="21.30" y="219.03" font-size="9.50" text-anchor="end" font-weight="normal" fill="#222" transform="translate(21.30 215.90) scale(1 1.070) translate(-21.30 -215.90)">4</text>
<text x="21.30" y="191.53" font-size="9.50" text-anchor="end" font-weight="normal" fill="#222" transform="translate(21.30 188.40) scale(1 1.070) translate(-21.30 -188.40)">5</text>
<path d="M86.40 197.90 H107.50" stroke="#0000ff" stroke-width="1.50"/>
<text x="110.10" y="201.18" font-size="8.40" text-anchor="start" font-weight="normal" fill="#222" transform="translate(110.10 198.40) scale(1 1.070) translate(-110.10 -198.40)">1.0GPa</text>
<path d="M86.40 210.00 H107.50" stroke="#ff2020" stroke-width="1.45" stroke-dasharray="1.3 0.45"/>
<text x="110.10" y="213.28" font-size="8.40" text-anchor="start" font-weight="normal" fill="#222" transform="translate(110.10 210.50) scale(1 1.070) translate(-110.10 -210.50)">1.5GPa</text>
<path d="M86.40 222.00 H107.50" stroke="#1a8c1a" stroke-width="1.50"/>
<text x="110.10" y="225.28" font-size="8.40" text-anchor="start" font-weight="normal" fill="#222" transform="translate(110.10 222.50) scale(1 1.070) translate(-110.10 -222.50)">2.0GPa</text>
<path d="M86.40 234.00 H107.50" stroke="#00c8c8" stroke-width="1.70"/>
<circle cx="96.95" cy="234.00" r="1.0" fill="#009a9a"/>
<text x="110.10" y="237.28" font-size="8.40" text-anchor="start" font-weight="normal" fill="#222" transform="translate(110.10 234.50) scale(1 1.070) translate(-110.10 -234.50)">2.5GPa</text>
<path d="M86.40 246.00 H107.50" stroke="#000000" stroke-width="1.50"/>
<text x="110.10" y="249.28" font-size="8.40" text-anchor="start" font-weight="normal" fill="#222" transform="translate(110.10 246.50) scale(1 1.070) translate(-110.10 -246.50)">3.0GPa</text>
<rect x="177.00" y="194.00" width="77.60" height="36.60" fill="#fff"/>
<clipPath id="c6"><rect x="177.00" y="194.00" width="77.60" height="36.60"/></clipPath>
<g clip-path="url(#c6)">
<path d="M177.0 230.4 L177.5 230.4 L178.0 230.4 L178.5 230.3 L179.0 230.3 L179.5 230.3 L180.0 230.2 L180.5 230.2 L181.0 230.2 L181.5 230.1 L182.0 230.1 L182.5 230.0 L183.0 230.0 L183.5 229.9 L184.0 229.9 L184.5 229.8 L185.0 229.7 L185.5 229.7 L186.0 229.6 L186.5 229.5 L187.0 229.4 L187.5 229.3 L188.0 229.2 L188.5 229.1 L189.0 229.0 L189.5 228.9 L190.0 228.8 L190.5 228.6 L191.0 228.5 L191.5 228.4 L192.0 228.2 L192.5 228.0 L193.0 227.9 L193.5 227.7 L194.0 227.5 L194.5 227.3 L195.0 227.1 L195.5 226.9 L196.0 226.7 L196.5 226.5 L197.0 226.3 L197.5 226.0 L198.0 225.8 L198.5 225.5 L199.0 225.3 L199.5 225.0 L200.0 224.7 L200.5 224.4 L201.0 224.1 L201.5 223.9 L202.0 223.6 L202.5 223.3 L203.0 223.0 L203.5 222.6 L204.0 222.3 L204.5 222.0 L205.0 221.7 L205.5 221.4 L206.0 221.1 L206.5 220.8 L207.0 220.4 L207.5 220.1 L208.0 219.8 L208.5 219.5 L209.0 219.2 L209.5 218.9 L210.0 218.6 L210.5 218.3 L211.0 218.1 L211.5 217.8 L212.0 217.5 L212.5 217.3 L213.0 217.1 L213.5 216.8 L214.0 216.6 L214.5 216.4 L215.0 216.2 L215.5 216.1 L216.1 215.9 L216.6 215.8 L217.1 215.6 L217.6 215.5 L218.1 215.4 L218.6 215.4 L219.1 215.3 L219.6 215.3 L220.1 215.2 L220.6 215.2 L221.1 215.2 L221.6 215.3 L222.1 215.3 L222.6 215.4 L223.1 215.5 L223.6 215.6 L224.1 215.7 L224.6 215.8 L225.1 216.0 L225.6 216.1 L226.1 216.3 L226.6 216.5 L227.1 216.7 L227.6 216.9 L228.1 217.1 L228.6 217.4 L229.1 217.6 L229.6 217.9 L230.1 218.2 L230.6 218.5 L231.1 218.7 L231.6 219.0 L232.1 219.3 L232.6 219.6 L233.1 219.9 L233.6 220.3 L234.1 220.6 L234.6 220.9 L235.1 221.2 L235.6 221.5 L236.1 221.8 L236.6 222.1 L237.1 222.5 L237.6 222.8 L238.1 223.1 L238.6 223.4 L239.1 223.7 L239.6 224.0 L240.1 224.3 L240.6 224.5 L241.1 224.8 L241.6 225.1 L242.1 225.4 L242.6 225.6 L243.1 225.9 L243.6 226.1 L244.1 226.3 L244.6 226.6 L245.1 226.8 L245.6 227.0 L246.1 227.2 L246.6 227.4 L247.1 227.6 L247.6 227.8 L248.1 227.9 L248.6 228.1 L249.1 228.3 L249.6 228.4 L250.1 228.6 L250.6 228.7 L251.1 228.8 L251.6 228.9 L252.1 229.1 L252.6 229.2 L253.1 229.3 L253.6 229.4 L254.1 229.5 L254.6 229.5" fill="none" stroke="#20c8c8" stroke-width="1.60" stroke-linejoin="round"/>
<path d="M177.0 164.7 L177.5 164.7 L178.0 164.8 L178.5 164.9 L179.0 165.0 L179.5 165.2 L180.0 165.4 L180.5 165.7 L181.0 166.0 L181.5 166.3 L182.0 166.7 L182.5 167.1 L183.0 167.5 L183.5 168.0 L184.0 168.5 L184.5 169.1 L185.0 169.6 L185.5 170.2 L186.0 170.9 L186.5 171.5 L187.0 172.2 L187.5 173.0 L188.0 173.7 L188.5 174.5 L189.0 175.3 L189.5 176.1 L190.0 176.9 L190.5 177.8 L191.0 178.7 L191.5 179.5 L192.0 180.5 L192.5 181.4 L193.0 182.3 L193.5 183.2 L194.0 184.2 L194.5 185.2 L195.0 186.1 L195.5 187.1 L196.0 188.1 L196.5 189.1 L197.0 190.0 L197.5 191.0 L198.0 192.0 L198.5 193.0 L199.0 194.0 L199.5 194.9 L200.0 195.9 L200.5 196.9 L201.0 197.8 L201.5 198.8 L202.0 199.7 L202.5 200.7 L203.0 201.6 L203.5 202.5 L204.0 203.4 L204.5 204.3 L205.0 205.1 L205.5 206.0 L206.0 206.8 L206.5 207.7 L207.0 208.5 L207.5 209.3 L208.0 210.1 L208.5 210.8 L209.0 211.6 L209.5 212.3 L210.0 213.0 L210.5 213.7 L211.0 214.4 L211.5 215.0 L212.0 215.7 L212.5 216.3 L213.0 216.9 L213.5 217.5 L214.0 218.1 L214.5 218.6 L215.0 219.2 L215.5 219.7 L216.1 220.2 L216.6 220.7 L217.1 221.1 L217.6 221.6 L218.1 222.0 L218.6 222.4 L219.1 222.8 L219.6 223.2 L220.1 223.6 L220.6 224.0 L221.1 224.3 L221.6 224.6 L222.1 224.9 L222.6 225.2 L223.1 225.5 L223.6 225.8 L224.1 226.1 L224.6 226.3 L225.1 226.6 L225.6 226.8 L226.1 227.0 L226.6 227.2 L227.1 227.4 L227.6 227.6 L228.1 227.8 L228.6 228.0 L229.1 228.1 L229.6 228.3 L230.1 228.4 L230.6 228.6 L231.1 228.7 L231.6 228.8 L232.1 228.9 L232.6 229.0 L233.1 229.1 L233.6 229.2 L234.1 229.3 L234.6 229.4 L235.1 229.5 L235.6 229.6 L236.1 229.6 L236.6 229.7 L237.1 229.8 L237.6 229.8 L238.1 229.9 L238.6 229.9 L239.1 230.0 L239.6 230.0 L240.1 230.1 L240.6 230.1 L241.1 230.1 L241.6 230.2 L242.1 230.2 L242.6 230.2 L243.1 230.3 L243.6 230.3 L244.1 230.3 L244.6 230.3 L245.1 230.4 L245.6 230.4 L246.1 230.4 L246.6 230.4 L247.1 230.4 L247.6 230.4 L248.1 230.5 L248.6 230.5 L249.1 230.5 L249.6 230.5 L250.1 230.5 L250.6 230.5 L251.1 230.5 L251.6 230.5 L252.1 230.5 L252.6 230.5 L253.1 230.5 L253.6 230.5 L254.1 230.6 L254.6 230.6" fill="none" stroke="#222" stroke-width="1.20" stroke-linejoin="round"/>
</g>
<rect x="177.00" y="194.00" width="77.60" height="36.60" fill="none" stroke="#333" stroke-width="1.00"/>
<path d="M177.00 230.60 V229.10 M177.00 194.00 V195.50 M208.04 230.60 V229.10 M208.04 194.00 V195.50 M239.08 230.60 V229.10 M239.08 194.00 V195.50 M177.00 230.60 H178.50 M254.60 230.60 H253.10 M177.00 212.30 H178.50 M254.60 212.30 H253.10 M177.00 194.00 H178.50 M254.60 194.00 H253.10" stroke="#333" stroke-width="0.80" fill="none"/>
<text x="177.00" y="238.80" font-size="7.30" text-anchor="middle" font-weight="normal" fill="#222" transform="translate(177.00 236.39) scale(1 1.070) translate(-177.00 -236.39)">0</text>
<text x="208.04" y="238.80" font-size="7.30" text-anchor="middle" font-weight="normal" fill="#222" transform="translate(208.04 236.39) scale(1 1.070) translate(-208.04 -236.39)">20</text>
<text x="239.08" y="238.80" font-size="7.30" text-anchor="middle" font-weight="normal" fill="#222" transform="translate(239.08 236.39) scale(1 1.070) translate(-239.08 -236.39)">40</text>
<text x="175.50" y="233.01" font-size="7.30" text-anchor="end" font-weight="normal" fill="#222" transform="translate(175.50 230.60) scale(1 1.070) translate(-175.50 -230.60)">0</text>
<text x="175.50" y="214.71" font-size="7.30" text-anchor="end" font-weight="normal" fill="#222" transform="translate(175.50 212.30) scale(1 1.070) translate(-175.50 -212.30)">50</text>
<text x="175.50" y="196.41" font-size="7.30" text-anchor="end" font-weight="normal" fill="#222" transform="translate(175.50 194.00) scale(1 1.070) translate(-175.50 -194.00)">100</text>
<text x="215.30" y="249.20" font-size="7.30" text-anchor="middle" fill="#222" transform="translate(215.30 246.79) scale(1 1.070) translate(-215.30 -246.79)">Raman frequency shift / cm<tspan font-size="5.11" dy="-2.92">-1</tspan></text>
<text x="160.60" y="212.00" font-size="7.10" text-anchor="middle" font-weight="normal" fill="#222" transform="translate(160.60 212.00) scale(1 1.070) translate(-160.60 -212.00) rotate(-90 160.60 212.00)">Intensity a.u.</text>
<rect x="191.40" y="254.00" width="62.60" height="36.00" fill="#fff"/>
<clipPath id="c7"><rect x="191.40" y="254.00" width="62.60" height="36.00"/></clipPath>
<g clip-path="url(#c7)">
<path d="M191.4 282.2 L191.9 281.1 L192.4 284.9 L192.9 287.3 L193.4 284.8 L193.9 277.0 L194.4 265.4 L194.9 255.3 L195.4 253.8 L195.9 261.9 L196.4 273.9 L196.9 283.1 L197.4 287.8 L197.9 289.5 L198.4 289.8 L198.9 289.5 L199.4 287.9 L199.9 284.6 L200.4 281.1 L200.9 280.6 L201.4 283.7 L201.9 287.3 L202.4 289.2 L202.9 289.9 L203.4 290.0 L203.9 290.0 L204.4 290.0 L204.9 290.0 L205.4 290.0 L205.9 290.0 L206.4 290.0 L206.9 290.0 L207.4 290.0 L207.9 290.0 L208.4 290.0 L208.9 290.0 L209.4 290.0 L209.9 290.0 L210.4 290.0 L210.9 290.0 L211.4 290.0 L211.9 290.0 L212.4 290.0 L212.9 290.0 L213.4 290.0 L213.9 290.0 L214.4 290.0 L214.9 290.0 L215.4 290.0 L215.9 290.0 L216.4 290.0 L216.9 290.0 L217.4 290.0 L217.9 290.0 L218.4 290.0 L218.9 290.0 L219.4 290.0 L219.9 290.0 L220.4 290.0 L220.9 290.0 L221.4 290.0 L221.9 290.0 L222.4 290.0 L223.0 290.0 L223.5 290.0 L224.0 290.0 L224.5 290.0 L225.0 290.0 L225.5 290.0 L226.0 290.0 L226.5 290.0 L227.0 290.0 L227.5 290.0 L228.0 290.0 L228.5 290.0 L229.0 290.0 L229.5 290.0 L230.0 290.0 L230.5 290.0 L231.0 290.0 L231.5 289.9 L232.0 289.7 L232.5 288.8 L233.0 287.4 L233.5 286.4 L234.0 286.7 L234.5 288.1 L235.0 289.3 L235.5 289.8 L236.0 290.0 L236.5 290.0 L237.0 290.0 L237.5 290.0 L238.0 290.0 L238.5 290.0 L239.0 290.0 L239.5 290.0 L240.0 290.0 L240.5 290.0 L241.0 290.0 L241.5 290.0 L242.0 290.0 L242.5 290.0 L243.0 290.0 L243.5 290.0 L244.0 290.0 L244.5 290.0 L245.0 290.0 L245.5 290.0 L246.0 290.0 L246.5 290.0 L247.0 290.0 L247.5 290.0 L248.0 290.0 L248.5 290.0 L249.0 290.0 L249.5 290.0 L250.0 289.9 L250.5 289.6 L251.0 289.3 L251.5 289.1 L252.0 289.3 L252.5 289.6 L253.0 289.9 L253.5 290.0 L254.0 290.0" fill="none" stroke="#0000ff" stroke-width="1.20" stroke-linejoin="round"/>
<path d="M191.4 282.1 L191.9 281.1 L192.4 284.7 L192.9 286.8 L193.4 283.6 L193.9 275.5 L194.4 265.0 L194.9 258.2 L195.4 259.9 L195.9 268.9 L196.4 279.0 L196.9 285.8 L197.4 288.8 L197.9 289.7 L198.4 289.9 L198.9 289.6 L199.4 288.3 L199.9 285.6 L200.4 282.8 L200.9 282.4 L201.4 284.9 L201.9 287.8 L202.4 289.4 L202.9 289.9 L203.4 290.0 L203.9 290.0 L204.4 290.0 L204.9 290.0 L205.4 290.0 L205.9 290.0 L206.4 290.0 L206.9 290.0 L207.4 290.0 L207.9 290.0 L208.4 290.0 L208.9 290.0 L209.4 290.0 L209.9 290.0 L210.4 290.0 L210.9 290.0 L211.4 290.0 L211.9 290.0 L212.4 290.0 L212.9 290.0 L213.4 290.0 L213.9 290.0 L214.4 290.0 L214.9 290.0 L215.4 290.0 L215.9 290.0 L216.4 290.0 L216.9 290.0 L217.4 290.0 L217.9 290.0 L218.4 290.0 L218.9 290.0 L219.4 290.0 L219.9 290.0 L220.4 290.0 L220.9 290.0 L221.4 290.0 L221.9 290.0 L222.4 290.0 L223.0 290.0 L223.5 290.0 L224.0 290.0 L224.5 290.0 L225.0 290.0 L225.5 290.0 L226.0 290.0 L226.5 290.0 L227.0 290.0 L227.5 290.0 L228.0 290.0 L228.5 290.0 L229.0 290.0 L229.5 290.0 L230.0 290.0 L230.5 290.0 L231.0 290.0 L231.5 289.9 L232.0 289.7 L232.5 288.8 L233.0 287.4 L233.5 286.4 L234.0 286.7 L234.5 288.1 L235.0 289.3 L235.5 289.8 L236.0 290.0 L236.5 290.0 L237.0 290.0 L237.5 290.0 L238.0 290.0 L238.5 290.0 L239.0 290.0 L239.5 290.0 L240.0 290.0 L240.5 290.0 L241.0 290.0 L241.5 290.0 L242.0 290.0 L242.5 290.0 L243.0 290.0 L243.5 290.0 L244.0 290.0 L244.5 290.0 L245.0 290.0 L245.5 290.0 L246.0 290.0 L246.5 290.0 L247.0 290.0 L247.5 290.0 L248.0 290.0 L248.5 290.0 L249.0 290.0 L249.5 290.0 L250.0 289.9 L250.5 289.6 L251.0 289.3 L251.5 289.1 L252.0 289.3 L252.5 289.6 L253.0 289.9 L253.5 290.0 L254.0 290.0" fill="none" stroke="#ff2020" stroke-width="1.20" stroke-linejoin="round"/>
<path d="M191.4 282.1 L191.9 281.0 L192.4 284.3 L192.9 285.4 L193.4 280.3 L193.9 270.0 L194.4 258.8 L194.9 254.0 L195.4 259.2 L195.9 270.4 L196.4 280.8 L196.9 286.8 L197.4 289.2 L197.9 289.8 L198.4 289.9 L198.9 289.6 L199.4 288.5 L199.9 286.1 L200.4 283.6 L200.9 283.3 L201.4 285.5 L201.9 288.1 L202.4 289.5 L202.9 289.9 L203.4 290.0 L203.9 290.0 L204.4 290.0 L204.9 290.0 L205.4 290.0 L205.9 290.0 L206.4 290.0 L206.9 290.0 L207.4 290.0 L207.9 290.0 L208.4 290.0 L208.9 290.0 L209.4 290.0 L209.9 290.0 L210.4 290.0 L210.9 290.0 L211.4 290.0 L211.9 290.0 L212.4 290.0 L212.9 290.0 L213.4 290.0 L213.9 290.0 L214.4 290.0 L214.9 290.0 L215.4 290.0 L215.9 290.0 L216.4 290.0 L216.9 290.0 L217.4 290.0 L217.9 290.0 L218.4 290.0 L218.9 290.0 L219.4 290.0 L219.9 290.0 L220.4 290.0 L220.9 290.0 L221.4 290.0 L221.9 290.0 L222.4 290.0 L223.0 290.0 L223.5 290.0 L224.0 290.0 L224.5 290.0 L225.0 290.0 L225.5 290.0 L226.0 290.0 L226.5 290.0 L227.0 290.0 L227.5 290.0 L228.0 290.0 L228.5 290.0 L229.0 290.0 L229.5 290.0 L230.0 290.0 L230.5 290.0 L231.0 290.0 L231.5 289.9 L232.0 289.6 L232.5 288.7 L233.0 287.1 L233.5 285.9 L234.0 286.3 L234.5 287.9 L235.0 289.2 L235.5 289.8 L236.0 290.0 L236.5 290.0 L237.0 290.0 L237.5 290.0 L238.0 290.0 L238.5 290.0 L239.0 290.0 L239.5 290.0 L240.0 290.0 L240.5 290.0 L241.0 290.0 L241.5 290.0 L242.0 290.0 L242.5 290.0 L243.0 290.0 L243.5 290.0 L244.0 290.0 L244.5 290.0 L245.0 290.0 L245.5 290.0 L246.0 290.0 L246.5 290.0 L247.0 290.0 L247.5 290.0 L248.0 290.0 L248.5 290.0 L249.0 290.0 L249.5 290.0 L250.0 289.9 L250.5 289.6 L251.0 289.3 L251.5 289.1 L252.0 289.3 L252.5 289.6 L253.0 289.9 L253.5 290.0 L254.0 290.0" fill="none" stroke="#1a8c1a" stroke-width="1.20" stroke-linejoin="round"/>
<path d="M191.4 282.9 L191.9 282.0 L192.4 285.7 L192.9 288.9 L193.4 289.9 L193.9 290.0 L194.4 289.9 L194.9 289.2 L195.4 287.0 L195.9 281.7 L196.4 274.0 L196.9 268.7 L197.4 270.1 L197.9 277.1 L198.4 284.2 L198.9 288.0 L199.4 288.6 L199.9 287.0 L200.4 284.3 L200.9 283.1 L201.4 284.6 L201.9 287.3 L202.4 289.1 L202.9 289.8 L203.4 290.0 L203.9 290.0 L204.4 290.0 L204.9 290.0 L205.4 290.0 L205.9 290.0 L206.4 290.0 L206.9 290.0 L207.4 290.0 L207.9 290.0 L208.4 290.0 L208.9 290.0 L209.4 290.0 L209.9 290.0 L210.4 290.0 L210.9 290.0 L211.4 290.0 L211.9 290.0 L212.4 290.0 L212.9 290.0 L213.4 290.0 L213.9 290.0 L214.4 290.0 L214.9 290.0 L215.4 290.0 L215.9 290.0 L216.4 290.0 L216.9 290.0 L217.4 290.0 L217.9 290.0 L218.4 290.0 L218.9 290.0 L219.4 290.0 L219.9 290.0 L220.4 290.0 L220.9 290.0 L221.4 290.0 L221.9 290.0 L222.4 290.0 L223.0 290.0 L223.5 290.0 L224.0 290.0 L224.5 290.0 L225.0 290.0 L225.5 290.0 L226.0 290.0 L226.5 290.0 L227.0 290.0 L227.5 290.0 L228.0 290.0 L228.5 290.0 L229.0 290.0 L229.5 290.0 L230.0 290.0 L230.5 290.0 L231.0 290.0 L231.5 289.9 L232.0 289.7 L232.5 288.8 L233.0 287.4 L233.5 286.4 L234.0 286.7 L234.5 288.1 L235.0 289.3 L235.5 289.8 L236.0 290.0 L236.5 290.0 L237.0 290.0 L237.5 290.0 L238.0 290.0 L238.5 290.0 L239.0 290.0 L239.5 290.0 L240.0 290.0 L240.5 290.0 L241.0 290.0 L241.5 290.0 L242.0 290.0 L242.5 290.0 L243.0 290.0 L243.5 290.0 L244.0 290.0 L244.5 290.0 L245.0 290.0 L245.5 290.0 L246.0 290.0 L246.5 290.0 L247.0 290.0 L247.5 290.0 L248.0 290.0 L248.5 290.0 L249.0 290.0 L249.5 290.0 L250.0 289.9 L250.5 289.6 L251.0 289.3 L251.5 289.1 L252.0 289.3 L252.5 289.6 L253.0 289.9 L253.5 290.0 L254.0 290.0" fill="none" stroke="#20c8c8" stroke-width="1.30" stroke-linejoin="round"/>
<path d="M191.4 281.4 L191.9 280.3 L192.4 284.7 L192.9 288.6 L193.4 289.8 L193.9 289.9 L194.4 289.6 L194.9 288.1 L195.4 284.1 L195.9 277.2 L196.4 270.7 L196.9 269.7 L197.4 275.2 L197.9 282.4 L198.4 287.3 L198.9 289.2 L199.4 289.1 L199.9 287.6 L200.4 285.5 L200.9 284.5 L201.4 285.7 L201.9 287.8 L202.4 289.3 L202.9 289.9 L203.4 290.0 L203.9 290.0 L204.4 290.0 L204.9 290.0 L205.4 290.0 L205.9 290.0 L206.4 290.0 L206.9 290.0 L207.4 290.0 L207.9 290.0 L208.4 290.0 L208.9 290.0 L209.4 290.0 L209.9 290.0 L210.4 290.0 L210.9 290.0 L211.4 290.0 L211.9 290.0 L212.4 290.0 L212.9 290.0 L213.4 290.0 L213.9 290.0 L214.4 290.0 L214.9 290.0 L215.4 290.0 L215.9 290.0 L216.4 290.0 L216.9 290.0 L217.4 290.0 L217.9 290.0 L218.4 290.0 L218.9 290.0 L219.4 290.0 L219.9 290.0 L220.4 290.0 L220.9 290.0 L221.4 290.0 L221.9 290.0 L222.4 290.0 L223.0 290.0 L223.5 290.0 L224.0 290.0 L224.5 290.0 L225.0 290.0 L225.5 290.0 L226.0 290.0 L226.5 290.0 L227.0 290.0 L227.5 290.0 L228.0 290.0 L228.5 290.0 L229.0 290.0 L229.5 290.0 L230.0 290.0 L230.5 290.0 L231.0 290.0 L231.5 289.9 L232.0 289.6 L232.5 288.5 L233.0 286.8 L233.5 285.5 L234.0 285.9 L234.5 287.6 L235.0 289.1 L235.5 289.8 L236.0 290.0 L236.5 290.0 L237.0 290.0 L237.5 290.0 L238.0 290.0 L238.5 290.0 L239.0 290.0 L239.5 290.0 L240.0 290.0 L240.5 290.0 L241.0 290.0 L241.5 290.0 L242.0 290.0 L242.5 290.0 L243.0 290.0 L243.5 290.0 L244.0 290.0 L244.5 290.0 L245.0 290.0 L245.5 290.0 L246.0 290.0 L246.5 290.0 L247.0 290.0 L247.5 290.0 L248.0 290.0 L248.5 290.0 L249.0 290.0 L249.5 290.0 L250.0 289.9 L250.5 289.6 L251.0 289.3 L251.5 289.1 L252.0 289.3 L252.5 289.6 L253.0 289.9 L253.5 290.0 L254.0 290.0" fill="none" stroke="#0a3a3a" stroke-width="1.20" stroke-linejoin="round"/>
</g>
<rect x="191.40" y="254.00" width="62.60" height="36.00" fill="none" stroke="#333" stroke-width="1.00"/>
<path d="M204.05 290.00 V288.50 M204.05 254.00 V255.50 M220.70 290.00 V288.50 M220.70 254.00 V255.50 M237.35 290.00 V288.50 M237.35 254.00 V255.50 M254.00 290.00 V288.50 M254.00 254.00 V255.50 M191.40 290.00 H192.90 M254.00 290.00 H252.50 M191.40 266.92 H192.90 M254.00 266.92 H252.50" stroke="#333" stroke-width="0.80" fill="none"/>
<text x="204.05" y="297.90" font-size="6.50" text-anchor="middle" font-weight="normal" fill="#222" transform="translate(204.05 295.75) scale(1 1.070) translate(-204.05 -295.75)">600</text>
<text x="220.70" y="297.90" font-size="6.50" text-anchor="middle" font-weight="normal" fill="#222" transform="translate(220.70 295.75) scale(1 1.070) translate(-220.70 -295.75)">800</text>
<text x="237.35" y="297.90" font-size="6.50" text-anchor="middle" font-weight="normal" fill="#222" transform="translate(237.35 295.75) scale(1 1.070) translate(-237.35 -295.75)">1000</text>
<text x="254.00" y="297.90" font-size="6.50" text-anchor="middle" font-weight="normal" fill="#222" transform="translate(254.00 295.75) scale(1 1.070) translate(-254.00 -295.75)">1200</text>
<text x="189.90" y="292.14" font-size="6.50" text-anchor="end" font-weight="normal" fill="#222" transform="translate(189.90 290.00) scale(1 1.070) translate(-189.90 -290.00)">0</text>
<text x="189.90" y="269.07" font-size="6.50" text-anchor="end" font-weight="normal" fill="#222" transform="translate(189.90 266.92) scale(1 1.070) translate(-189.90 -266.92)">0.05</text>
<text x="222.30" y="307.20" font-size="6.30" text-anchor="middle" fill="#222" transform="translate(222.30 305.12) scale(1 1.070) translate(-222.30 -305.12)">Raman frequency shift / cm<tspan font-size="4.41" dy="-2.52">-1</tspan></text>
<text x="176.30" y="271.90" font-size="6.80" text-anchor="middle" font-weight="normal" fill="#222" transform="translate(176.30 271.90) scale(1 1.070) translate(-176.30 -271.90) rotate(-90 176.30 271.90)">Intensity a.u.</text>
<text x="143.80" y="353.00" font-size="9.50" text-anchor="middle" fill="#222" transform="translate(143.80 349.87) scale(1 1.070) translate(-143.80 -349.87)">Raman frequency shift / cm<tspan font-size="6.65" dy="-3.80">-1</tspan></text>
<text x="10.80" y="257.20" font-size="9.60" text-anchor="middle" font-weight="normal" fill="#222" transform="translate(10.80 257.20) scale(1 1.070) translate(-10.80 -257.20) rotate(-90 10.80 257.20)">Intensity a.u.</text>
<text x="134.30" y="368.90" font-size="12.00" text-anchor="middle" font-weight="bold" fill="#222" transform="translate(134.30 364.94) scale(1 1.070) translate(-134.30 -364.94)">(c)</text>
<clipPath id="c8"><rect x="308.00" y="188.30" width="232.80" height="126.80"/></clipPath>
<g clip-path="url(#c8)">
<path d="M308.0 314.7 L308.5 314.5 L309.0 314.3 L309.5 314.1 L310.0 313.8 L310.5 313.5 L311.0 313.1 L311.5 312.6 L312.0 312.1 L312.5 311.6 L313.0 311.0 L313.5 310.4 L314.0 309.8 L314.5 309.2 L315.0 308.7 L315.5 308.3 L316.0 307.9 L316.5 307.6 L317.0 307.5 L317.5 307.5 L318.0 307.5 L318.5 307.7 L319.0 308.0 L319.5 308.3 L320.0 308.6 L320.5 308.9 L321.0 309.1 L321.5 309.3 L322.0 309.4 L322.5 309.3 L323.0 309.2 L323.5 309.0 L324.0 308.6 L324.5 308.0 L325.0 307.3 L325.5 306.2 L326.0 304.8 L326.5 302.9 L327.0 300.4 L327.5 297.3 L328.0 293.5 L328.5 289.0 L329.0 283.7 L329.5 277.9 L330.0 271.4 L330.5 264.6 L331.0 257.5 L331.5 250.4 L332.0 243.5 L332.5 237.0 L333.0 231.2 L333.5 226.3 L334.0 222.5 L334.5 220.1 L335.0 219.0 L335.5 219.4 L336.0 221.1 L336.5 224.3 L337.0 228.6 L337.5 234.0 L338.0 240.2 L338.5 246.9 L339.0 254.0 L339.5 261.1 L340.0 268.1 L340.5 274.8 L341.0 281.1 L341.5 286.7 L342.0 291.7 L342.5 296.0 L343.0 299.6 L343.5 302.5 L344.0 304.7 L344.5 306.2 L345.0 307.0 L345.5 307.2 L346.0 306.8 L346.5 305.8 L347.1 304.1 L347.6 301.7 L348.1 298.6 L348.6 294.8 L349.1 290.4 L349.6 285.2 L350.1 279.5 L350.6 273.3 L351.1 266.6 L351.6 259.7 L352.1 252.8 L352.6 246.0 L353.1 239.7 L353.6 234.0 L354.1 229.2 L354.6 225.4 L355.1 222.9 L355.6 221.8 L356.1 222.0 L356.6 223.6 L357.1 226.6 L357.6 230.7 L358.1 235.9 L358.6 241.9 L359.1 248.4 L359.6 255.2 L360.1 262.2 L360.6 269.0 L361.1 275.6 L361.6 281.7 L362.1 287.3 L362.6 292.3 L363.1 296.7 L363.6 300.5 L364.1 303.7 L364.6 306.3 L365.1 308.4 L365.6 310.1 L366.1 311.4 L366.6 312.4 L367.1 313.2 L367.6 313.7 L368.1 314.2 L368.6 314.5 L369.1 314.7 L369.6 314.8 L370.1 314.9 L370.6 315.0 L371.1 315.0 L371.6 315.1 L372.1 315.1 L372.6 315.1 L373.1 315.1 L373.6 315.1 L374.1 315.1 L374.6 315.1 L375.1 315.1 L375.6 315.1 L376.1 315.1 L376.6 315.1 L377.1 315.1 L377.6 315.1 L378.1 315.1 L378.6 315.1 L379.1 315.1 L379.6 315.1 L380.1 315.1 L380.6 315.1 L381.1 315.1 L381.6 315.1 L382.1 315.1 L382.6 315.1 L383.1 315.1 L383.6 315.1 L384.1 315.1 L384.6 315.1 L385.1 315.1 L385.6 315.1 L386.1 315.1 L386.6 315.1 L387.1 315.1 L387.6 315.1 L388.1 315.1 L388.6 315.1 L389.1 315.1 L389.6 315.1 L390.1 315.1 L390.6 315.0 L391.1 315.0 L391.6 314.9 L392.1 314.9 L392.6 314.8 L393.1 314.6 L393.6 314.4 L394.1 314.2 L394.6 313.9 L395.1 313.4 L395.6 312.9 L396.1 312.3 L396.6 311.6 L397.1 310.7 L397.6 309.7 L398.1 308.6 L398.6 307.4 L399.1 306.1 L399.6 304.8 L400.1 303.5 L400.6 302.3 L401.1 301.1 L401.6 300.1 L402.1 299.3 L402.6 298.7 L403.1 298.4 L403.6 298.3 L404.1 298.5 L404.6 299.0 L405.1 299.7 L405.6 300.6 L406.1 301.7 L406.6 302.9 L407.1 304.1 L407.6 305.4 L408.1 306.6 L408.6 307.8 L409.1 308.8 L409.6 309.8 L410.1 310.6 L410.6 311.3 L411.1 311.9 L411.6 312.4 L412.1 312.8 L412.6 313.1 L413.1 313.3 L413.6 313.5 L414.1 313.6 L414.6 313.6 L415.1 313.7 L415.6 313.7 L416.1 313.8 L416.6 313.8 L417.1 313.8 L417.6 313.8 L418.1 313.9 L418.6 313.9 L419.1 313.9 L419.6 314.0 L420.1 314.0 L420.6 314.1 L421.1 314.1 L421.6 314.2 L422.1 314.3 L422.6 314.3 L423.1 314.3 L423.6 314.3 L424.1 314.3 L424.7 314.3 L425.2 314.2 L425.7 314.1 L426.2 313.9 L426.7 313.6 L427.2 313.2 L427.7 312.7 L428.2 312.0 L428.7 311.2 L429.2 310.2 L429.7 309.0 L430.2 307.7 L430.7 306.2 L431.2 304.6 L431.7 302.9 L432.2 301.1 L432.7 299.3 L433.2 297.6 L433.7 296.0 L434.2 294.6 L434.7 293.5 L435.2 292.6 L435.7 292.2 L436.2 292.1 L436.7 292.4 L437.2 293.0 L437.7 294.0 L438.2 295.3 L438.7 296.8 L439.2 298.5 L439.7 300.2 L440.2 302.0 L440.7 303.8 L441.2 305.5 L441.7 307.1 L442.2 308.5 L442.7 309.8 L443.2 310.9 L443.7 311.8 L444.2 312.5 L444.7 313.2 L445.2 313.7 L445.7 314.0 L446.2 314.3 L446.7 314.6 L447.2 314.7 L447.7 314.8 L448.2 314.9 L448.7 315.0 L449.2 315.0 L449.7 315.1 L450.2 315.1 L450.7 315.1 L451.2 315.1 L451.7 315.1 L452.2 315.1 L452.7 315.1 L453.2 315.1 L453.7 315.1 L454.2 315.1 L454.7 315.1 L455.2 315.1 L455.7 315.1 L456.2 315.1 L456.7 315.1 L457.2 315.1 L457.7 315.1 L458.2 315.1 L458.7 315.1 L459.2 315.1 L459.7 315.1 L460.2 315.1 L460.7 315.1 L461.2 315.1 L461.7 315.1 L462.2 315.1 L462.7 315.1 L463.2 315.1 L463.7 315.1 L464.2 315.1 L464.7 315.1 L465.2 315.1 L465.7 315.0 L466.2 315.0 L466.7 315.0 L467.2 315.0 L467.7 314.9 L468.2 314.9 L468.7 314.8 L469.2 314.8 L469.7 314.7 L470.2 314.6 L470.7 314.5 L471.2 314.4 L471.7 314.3 L472.2 314.2 L472.7 314.1 L473.2 314.0 L473.7 313.8 L474.2 313.7 L474.7 313.6 L475.2 313.5 L475.7 313.4 L476.2 313.3 L476.7 313.3 L477.2 313.2 L477.7 313.2 L478.2 313.2 L478.7 313.2 L479.2 313.3 L479.7 313.3 L480.2 313.4 L480.7 313.5 L481.2 313.6 L481.7 313.7 L482.2 313.9 L482.7 314.0 L483.2 314.1 L483.7 314.2 L484.2 314.3 L484.7 314.4 L485.2 314.5 L485.7 314.6 L486.2 314.7 L486.7 314.8 L487.2 314.8 L487.7 314.9 L488.2 314.9 L488.7 315.0 L489.2 315.0 L489.7 315.0 L490.2 315.0 L490.7 315.1 L491.2 315.1 L491.7 315.1 L492.2 315.1 L492.7 315.1 L493.2 315.1 L493.7 315.1 L494.2 315.1 L494.7 315.1 L495.2 315.1 L495.7 315.1 L496.2 315.1 L496.7 315.1 L497.2 315.1 L497.7 315.1 L498.2 315.1 L498.7 315.1 L499.2 315.1 L499.7 315.1 L500.2 315.1 L500.7 315.1 L501.2 315.1 L501.7 315.1 L502.3 315.1 L502.8 315.1 L503.3 315.1 L503.8 315.1 L504.3 315.1 L504.8 315.1 L505.3 315.1 L505.8 315.1 L506.3 315.1 L506.8 315.1 L507.3 315.1 L507.8 315.1 L508.3 315.1 L508.8 315.1 L509.3 315.1 L509.8 315.1 L510.3 315.1 L510.8 315.1 L511.3 315.1 L511.8 315.1 L512.3 315.1 L512.8 315.1 L513.3 315.1 L513.8 315.1 L514.3 315.1 L514.8 315.1 L515.3 315.1 L515.8 315.1 L516.3 315.1 L516.8 315.1 L517.3 315.1 L517.8 315.1 L518.3 315.1 L518.8 315.1 L519.3 315.1 L519.8 315.1 L520.3 315.1 L520.8 315.1 L521.3 315.1 L521.8 315.1 L522.3 315.1 L522.8 315.1 L523.3 315.1 L523.8 315.1 L524.3 315.1 L524.8 315.1 L525.3 315.1 L525.8 315.1 L526.3 315.1 L526.8 315.1 L527.3 315.1 L527.8 315.1 L528.3 315.1 L528.8 315.1 L529.3 315.1 L529.8 315.1 L530.3 315.1 L530.8 315.1 L531.3 315.1 L531.8 315.1 L532.3 315.1 L532.8 315.1 L533.3 315.1 L533.8 315.1 L534.3 315.1 L534.8 315.1 L535.3 315.1 L535.8 315.1 L536.3 315.1 L536.8 315.1 L537.3 315.1 L537.8 315.1 L538.3 315.1 L538.8 315.1 L539.3 315.1 L539.8 315.1 L540.3 315.1 L540.8 315.1" fill="none" stroke="#0000ff" stroke-width="1.70" stroke-linejoin="round"/>
<path d="M308.0 234.3 L308.5 249.0 L309.0 262.8 L309.5 275.1 L310.0 285.4 L310.5 293.8 L311.0 300.1 L311.5 304.7 L312.0 307.7 L312.5 309.6 L313.0 310.4 L313.5 310.5 L314.0 310.0 L314.5 308.9 L315.0 307.3 L315.5 305.3 L316.0 303.0 L316.5 300.3 L317.0 297.3 L317.5 294.2 L318.0 291.1 L318.5 288.0 L319.0 285.2 L319.5 282.7 L320.0 280.8 L320.5 279.4 L321.0 278.8 L321.5 278.9 L322.0 279.8 L322.5 281.3 L323.0 283.4 L323.5 286.0 L324.0 288.9 L324.5 292.0 L325.0 295.2 L325.5 298.3 L326.0 301.1 L326.5 303.8 L327.0 306.1 L327.5 308.1 L328.0 309.7 L328.5 311.1 L329.0 312.2 L329.5 313.0 L330.0 313.6 L330.5 314.1 L331.0 314.4 L331.5 314.6 L332.0 314.8 L332.5 314.9 L333.0 315.0 L333.5 315.0 L334.0 315.0 L334.5 315.1 L335.0 315.1 L335.5 315.0 L336.0 315.0 L336.5 315.0 L337.0 314.9 L337.5 314.8 L338.0 314.7 L338.5 314.5 L339.0 314.3 L339.5 314.0 L340.0 313.6 L340.5 313.2 L341.0 312.6 L341.5 311.9 L342.0 311.0 L342.5 310.1 L343.0 309.0 L343.5 307.8 L344.0 306.4 L344.5 305.1 L345.0 303.6 L345.5 302.2 L346.0 300.8 L346.5 299.6 L347.1 298.4 L347.6 297.5 L348.1 296.7 L348.6 296.1 L349.1 295.7 L349.6 295.4 L350.1 295.3 L350.6 295.3 L351.1 295.3 L351.6 295.3 L352.1 295.3 L352.6 295.3 L353.1 295.1 L353.6 294.9 L354.1 294.5 L354.6 294.0 L355.1 293.3 L355.6 292.4 L356.1 291.2 L356.6 289.8 L357.1 288.0 L357.6 286.0 L358.1 283.6 L358.6 280.9 L359.1 278.1 L359.6 275.3 L360.1 272.6 L360.6 270.2 L361.1 268.3 L361.6 267.0 L362.1 266.5 L362.6 266.9 L363.1 268.1 L363.6 270.2 L364.1 272.9 L364.6 276.3 L365.1 280.2 L365.6 284.2 L366.1 288.4 L366.6 292.5 L367.1 296.3 L367.6 299.8 L368.1 302.9 L368.6 305.6 L369.1 307.8 L369.6 309.6 L370.1 311.1 L370.6 312.2 L371.1 313.1 L371.6 313.7 L372.1 314.1 L372.6 314.5 L373.1 314.7 L373.6 314.8 L374.1 314.9 L374.6 315.0 L375.1 315.0 L375.6 315.1 L376.1 315.1 L376.6 315.1 L377.1 315.1 L377.6 315.1 L378.1 315.1 L378.6 315.1 L379.1 315.1 L379.6 315.1 L380.1 315.1 L380.6 315.1 L381.1 315.1 L381.6 315.1 L382.1 315.1 L382.6 315.1 L383.1 315.1 L383.6 315.1 L384.1 315.1 L384.6 315.1 L385.1 315.1 L385.6 315.0 L386.1 315.0 L386.6 315.0 L387.1 314.9 L387.6 314.8 L388.1 314.6 L388.6 314.4 L389.1 314.2 L389.6 313.8 L390.1 313.3 L390.6 312.7 L391.1 311.9 L391.6 311.0 L392.1 309.9 L392.6 308.6 L393.1 307.0 L393.6 305.3 L394.1 303.4 L394.6 301.4 L395.1 299.2 L395.6 297.1 L396.1 295.0 L396.6 293.0 L397.1 291.3 L397.6 289.8 L398.1 288.6 L398.6 287.9 L399.1 287.6 L399.6 287.8 L400.1 288.4 L400.6 289.5 L401.1 290.9 L401.6 292.6 L402.1 294.5 L402.6 296.6 L403.1 298.7 L403.6 300.8 L404.1 302.9 L404.6 304.8 L405.1 306.6 L405.6 308.2 L406.1 309.6 L406.6 310.7 L407.1 311.7 L407.6 312.5 L408.1 313.2 L408.6 313.7 L409.1 314.1 L409.6 314.4 L410.1 314.6 L410.6 314.7 L411.1 314.9 L411.6 314.9 L412.1 315.0 L412.6 315.0 L413.1 315.1 L413.6 315.1 L414.1 315.1 L414.6 315.1 L415.1 315.1 L415.6 315.1 L416.1 315.1 L416.6 315.1 L417.1 315.1 L417.6 315.1 L418.1 315.1 L418.6 315.1 L419.1 315.1 L419.6 315.1 L420.1 315.1 L420.6 315.1 L421.1 315.1 L421.6 315.1 L422.1 315.1 L422.6 315.1 L423.1 315.1 L423.6 315.1 L424.1 315.1 L424.7 315.1 L425.2 315.1 L425.7 315.1 L426.2 315.1 L426.7 315.1 L427.2 315.1 L427.7 315.1 L428.2 315.1 L428.7 315.1 L429.2 315.1 L429.7 315.1 L430.2 315.1 L430.7 315.1 L431.2 315.1 L431.7 315.1 L432.2 315.1 L432.7 315.1 L433.2 315.1 L433.7 315.1 L434.2 315.0 L434.7 315.0 L435.2 315.0 L435.7 314.9 L436.2 314.9 L436.7 314.8 L437.2 314.6 L437.7 314.5 L438.2 314.3 L438.7 314.0 L439.2 313.7 L439.7 313.3 L440.2 312.8 L440.7 312.3 L441.2 311.6 L441.7 310.9 L442.2 310.0 L442.7 309.1 L443.2 308.1 L443.7 307.1 L444.2 306.0 L444.7 305.0 L445.2 303.9 L445.7 303.0 L446.2 302.1 L446.7 301.3 L447.2 300.8 L447.7 300.3 L448.2 300.1 L448.7 300.1 L449.2 300.3 L449.7 300.7 L450.2 301.3 L450.7 302.0 L451.2 302.9 L451.7 303.8 L452.2 304.9 L452.7 305.9 L453.2 307.0 L453.7 308.0 L454.2 309.0 L454.7 309.9 L455.2 310.8 L455.7 311.5 L456.2 312.2 L456.7 312.8 L457.2 313.3 L457.7 313.7 L458.2 314.0 L458.7 314.3 L459.2 314.5 L459.7 314.6 L460.2 314.8 L460.7 314.9 L461.2 314.9 L461.7 315.0 L462.2 315.0 L462.7 315.0 L463.2 315.1 L463.7 315.1 L464.2 315.1 L464.7 315.1 L465.2 315.1 L465.7 315.1 L466.2 315.1 L466.7 315.1 L467.2 315.1 L467.7 315.1 L468.2 315.1 L468.7 315.1 L469.2 315.1 L469.7 315.1 L470.2 315.1 L470.7 315.1 L471.2 315.1 L471.7 315.0 L472.2 315.0 L472.7 315.0 L473.2 315.0 L473.7 315.0 L474.2 314.9 L474.7 314.9 L475.2 314.9 L475.7 314.8 L476.2 314.8 L476.7 314.7 L477.2 314.7 L477.7 314.6 L478.2 314.6 L478.7 314.5 L479.2 314.5 L479.7 314.4 L480.2 314.4 L480.7 314.3 L481.2 314.3 L481.7 314.3 L482.2 314.3 L482.7 314.3 L483.2 314.3 L483.7 314.3 L484.2 314.3 L484.7 314.3 L485.2 314.4 L485.7 314.4 L486.2 314.5 L486.7 314.5 L487.2 314.6 L487.7 314.6 L488.2 314.7 L488.7 314.7 L489.2 314.8 L489.7 314.8 L490.2 314.9 L490.7 314.9 L491.2 314.9 L491.7 315.0 L492.2 315.0 L492.7 315.0 L493.2 315.0 L493.7 315.1 L494.2 315.1 L494.7 315.1 L495.2 315.1 L495.7 315.1 L496.2 315.1 L496.7 315.1 L497.2 315.1 L497.7 315.1 L498.2 315.1 L498.7 315.1 L499.2 315.1 L499.7 315.1 L500.2 315.1 L500.7 315.1 L501.2 315.1 L501.7 315.1 L502.3 315.1 L502.8 315.1 L503.3 315.1 L503.8 315.1 L504.3 315.1 L504.8 315.1 L505.3 315.1 L505.8 315.1 L506.3 315.1 L506.8 315.1 L507.3 315.1 L507.8 315.1 L508.3 315.1 L508.8 315.1 L509.3 315.1 L509.8 315.1 L510.3 315.1 L510.8 315.1 L511.3 315.1 L511.8 315.1 L512.3 315.1 L512.8 315.1 L513.3 315.1 L513.8 315.1 L514.3 315.1 L514.8 315.1 L515.3 315.1 L515.8 315.1 L516.3 315.1 L516.8 315.1 L517.3 315.1 L517.8 315.1 L518.3 315.1 L518.8 315.1 L519.3 315.1 L519.8 315.1 L520.3 315.1 L520.8 315.1 L521.3 315.1 L521.8 315.1 L522.3 315.1 L522.8 315.1 L523.3 315.1 L523.8 315.1 L524.3 315.1 L524.8 315.1 L525.3 315.1 L525.8 315.1 L526.3 315.1 L526.8 315.1 L527.3 315.1 L527.8 315.1 L528.3 315.1 L528.8 315.1 L529.3 315.1 L529.8 315.1 L530.3 315.1 L530.8 315.1 L531.3 315.1 L531.8 315.1 L532.3 315.1 L532.8 315.1 L533.3 315.1 L533.8 315.1 L534.3 315.1 L534.8 315.1 L535.3 315.1 L535.8 315.1 L536.3 315.1 L536.8 315.1 L537.3 315.1 L537.8 315.1 L538.3 315.1 L538.8 315.1 L539.3 315.1 L539.8 315.1 L540.3 315.1 L540.8 315.1" fill="none" stroke="#ff2020" stroke-width="1.45" stroke-dasharray="1.3 0.45"/>
<path d="M308.0 302.2 L308.5 301.4 L309.0 300.6 L309.5 299.6 L310.0 298.2 L310.5 296.2 L311.0 293.2 L311.5 289.2 L312.0 284.0 L312.5 277.5 L313.0 270.0 L313.5 261.6 L314.0 252.6 L314.5 243.3 L315.0 234.3 L315.5 225.8 L316.0 218.4 L316.5 212.6 L317.0 208.6 L317.5 206.6 L318.0 206.9 L318.5 209.4 L319.0 213.9 L319.5 220.2 L320.0 227.9 L320.5 236.6 L321.0 245.9 L321.5 255.3 L322.0 264.5 L322.5 273.2 L323.0 281.1 L323.5 288.0 L324.0 294.0 L324.5 299.0 L325.0 303.0 L325.5 306.3 L326.0 308.8 L326.5 310.6 L327.0 312.0 L327.5 313.0 L328.0 313.7 L328.5 314.1 L329.0 314.4 L329.5 314.6 L330.0 314.6 L330.5 314.6 L331.0 314.5 L331.5 314.3 L332.0 314.0 L332.5 313.6 L333.0 313.0 L333.5 312.4 L334.0 311.5 L334.5 310.5 L335.0 309.3 L335.5 308.0 L336.0 306.4 L336.5 304.7 L337.0 302.8 L337.5 300.8 L338.0 298.8 L338.5 296.7 L339.0 294.8 L339.5 293.0 L340.0 291.4 L340.5 290.1 L341.0 289.1 L341.5 288.5 L342.0 288.2 L342.5 288.3 L343.0 288.6 L343.5 289.2 L344.0 290.0 L344.5 291.0 L345.0 292.0 L345.5 293.0 L346.0 294.0 L346.5 295.0 L347.1 295.9 L347.6 296.7 L348.1 297.5 L348.6 298.3 L349.1 299.1 L349.6 299.9 L350.1 300.7 L350.6 301.6 L351.1 302.5 L351.6 303.5 L352.1 304.4 L352.6 305.2 L353.1 306.0 L353.6 306.6 L354.1 307.2 L354.6 307.5 L355.1 307.8 L355.6 307.9 L356.1 307.9 L356.6 307.8 L357.1 307.6 L357.6 307.3 L358.1 306.8 L358.6 306.3 L359.1 305.5 L359.6 304.5 L360.1 303.2 L360.6 301.6 L361.1 299.6 L361.6 297.2 L362.1 294.4 L362.6 291.3 L363.1 288.0 L363.6 284.6 L364.1 281.2 L364.6 277.9 L365.1 275.0 L365.6 272.6 L366.1 270.9 L366.6 269.8 L367.1 269.6 L367.6 270.2 L368.1 271.6 L368.6 273.7 L369.1 276.5 L369.6 279.7 L370.1 283.2 L370.6 286.9 L371.1 290.7 L371.6 294.3 L372.1 297.7 L372.6 300.8 L373.1 303.6 L373.6 306.0 L374.1 308.0 L374.6 309.7 L375.1 311.1 L375.6 312.1 L376.1 313.0 L376.6 313.6 L377.1 314.0 L377.6 314.4 L378.1 314.6 L378.6 314.8 L379.1 314.9 L379.6 315.0 L380.1 315.0 L380.6 315.1 L381.1 315.1 L381.6 315.1 L382.1 315.1 L382.6 315.1 L383.1 315.1 L383.6 315.1 L384.1 315.1 L384.6 315.1 L385.1 315.1 L385.6 315.1 L386.1 315.1 L386.6 315.1 L387.1 315.1 L387.6 315.1 L388.1 315.1 L388.6 315.1 L389.1 315.1 L389.6 315.0 L390.1 315.0 L390.6 314.9 L391.1 314.9 L391.6 314.7 L392.1 314.6 L392.6 314.4 L393.1 314.1 L393.6 313.8 L394.1 313.3 L394.6 312.7 L395.1 312.0 L395.6 311.2 L396.1 310.2 L396.6 309.0 L397.1 307.7 L397.6 306.3 L398.1 304.8 L398.6 303.2 L399.1 301.6 L399.6 300.1 L400.1 298.6 L400.6 297.3 L401.1 296.2 L401.6 295.3 L402.1 294.8 L402.6 294.6 L403.1 294.7 L403.6 295.2 L404.1 296.0 L404.6 297.0 L405.1 298.3 L405.6 299.8 L406.1 301.3 L406.6 302.9 L407.1 304.5 L407.6 306.0 L408.1 307.5 L408.6 308.8 L409.1 310.0 L409.6 311.0 L410.1 311.9 L410.6 312.6 L411.1 313.2 L411.6 313.7 L412.1 314.1 L412.6 314.3 L413.1 314.6 L413.6 314.7 L414.1 314.8 L414.6 314.9 L415.1 315.0 L415.6 315.0 L416.1 315.1 L416.6 315.1 L417.1 315.1 L417.6 315.1 L418.1 315.1 L418.6 315.1 L419.1 315.1 L419.6 315.1 L420.1 315.1 L420.6 315.1 L421.1 315.1 L421.6 315.1 L422.1 315.1 L422.6 315.1 L423.1 315.1 L423.6 315.1 L424.1 315.1 L424.7 315.1 L425.2 315.1 L425.7 315.1 L426.2 315.1 L426.7 315.1 L427.2 315.1 L427.7 315.1 L428.2 315.1 L428.7 315.1 L429.2 315.1 L429.7 315.1 L430.2 315.1 L430.7 315.1 L431.2 315.1 L431.7 315.1 L432.2 315.1 L432.7 315.1 L433.2 315.1 L433.7 315.1 L434.2 315.1 L434.7 315.1 L435.2 315.1 L435.7 315.0 L436.2 315.0 L436.7 315.0 L437.2 314.9 L437.7 314.8 L438.2 314.7 L438.7 314.5 L439.2 314.4 L439.7 314.1 L440.2 313.8 L440.7 313.4 L441.2 313.0 L441.7 312.5 L442.2 311.8 L442.7 311.1 L443.2 310.3 L443.7 309.4 L444.2 308.4 L444.7 307.4 L445.2 306.4 L445.7 305.3 L446.2 304.3 L446.7 303.3 L447.2 302.4 L447.7 301.6 L448.2 300.9 L448.7 300.5 L449.2 300.2 L449.7 300.1 L450.2 300.2 L450.7 300.6 L451.2 301.1 L451.7 301.8 L452.2 302.6 L452.7 303.5 L453.2 304.5 L453.7 305.6 L454.2 306.6 L454.7 307.7 L455.2 308.7 L455.7 309.6 L456.2 310.5 L456.7 311.3 L457.2 312.0 L457.7 312.6 L458.2 313.1 L458.7 313.5 L459.2 313.9 L459.7 314.2 L460.2 314.4 L460.7 314.6 L461.2 314.7 L461.7 314.8 L462.2 314.9 L462.7 315.0 L463.2 315.0 L463.7 315.0 L464.2 315.1 L464.7 315.1 L465.2 315.1 L465.7 315.1 L466.2 315.1 L466.7 315.1 L467.2 315.1 L467.7 315.1 L468.2 315.1 L468.7 315.1 L469.2 315.1 L469.7 315.1 L470.2 315.1 L470.7 315.1 L471.2 315.0 L471.7 315.0 L472.2 315.0 L472.7 315.0 L473.2 315.0 L473.7 314.9 L474.2 314.9 L474.7 314.8 L475.2 314.8 L475.7 314.7 L476.2 314.7 L476.7 314.6 L477.2 314.6 L477.7 314.5 L478.2 314.4 L478.7 314.4 L479.2 314.3 L479.7 314.2 L480.2 314.2 L480.7 314.1 L481.2 314.1 L481.7 314.1 L482.2 314.0 L482.7 314.0 L483.2 314.1 L483.7 314.1 L484.2 314.1 L484.7 314.1 L485.2 314.2 L485.7 314.3 L486.2 314.3 L486.7 314.4 L487.2 314.5 L487.7 314.5 L488.2 314.6 L488.7 314.7 L489.2 314.7 L489.7 314.8 L490.2 314.8 L490.7 314.9 L491.2 314.9 L491.7 314.9 L492.2 315.0 L492.7 315.0 L493.2 315.0 L493.7 315.0 L494.2 315.1 L494.7 315.1 L495.2 315.1 L495.7 315.1 L496.2 315.1 L496.7 315.1 L497.2 315.1 L497.7 315.1 L498.2 315.1 L498.7 315.1 L499.2 315.1 L499.7 315.1 L500.2 315.1 L500.7 315.1 L501.2 315.1 L501.7 315.1 L502.3 315.1 L502.8 315.1 L503.3 315.1 L503.8 315.1 L504.3 315.1 L504.8 315.1 L505.3 315.1 L505.8 315.1 L506.3 315.1 L506.8 315.1 L507.3 315.1 L507.8 315.1 L508.3 315.1 L508.8 315.1 L509.3 315.1 L509.8 315.1 L510.3 315.1 L510.8 315.1 L511.3 315.1 L511.8 315.1 L512.3 315.1 L512.8 315.1 L513.3 315.1 L513.8 315.1 L514.3 315.1 L514.8 315.1 L515.3 315.1 L515.8 315.1 L516.3 315.1 L516.8 315.1 L517.3 315.1 L517.8 315.1 L518.3 315.1 L518.8 315.1 L519.3 315.1 L519.8 315.1 L520.3 315.1 L520.8 315.1 L521.3 315.1 L521.8 315.1 L522.3 315.1 L522.8 315.1 L523.3 315.1 L523.8 315.1 L524.3 315.1 L524.8 315.1 L525.3 315.1 L525.8 315.1 L526.3 315.1 L526.8 315.1 L527.3 315.1 L527.8 315.1 L528.3 315.1 L528.8 315.1 L529.3 315.1 L529.8 315.1 L530.3 315.1 L530.8 315.1 L531.3 315.1 L531.8 315.1 L532.3 315.1 L532.8 315.1 L533.3 315.1 L533.8 315.1 L534.3 315.1 L534.8 315.1 L535.3 315.1 L535.8 315.1 L536.3 315.1 L536.8 315.1 L537.3 315.1 L537.8 315.1 L538.3 315.1 L538.8 315.1 L539.3 315.1 L539.8 315.1 L540.3 315.1 L540.8 315.1" fill="none" stroke="#20e0e0" stroke-width="1.45" stroke-dasharray="1.3 0.45"/>
</g>
<rect x="308.00" y="188.30" width="232.80" height="126.80" fill="none" stroke="#2b2b2b" stroke-width="1.60"/>
<path d="M327.40 315.10 V312.60 M327.40 188.30 V190.80 M366.20 315.10 V312.60 M366.20 188.30 V190.80 M405.00 315.10 V312.60 M405.00 188.30 V190.80 M443.80 315.10 V312.60 M443.80 188.30 V190.80 M482.60 315.10 V312.60 M482.60 188.30 V190.80 M521.40 315.10 V312.60 M521.40 188.30 V190.80 M308.00 315.10 H310.50 M540.80 315.10 H538.30 M308.00 293.97 H310.50 M540.80 293.97 H538.30 M308.00 272.83 H310.50 M540.80 272.83 H538.30 M308.00 251.70 H310.50 M540.80 251.70 H538.30 M308.00 230.57 H310.50 M540.80 230.57 H538.30 M308.00 209.43 H310.50 M540.80 209.43 H538.30 M308.00 188.30 H310.50 M540.80 188.30 H538.30" stroke="#2b2b2b" stroke-width="1.28" fill="none"/>
<text x="327.40" y="325.50" font-size="9.00" text-anchor="middle" font-weight="normal" fill="#222">100</text>
<text x="366.20" y="325.50" font-size="9.00" text-anchor="middle" font-weight="normal" fill="#222">200</text>
<text x="405.00" y="325.50" font-size="9.00" text-anchor="middle" font-weight="normal" fill="#222">300</text>
<text x="443.80" y="325.50" font-size="9.00" text-anchor="middle" font-weight="normal" fill="#222">400</text>
<text x="482.60" y="325.50" font-size="9.00" text-anchor="middle" font-weight="normal" fill="#222">500</text>
<text x="521.40" y="325.50" font-size="9.00" text-anchor="middle" font-weight="normal" fill="#222">600</text>
<text x="305.50" y="318.07" font-size="9.00" text-anchor="end" font-weight="normal" fill="#222">0</text>
<text x="305.50" y="296.94" font-size="9.00" text-anchor="end" font-weight="normal" fill="#222">1</text>
<text x="305.50" y="275.80" font-size="9.00" text-anchor="end" font-weight="normal" fill="#222">2</text>
<text x="305.50" y="254.67" font-size="9.00" text-anchor="end" font-weight="normal" fill="#222">3</text>
<text x="305.50" y="233.54" font-size="9.00" text-anchor="end" font-weight="normal" fill="#222">4</text>
<text x="305.50" y="212.40" font-size="9.00" text-anchor="end" font-weight="normal" fill="#222">5</text>
<text x="305.50" y="191.27" font-size="9.00" text-anchor="end" font-weight="normal" fill="#222">6</text>
<path d="M365.50 201.00 H386.40" stroke="#0000ff" stroke-width="1.70"/>
<text x="388.90" y="204.24" font-size="8.30" text-anchor="start" font-weight="normal" fill="#222">2.0GPa</text>
<path d="M365.50 213.00 H386.40" stroke="#ff2020" stroke-width="1.45" stroke-dasharray="1.3 0.45"/>
<text x="388.90" y="216.24" font-size="8.30" text-anchor="start" font-weight="normal" fill="#222">2.5GPa</text>
<path d="M365.50 225.10 H386.40" stroke="#20e0e0" stroke-width="1.45" stroke-dasharray="1.3 0.45"/>
<text x="388.90" y="228.34" font-size="8.30" text-anchor="start" font-weight="normal" fill="#222">3.0GPa</text>
<rect x="465.00" y="193.60" width="66.70" height="31.40" fill="#fff"/>
<clipPath id="c9"><rect x="465.00" y="193.60" width="66.70" height="31.40"/></clipPath>
<g clip-path="url(#c9)">
<path d="M465.0 200.1 L465.5 199.5 L466.0 198.9 L466.5 198.3 L467.0 197.7 L467.5 197.2 L468.0 196.7 L468.5 196.3 L469.0 195.9 L469.5 195.5 L470.0 195.1 L470.5 194.8 L471.0 194.6 L471.5 194.4 L472.0 194.2 L472.5 194.1 L473.0 194.0 L473.5 194.0 L474.0 194.0 L474.5 194.0 L475.0 194.1 L475.5 194.3 L476.0 194.5 L476.5 194.7 L477.0 195.0 L477.5 195.3 L478.0 195.6 L478.5 196.0 L479.0 196.5 L479.5 196.9 L480.0 197.4 L480.5 198.0 L481.0 198.5 L481.5 199.1 L482.1 199.7 L482.6 200.3 L483.1 201.0 L483.6 201.7 L484.1 202.4 L484.6 203.0 L485.1 203.8 L485.6 204.5 L486.1 205.2 L486.6 205.9 L487.1 206.6 L487.6 207.4 L488.1 208.1 L488.6 208.8 L489.1 209.5 L489.6 210.2 L490.1 210.9 L490.6 211.5 L491.1 212.2 L491.6 212.8 L492.1 213.5 L492.6 214.1 L493.1 214.7 L493.6 215.3 L494.1 215.8 L494.6 216.4 L495.1 216.9 L495.6 217.4 L496.1 217.9 L496.6 218.3 L497.1 218.8 L497.6 219.2 L498.1 219.6 L498.6 220.0 L499.1 220.3 L499.6 220.7 L500.1 221.0 L500.6 221.3 L501.1 221.6 L501.6 221.8 L502.1 222.1 L502.6 222.3 L503.1 222.5 L503.6 222.7 L504.1 222.9 L504.6 223.1 L505.1 223.3 L505.6 223.4 L506.1 223.6 L506.6 223.7 L507.1 223.8 L507.6 223.9 L508.1 224.0 L508.6 224.1 L509.1 224.2 L509.6 224.3 L510.1 224.4 L510.6 224.4 L511.1 224.5 L511.6 224.5 L512.1 224.6 L512.6 224.6 L513.1 224.7 L513.6 224.7 L514.1 224.7 L514.6 224.8 L515.2 224.8 L515.7 224.8 L516.2 224.8 L516.7 224.9 L517.2 224.9 L517.7 224.9 L518.2 224.9 L518.7 224.9 L519.2 224.9 L519.7 224.9 L520.2 224.9 L520.7 225.0 L521.2 225.0 L521.7 225.0 L522.2 225.0 L522.7 225.0 L523.2 225.0 L523.7 225.0 L524.2 225.0 L524.7 225.0 L525.2 225.0 L525.7 225.0 L526.2 225.0 L526.7 225.0 L527.2 225.0 L527.7 225.0 L528.2 225.0 L528.7 225.0 L529.2 225.0 L529.7 225.0 L530.2 225.0 L530.7 225.0 L531.2 225.0 L531.7 225.0" fill="none" stroke="#30e8e8" stroke-width="1.30" stroke-linejoin="round"/>
<path d="M465.0 224.9 L465.5 224.8 L466.0 224.8 L466.5 224.8 L467.0 224.8 L467.5 224.7 L468.0 224.7 L468.5 224.7 L469.0 224.7 L469.5 224.6 L470.0 224.6 L470.5 224.5 L471.0 224.5 L471.5 224.5 L472.0 224.4 L472.5 224.4 L473.0 224.3 L473.5 224.2 L474.0 224.2 L474.5 224.1 L475.0 224.0 L475.5 223.9 L476.0 223.8 L476.5 223.7 L477.0 223.6 L477.5 223.5 L478.0 223.4 L478.5 223.3 L479.0 223.2 L479.5 223.1 L480.0 222.9 L480.5 222.8 L481.0 222.6 L481.5 222.5 L482.1 222.3 L482.6 222.2 L483.1 222.0 L483.6 221.8 L484.1 221.6 L484.6 221.4 L485.1 221.2 L485.6 221.0 L486.1 220.8 L486.6 220.6 L487.1 220.4 L487.6 220.2 L488.1 220.0 L488.6 219.8 L489.1 219.5 L489.6 219.3 L490.1 219.1 L490.6 218.9 L491.1 218.6 L491.6 218.4 L492.1 218.2 L492.6 218.0 L493.1 217.7 L493.6 217.5 L494.1 217.3 L494.6 217.1 L495.1 216.9 L495.6 216.7 L496.1 216.5 L496.6 216.4 L497.1 216.2 L497.6 216.0 L498.1 215.9 L498.6 215.8 L499.1 215.6 L499.6 215.5 L500.1 215.4 L500.6 215.3 L501.1 215.2 L501.6 215.2 L502.1 215.1 L502.6 215.1 L503.1 215.1 L503.6 215.1 L504.1 215.1 L504.6 215.1 L505.1 215.1 L505.6 215.2 L506.1 215.2 L506.6 215.3 L507.1 215.4 L507.6 215.5 L508.1 215.6 L508.6 215.7 L509.1 215.9 L509.6 216.0 L510.1 216.2 L510.6 216.3 L511.1 216.5 L511.6 216.7 L512.1 216.9 L512.6 217.1 L513.1 217.3 L513.6 217.5 L514.1 217.7 L514.6 217.9 L515.2 218.1 L515.7 218.4 L516.2 218.6 L516.7 218.8 L517.2 219.0 L517.7 219.3 L518.2 219.5 L518.7 219.7 L519.2 219.9 L519.7 220.1 L520.2 220.4 L520.7 220.6 L521.2 220.8 L521.7 221.0 L522.2 221.2 L522.7 221.4 L523.2 221.6 L523.7 221.8 L524.2 221.9 L524.7 222.1 L525.2 222.3 L525.7 222.4 L526.2 222.6 L526.7 222.8 L527.2 222.9 L527.7 223.0 L528.2 223.2 L528.7 223.3 L529.2 223.4 L529.7 223.5 L530.2 223.6 L530.7 223.7 L531.2 223.8 L531.7 223.9" fill="none" stroke="#ff3030" stroke-width="1.30" stroke-linejoin="round"/>
</g>
<rect x="465.00" y="193.60" width="66.70" height="31.40" fill="none" stroke="#333" stroke-width="1.00"/>
<path d="M465.00 225.00 V223.50 M465.00 193.60 V195.10 M491.68 225.00 V223.50 M491.68 193.60 V195.10 M518.36 225.00 V223.50 M518.36 193.60 V195.10 M465.00 225.00 H466.50 M531.70 225.00 H530.20 M465.00 207.56 H466.50 M531.70 207.56 H530.20" stroke="#333" stroke-width="0.80" fill="none"/>
<text x="465.00" y="233.20" font-size="7.00" text-anchor="middle" font-weight="normal" fill="#222">0</text>
<text x="491.68" y="233.20" font-size="7.00" text-anchor="middle" font-weight="normal" fill="#222">20</text>
<text x="518.36" y="233.20" font-size="7.00" text-anchor="middle" font-weight="normal" fill="#222">40</text>
<text x="463.50" y="227.31" font-size="7.00" text-anchor="end" font-weight="normal" fill="#222">0</text>
<text x="463.50" y="209.87" font-size="7.00" text-anchor="end" font-weight="normal" fill="#222">100</text>
<text x="456.40" y="243.00" font-size="7.00" text-anchor="start" fill="#222">Raman frequency shift / cm</text>
<text x="449.50" y="209.00" font-size="7.00" text-anchor="middle" font-weight="normal" fill="#222" transform="rotate(-90 449.50 209.00)">Intensity a.u</text>
<rect x="463.60" y="248.40" width="69.40" height="28.60" fill="#fff"/>
<clipPath id="c10"><rect x="463.60" y="248.40" width="69.40" height="28.60"/></clipPath>
<g clip-path="url(#c10)">
<path d="M463.6 272.8 L464.1 271.5 L464.6 274.3 L465.1 273.6 L465.6 265.1 L466.1 252.4 L466.6 249.1 L467.1 259.6 L467.6 271.1 L468.1 275.9 L468.6 276.9 L469.1 277.0 L469.6 277.0 L470.1 277.0 L470.6 277.0 L471.1 277.0 L471.6 277.0 L472.1 276.9 L472.7 276.2 L473.2 274.6 L473.7 272.7 L474.2 272.8 L474.7 274.8 L475.2 276.4 L475.7 276.9 L476.2 277.0 L476.7 277.0 L477.2 277.0 L477.7 277.0 L478.2 277.0 L478.7 277.0 L479.2 277.0 L479.7 277.0 L480.2 277.0 L480.7 277.0 L481.2 277.0 L481.7 277.0 L482.2 277.0 L482.7 277.0 L483.2 277.0 L483.7 277.0 L484.2 277.0 L484.7 277.0 L485.2 277.0 L485.7 277.0 L486.2 277.0 L486.7 277.0 L487.2 277.0 L487.7 277.0 L488.2 277.0 L488.7 277.0 L489.2 277.0 L489.8 277.0 L490.3 277.0 L490.8 277.0 L491.3 277.0 L491.8 277.0 L492.3 277.0 L492.8 277.0 L493.3 277.0 L493.8 277.0 L494.3 277.0 L494.8 277.0 L495.3 277.0 L495.8 277.0 L496.3 277.0 L496.8 277.0 L497.3 277.0 L497.8 277.0 L498.3 277.0 L498.8 277.0 L499.3 277.0 L499.8 277.0 L500.3 277.0 L500.8 277.0 L501.3 277.0 L501.8 277.0 L502.3 277.0 L502.8 277.0 L503.3 277.0 L503.8 277.0 L504.3 277.0 L504.8 277.0 L505.3 277.0 L505.8 277.0 L506.3 277.0 L506.8 276.8 L507.4 276.2 L507.9 275.3 L508.4 274.7 L508.9 275.0 L509.4 275.9 L509.9 276.6 L510.4 276.9 L510.9 277.0 L511.4 277.0 L511.9 277.0 L512.4 277.0 L512.9 277.0 L513.4 277.0 L513.9 277.0 L514.4 277.0 L514.9 277.0 L515.4 277.0 L515.9 277.0 L516.4 277.0 L516.9 277.0 L517.4 277.0 L517.9 277.0 L518.4 277.0 L518.9 277.0 L519.4 277.0 L519.9 277.0 L520.4 277.0 L520.9 277.0 L521.4 277.0 L521.9 277.0 L522.4 277.0 L522.9 277.0 L523.4 277.0 L523.9 277.0 L524.5 277.0 L525.0 277.0 L525.5 277.0 L526.0 277.0 L526.5 277.0 L527.0 277.0 L527.5 277.0 L528.0 276.8 L528.5 276.5 L529.0 276.2 L529.5 276.2 L530.0 276.4 L530.5 276.8 L531.0 276.9 L531.5 277.0 L532.0 277.0 L532.5 277.0 L533.0 277.0" fill="none" stroke="#0000ff" stroke-width="1.30" stroke-linejoin="round"/>
<path d="M463.6 272.8 L464.1 271.5 L464.6 274.7 L465.1 276.2 L465.6 274.2 L466.1 267.9 L466.6 260.8 L467.1 261.3 L467.6 268.7 L468.1 274.6 L468.6 276.6 L469.1 277.0 L469.6 277.0 L470.1 277.0 L470.6 277.0 L471.1 277.0 L471.6 277.0 L472.1 276.9 L472.7 276.2 L473.2 274.3 L473.7 272.2 L474.2 272.3 L474.7 274.5 L475.2 276.3 L475.7 276.9 L476.2 277.0 L476.7 277.0 L477.2 277.0 L477.7 277.0 L478.2 277.0 L478.7 277.0 L479.2 277.0 L479.7 277.0 L480.2 277.0 L480.7 277.0 L481.2 277.0 L481.7 277.0 L482.2 277.0 L482.7 277.0 L483.2 277.0 L483.7 277.0 L484.2 277.0 L484.7 277.0 L485.2 277.0 L485.7 277.0 L486.2 277.0 L486.7 277.0 L487.2 277.0 L487.7 277.0 L488.2 277.0 L488.7 277.0 L489.2 277.0 L489.8 277.0 L490.3 277.0 L490.8 277.0 L491.3 277.0 L491.8 277.0 L492.3 277.0 L492.8 277.0 L493.3 277.0 L493.8 277.0 L494.3 277.0 L494.8 277.0 L495.3 277.0 L495.8 277.0 L496.3 277.0 L496.8 277.0 L497.3 277.0 L497.8 277.0 L498.3 277.0 L498.8 277.0 L499.3 277.0 L499.8 277.0 L500.3 277.0 L500.8 277.0 L501.3 277.0 L501.8 277.0 L502.3 277.0 L502.8 277.0 L503.3 277.0 L503.8 277.0 L504.3 277.0 L504.8 277.0 L505.3 277.0 L505.8 277.0 L506.3 277.0 L506.8 277.0 L507.4 276.9 L507.9 276.7 L508.4 276.0 L508.9 275.0 L509.4 274.4 L509.9 274.9 L510.4 276.0 L510.9 276.7 L511.4 276.9 L511.9 277.0 L512.4 277.0 L512.9 277.0 L513.4 277.0 L513.9 277.0 L514.4 277.0 L514.9 277.0 L515.4 277.0 L515.9 277.0 L516.4 277.0 L516.9 277.0 L517.4 277.0 L517.9 277.0 L518.4 277.0 L518.9 277.0 L519.4 277.0 L519.9 277.0 L520.4 277.0 L520.9 277.0 L521.4 277.0 L521.9 277.0 L522.4 277.0 L522.9 277.0 L523.4 277.0 L523.9 277.0 L524.5 277.0 L525.0 277.0 L525.5 277.0 L526.0 277.0 L526.5 277.0 L527.0 277.0 L527.5 277.0 L528.0 276.9 L528.5 276.7 L529.0 276.5 L529.5 276.4 L530.0 276.6 L530.5 276.8 L531.0 277.0 L531.5 277.0 L532.0 277.0 L532.5 277.0 L533.0 277.0" fill="none" stroke="#ff3030" stroke-width="1.10" stroke-linejoin="round"/>
<path d="M463.6 272.8 L464.1 271.5 L464.6 274.8 L465.1 276.6 L465.6 275.9 L466.1 272.3 L466.6 265.4 L467.1 261.3 L467.6 265.3 L468.1 272.3 L468.6 275.9 L469.1 276.9 L469.6 277.0 L470.1 277.0 L470.6 277.0 L471.1 277.0 L471.6 277.0 L472.1 276.9 L472.7 276.4 L473.2 275.2 L473.7 273.8 L474.2 273.9 L474.7 275.3 L475.2 276.5 L475.7 276.9 L476.2 277.0 L476.7 277.0 L477.2 277.0 L477.7 277.0 L478.2 277.0 L478.7 277.0 L479.2 277.0 L479.7 277.0 L480.2 277.0 L480.7 277.0 L481.2 277.0 L481.7 277.0 L482.2 277.0 L482.7 277.0 L483.2 277.0 L483.7 277.0 L484.2 277.0 L484.7 277.0 L485.2 277.0 L485.7 277.0 L486.2 277.0 L486.7 277.0 L487.2 277.0 L487.7 277.0 L488.2 277.0 L488.7 277.0 L489.2 277.0 L489.8 277.0 L490.3 277.0 L490.8 277.0 L491.3 277.0 L491.8 277.0 L492.3 277.0 L492.8 277.0 L493.3 277.0 L493.8 277.0 L494.3 277.0 L494.8 277.0 L495.3 277.0 L495.8 277.0 L496.3 277.0 L496.8 277.0 L497.3 277.0 L497.8 277.0 L498.3 277.0 L498.8 277.0 L499.3 277.0 L499.8 277.0 L500.3 277.0 L500.8 277.0 L501.3 277.0 L501.8 277.0 L502.3 277.0 L502.8 277.0 L503.3 277.0 L503.8 277.0 L504.3 277.0 L504.8 277.0 L505.3 277.0 L505.8 277.0 L506.3 277.0 L506.8 277.0 L507.4 277.0 L507.9 276.9 L508.4 276.5 L508.9 275.6 L509.4 274.2 L509.9 273.6 L510.4 274.4 L510.9 275.7 L511.4 276.6 L511.9 276.9 L512.4 277.0 L512.9 277.0 L513.4 277.0 L513.9 277.0 L514.4 277.0 L514.9 277.0 L515.4 277.0 L515.9 277.0 L516.4 277.0 L516.9 277.0 L517.4 277.0 L517.9 277.0 L518.4 277.0 L518.9 277.0 L519.4 277.0 L519.9 277.0 L520.4 277.0 L520.9 277.0 L521.4 277.0 L521.9 277.0 L522.4 277.0 L522.9 277.0 L523.4 277.0 L523.9 277.0 L524.5 277.0 L525.0 277.0 L525.5 277.0 L526.0 277.0 L526.5 277.0 L527.0 277.0 L527.5 277.0 L528.0 276.9 L528.5 276.7 L529.0 276.5 L529.5 276.4 L530.0 276.6 L530.5 276.8 L531.0 277.0 L531.5 277.0 L532.0 277.0 L532.5 277.0 L533.0 277.0" fill="none" stroke="#30e0e0" stroke-width="1.10" stroke-linejoin="round"/>
</g>
<rect x="463.60" y="248.40" width="69.40" height="28.60" fill="none" stroke="#333" stroke-width="1.00"/>
<path d="M477.41 277.00 V275.50 M477.41 248.40 V249.90 M495.94 277.00 V275.50 M495.94 248.40 V249.90 M514.47 277.00 V275.50 M514.47 248.40 V249.90 M533.00 277.00 V275.50 M533.00 248.40 V249.90 M463.60 277.00 H465.10 M533.00 277.00 H531.50 M463.60 262.70 H465.10 M533.00 262.70 H531.50 M463.60 248.40 H465.10 M533.00 248.40 H531.50" stroke="#333" stroke-width="0.80" fill="none"/>
<text x="477.41" y="285.20" font-size="7.00" text-anchor="middle" font-weight="normal" fill="#222">600</text>
<text x="495.94" y="285.20" font-size="7.00" text-anchor="middle" font-weight="normal" fill="#222">800</text>
<text x="514.47" y="285.20" font-size="7.00" text-anchor="middle" font-weight="normal" fill="#222">1000</text>
<text x="533.00" y="285.20" font-size="7.00" text-anchor="middle" font-weight="normal" fill="#222">1200</text>
<text x="462.10" y="279.31" font-size="7.00" text-anchor="end" font-weight="normal" fill="#222">0</text>
<text x="462.10" y="265.01" font-size="7.00" text-anchor="end" font-weight="normal" fill="#222">0.05</text>
<text x="462.10" y="250.71" font-size="7.00" text-anchor="end" font-weight="normal" fill="#222">0.1</text>
<text x="497.80" y="294.40" font-size="6.80" text-anchor="middle" fill="#222">Raman frequency shift / cm<tspan font-size="4.76" dy="-2.72">-1</tspan></text>
<text x="444.50" y="263.00" font-size="7.00" text-anchor="middle" font-weight="normal" fill="#222" transform="rotate(-90 444.50 263.00)">Intensity a.u.</text>
<text x="424.50" y="339.80" font-size="9.45" text-anchor="middle" fill="#222">Raman frequency shift / cm<tspan font-size="6.61" dy="-3.78">-1</tspan></text>
<text x="296.50" y="251.20" font-size="9.20" text-anchor="middle" font-weight="normal" fill="#222" transform="rotate(-90 296.50 251.20)">Intensity a.u.</text>
<text x="413.60" y="370.00" font-size="12.30" text-anchor="middle" font-weight="bold" fill="#222">(d)</text>
</svg>
</body></html>
